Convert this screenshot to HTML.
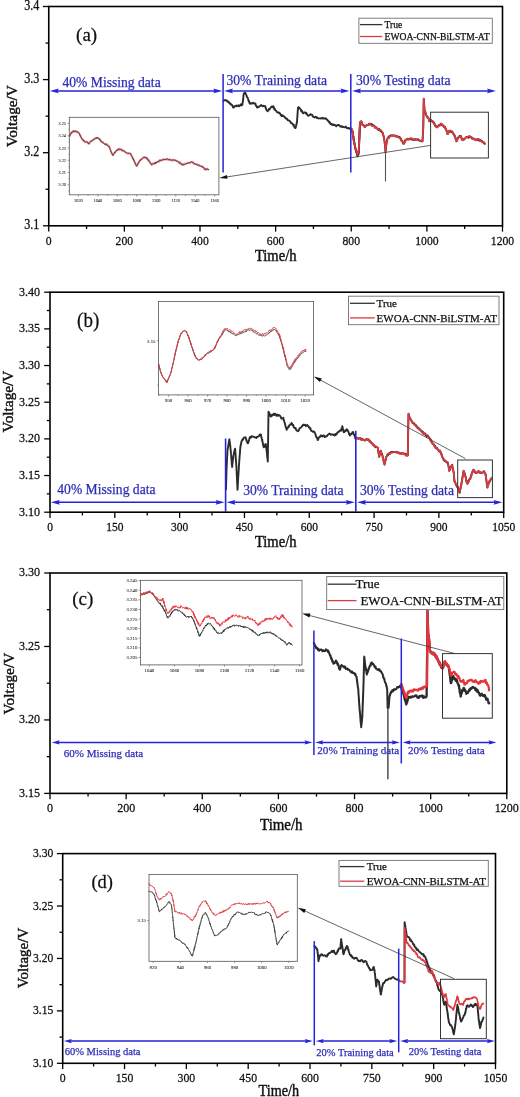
<!DOCTYPE html>
<html><head><meta charset="utf-8"><title>Figure</title>
<style>html,body{margin:0;padding:0;background:#fff;width:520px;height:1097px;overflow:hidden}svg{display:block}</style>
</head><body>
<svg width="520" height="1097" viewBox="0 0 520 1097" font-family="'Liberation Serif', 'Times New Roman', serif">
<rect width="520" height="1097" fill="#fff"/>
<polyline points="223.5,100.8 224.42,100.38 225.33,99.97 226.25,100.5 226.79,101.24 227.32,100.66 227.86,101.96 228.39,102.12 228.93,102.03 229.46,103.3 230,103.75 230.54,103.45 231.07,104.7 231.61,104.58 232.14,105.16 232.68,106.29 233.21,107.55 233.75,107.5 234.38,106.32 235,106 235.62,106.23 236.25,105.5 237,106.31 237.75,105.64 238.5,105.31 239.25,106.36 240,105.5 240.83,104.35 241.67,105.48 242.5,104.5 242.58,103.4 242.67,102.43 242.75,101.66 242.83,101.29 242.92,101.49 243,99.63 243.08,99.63 243.17,99.02 243.25,97.82 243.33,97.42 243.42,95.83 243.5,95.11 243.58,94.65 243.67,94.79 243.75,93.75 244.38,92.99 245,92.5 245.36,92.88 245.71,94.08 246.07,94.56 246.43,95 246.79,96.6 247.14,97.14 247.5,97.5 247.78,97.73 248.06,99.02 248.33,99.63 248.61,100.95 248.89,101.39 249.17,101.28 249.44,103.23 249.72,102.37 250,103.75 250.83,103.35 251.67,103.71 252.5,103 253.33,102.62 254.17,103.48 255,103.75 255.42,103.55 255.83,105.3 256.25,106.1 256.67,106.38 257.08,107.55 257.5,107.5 258.12,106.75 258.75,107.02 259.38,106.42 260,105.98 260.62,105.34 261.25,105 262,105.86 262.75,106.3 263.5,105.7 264.25,106.3 265,106.25 265.36,106.17 265.71,108.04 266.07,108.66 266.43,109.99 266.79,110.4 267.14,110.15 267.5,111.25 268,110.54 268.5,110.55 269,108.89 269.5,109.18 270,108.75 270.6,107.65 271.2,107.06 271.8,106.46 272.4,107.23 273,106.25 273.33,106.21 273.67,107.05 274,107.93 274.33,109.42 274.67,108.62 275,110 275.62,110.33 276.25,110.92 276.88,111.94 277.5,112.24 278.12,112.74 278.75,112.5 279.25,112.6 279.75,113.35 280.25,113.75 280.75,115.19 281.25,115 281.88,116.24 282.5,115.2 283.12,115.67 283.75,116.18 284.38,116.6 285,117.5 285.5,117.97 286,118.66 286.5,118.57 287,118.61 287.5,120 288.33,120.27 289.17,120.6 290,121.25 290.5,121.87 291,123.07 291.5,123.09 292,123.28 292.5,123.75 292.93,124.57 293.36,125.28 293.79,124.77 294.21,126.9 294.64,127.29 295.07,128.07 295.5,128 295.69,127.85 295.88,126.43 296.06,125.76 296.25,124.54 296.44,124.8 296.62,123.09 296.81,122.41 297,122.5 297.05,121.26 297.1,120.46 297.14,120.07 297.19,118.84 297.24,118.03 297.29,117.59 297.33,116.78 297.38,116.54 297.43,115.22 297.48,116.03 297.52,114.85 297.57,113.3 297.62,112.77 297.67,112.23 297.71,111.54 297.76,110.39 297.81,110.99 297.86,110.53 297.9,108.87 297.95,108.19 298,107.5 298.67,107.17 299.33,107.62 300,108.75 300.42,109.09 300.83,109.58 301.25,111.22 301.67,110.64 302.08,111.02 302.5,112.5 303.33,113.31 304.17,112.55 305,112.5 305.5,112.36 306,113.58 306.5,113.15 307,114.55 307.5,115 308.25,115.76 309,115.45 309.75,115.05 310.5,114.17 311.25,114.5 311.75,114.76 312.25,114.9 312.75,116.49 313.25,116.56 313.75,117 314.5,117.6 315.25,116.89 316,116.8 316.75,117.96 317.5,117.5 318.25,118.47 319,118.33 319.75,118.35 320.5,118.47 321.25,118 322,118.58 322.75,117.81 323.5,118.48 324.25,118.34 325,118.75 325.62,118.32 326.25,118.73 326.88,119.6 327.5,119.98 328.12,121.18 328.75,121.25 329.25,122.57 329.75,122.16 330.25,123.54 330.75,124.13 331.25,123.75 332.08,124.99 332.92,124.34 333.75,125 334.58,124.91 335.42,125.34 336.25,126.25 337.08,125.29 337.92,124.88 338.75,125 339.58,125.64 340.42,126.55 341.25,126.25 342,127.01 342.75,126.51 343.5,126.98 344.25,127.39 345,127 345.75,126.45 346.5,127.69 347.25,128.34 348,128.31 348.75,128 349.58,128.7 350.42,128.46 351.25,128.75 351.67,129 352.08,130.94 352.5,131.25 352.6,131.68 352.71,133.25 352.81,134.29 352.92,133.98 353.02,134.72 353.12,136.43 353.23,136.76 353.33,136.49 353.44,137.14 353.54,137.91 353.65,140 353.75,140 353.9,141.28 354.04,140.82 354.19,142.78 354.33,143.78 354.48,143.93 354.62,144.11 354.77,145.19 354.92,145.17 355.06,145.69 355.21,148.14 355.35,148.29 355.5,148.75 355.68,149.48 355.86,150.89 356.05,150.68 356.23,152.15 356.41,152.75 356.59,152.32 356.77,153.08 356.95,153.83 357.14,154.42 357.32,155.72 357.5,156.25 357.92,154.98 358.33,154.44 358.75,153.75 358.78,152.38 358.81,153.07 358.84,151.36 358.86,150.83 358.89,150.35 358.92,150.22 358.95,148.64 358.98,148.82 359.01,147.36 359.03,146.71 359.06,145.98 359.09,144.36 359.12,144.41 359.15,143.24 359.18,142.2 359.2,142.92 359.23,141.09 359.26,140.92 359.29,140.66 359.32,139.65 359.35,138.52 359.38,138.16 359.4,137.51 359.43,137.22 359.46,135.29 359.49,135.39 359.52,134.12 359.55,133.46 359.57,133.64 359.6,132.46 359.63,131.84 359.66,131.49 359.69,131.05 359.72,129.5 359.74,129.09 359.77,128.19 359.8,127.49 359.83,127.11 359.86,125.97 359.89,125.4 359.91,124.59 359.94,124.72 359.97,123.57 360,122.5" fill="none" stroke="#2b2b2b" stroke-width="1.9" stroke-linejoin="round" stroke-linecap="round" />
<polyline points="351.25,128.75 351.67,130.26 352.08,131.21 352.5,131.25 352.6,131.55 352.71,132.82 352.81,134.24 352.92,134.78 353.02,134.24 353.12,134.94 353.23,136.25 353.33,136.31 353.44,137.35 353.54,137.77 353.65,139.58 353.75,140 353.9,141.24 354.04,142.17 354.19,141.57 354.33,143.31 354.48,143.93 354.62,143.73 354.77,145.79 354.92,146.67 355.06,146.06 355.21,148.11 355.35,147.84 355.5,148.75 355.75,149.45 356,151.07 356.25,151.5 356.5,151.02 356.75,152.22 357,153.09 357.25,153.49 357.5,154.5 357.92,153.12 358.33,152.51 358.75,152 358.78,151.7 358.81,149.73 358.84,149.99 358.87,149.08 358.9,147.62 358.93,147.48 358.96,147.31 358.99,146.4 359.02,144.89 359.05,145.85 359.08,144.79 359.11,144.42 359.14,142.16 359.17,141.74 359.2,140.64 359.23,141.26 359.26,139.65 359.29,138.69 359.32,138.51 359.35,138.69 359.38,137.82 359.4,136.11 359.43,135.21 359.46,135.9 359.49,134.57 359.52,134.1 359.55,132.3 359.58,131.54 359.61,131.97 359.64,130.79 359.67,129.46 359.7,130.31 359.73,129.06 359.76,128.66 359.79,126.67 359.82,127.36 359.85,125.23 359.88,125.96 359.91,124.52 359.94,123.62 359.97,123.3 360,122.5 360.62,122.64 361.25,121.25 361.5,121.58 361.75,122.08 362,123.55 362.25,123.78 362.5,125 363.12,124.8 363.75,125.39 364.38,125.69 365,127 365.62,125.96 366.25,125.66 366.88,125.15 367.5,125 368.33,125.05 369.17,123.79 370,123.75 370.62,124.17 371.25,124 371.88,124.72 372.5,124.55 373.12,125.38 373.75,126.25 374.38,125.79 375,127.5 375.62,127.59 376.25,127.36 376.88,128.29 377.5,128.75 378.33,129.95 379.17,128.87 380,130 380.5,131.07 381,130.88 381.5,131.49 382,132.6 382.5,132.5 382.75,133.06 383,134.01 383.25,135.09 383.5,136.37 383.75,136.25 383.85,136.7 383.96,138.31 384.06,138.81 384.17,139.41 384.27,139.72 384.38,140.35 384.48,140.55 384.58,141.42 384.69,142.04 384.79,143.98 384.9,143.83 385,145 385.05,145.09 385.1,145.65 385.15,147.71 385.2,148.47 385.25,148.81 385.3,148.81 385.35,149.44 385.4,150.23 385.45,151.23 385.5,152 385.57,150.68 385.65,150.5 385.73,149.47 385.8,150.03 385.88,149.35 385.95,147.88 386.02,146.64 386.1,147.24 386.18,145.36 386.25,145 386.39,144.05 386.53,142.71 386.67,142.7 386.81,142.18 386.94,141.53 387.08,140.3 387.22,140.15 387.36,138.55 387.5,138.75 388,137.83 388.5,137.01 389,137.07 389.5,135.93 390,136.25 390.75,135.24 391.5,135.6 392.25,135.32 393,135.8 393.75,135.5 394.5,135.7 395.25,136.25 396,136.23 396.75,136.49 397.5,136.25 398.33,137.35 399.17,136.88 400,137.5 400.33,137.81 400.67,139.62 401,138.74 401.33,140.4 401.67,140.88 402,141.25 402.44,141.05 402.88,143.1 403.31,143.83 403.75,143.75 404.1,143.23 404.45,142.67 404.8,142.06 405.15,140.1 405.5,140 406.17,139.63 406.83,139.17 407.5,138.75 408.25,139.35 409,139.3 409.75,139.34 410.5,138.9 411.25,138.75 412,139.71 412.75,139.58 413.5,139.85 414.25,139.26 415,140 415.75,139.16 416.5,139.34 417.25,139.75 418,139.29 418.75,140 419.5,140.85 420.25,140.61 421,140.98 421.75,141.23 422.5,141.25 422.54,140.85 422.58,139.78 422.62,138.18 422.66,138.89 422.7,138.08 422.74,136.91 422.78,136.25 422.82,135.75 422.86,133.96 422.89,134.44 422.93,132.84 422.97,131.8 423.01,131.42 423.05,131.53 423.09,129.86 423.13,130.1 423.17,129.8 423.21,128.21 423.25,127.5 423.26,126.59 423.27,126.06 423.29,125.73 423.3,125.18 423.31,124.2 423.32,123.55 423.34,121.83 423.35,121.26 423.36,120.75 423.37,120.93 423.38,119.43 423.4,119.21 423.41,117.51 423.42,116.89 423.43,116.57 423.45,116.59 423.46,115.93 423.47,115.19 423.48,113.8 423.49,113.51 423.51,112.71 423.52,112.01 423.53,110.69 423.54,111.38 423.55,109.43 423.57,110.13 423.58,109.35 423.59,107 423.6,107.09 423.62,107.04 423.63,106.6 423.64,104.97 423.65,103.94 423.66,103.14 423.68,103.76 423.69,101.74 423.7,101.7 423.71,100.21 423.73,100.2 423.74,100.27 423.75,98.75 423.8,98.79 423.84,100.73 423.89,100.88 423.94,102.26 423.98,102.63 424.03,102.49 424.08,104.39 424.12,104.35 424.17,104.22 424.22,104.89 424.27,106.47 424.31,107.1 424.36,107.53 424.41,107.95 424.45,109.02 424.5,110 424.75,110.38 425,112.04 425.25,111.25 425.5,113.31 425.75,114.18 426,113.6 426.25,115 426.67,116.39 427.08,116.63 427.5,117.6 427.92,117.12 428.33,117.89 428.75,118.75 429,119.37 429.25,121.28 429.5,121.2 430.35,120.91 431.2,120.3 431.72,120.57 432.24,121.21 432.76,121.46 433.28,121.57 433.8,122.9 434.17,122.8 434.54,124.73 434.91,124.36 435.29,126.14 435.66,125.52 436.03,126.16 436.4,127.2 437.3,126.77 438.2,126.3 438.72,125.22 439.24,125.03 439.76,125.56 440.28,124.91 440.8,123.7 441.45,124.71 442.1,124.84 442.75,125.79 443.4,125.5 443.83,126.86 444.27,126.72 444.7,127.6 445.13,126.96 445.57,128.75 446,128.9 446.24,129.55 446.49,130.84 446.73,131.39 446.97,131.49 447.21,131.8 447.46,134.13 447.7,134.1 448.04,132.75 448.38,132.69 448.72,131.78 449.06,131.02 449.4,130.7 450.27,131.4 451.13,132.09 452,131.5 452.37,131.7 452.74,133.04 453.11,133.03 453.49,134.12 453.86,134.45 454.23,134.67 454.6,135.9 454.86,135.94 455.12,136.67 455.39,138.58 455.65,138.49 455.91,138.65 456.18,140.53 456.44,141.34 456.7,141.1 457.04,140.31 457.38,139.05 457.72,138.45 458.06,137.56 458.4,137.6 458.97,136.89 459.55,136.01 460.12,135.86 460.7,135.9 460.98,136.18 461.27,137.46 461.55,138.75 461.83,139.22 462.12,139.33 462.4,140.2 463.05,139.62 463.7,139.39 464.35,138.7 465,138.5 465.65,137.86 466.3,137.01 466.95,137.05 467.6,137.1 468.47,137.81 469.33,136.16 470.2,136.7 470.85,137.16 471.5,137.83 472.15,138.7 472.8,138.5 473.45,138.41 474.1,138.94 474.75,139.32 475.4,140.2 476.05,139.72 476.7,139.5 477.35,140.12 478,139 478.65,140.15 479.3,140.72 479.95,139.71 480.6,141.1 481.47,140.52 482.33,142.01 483.2,141.9 483.77,143.21 484.33,143.05 484.9,143.7" fill="none" stroke="#2b2b2b" stroke-width="1.9" stroke-linejoin="round" stroke-linecap="round" />
<line x1="385.5" y1="148" x2="385.5" y2="181.5" stroke="#555" stroke-width="1.1" />
<polyline points="351.25,128.75 351.67,129.74 352.08,129.52 352.5,131.25 352.6,131.78 352.71,133.48 352.81,134.02 352.92,134.81 353.02,135.75 353.12,135.17 353.23,135.65 353.33,136.46 353.44,137.85 353.54,138.87 353.65,140.07 353.75,140 353.9,141.13 354.04,141.72 354.19,142.66 354.33,142.84 354.48,143.74 354.62,143.55 354.77,145.61 354.92,145.35 355.06,147.32 355.21,147.55 355.35,147.67 355.5,148.75 355.75,148.8 356,149.74 356.25,151.15 356.5,151.98 356.75,151.65 357,152.29 357.25,153.83 357.5,154.5 357.92,153.82 358.33,152.63 358.75,152 358.78,150.8 358.81,150.78 358.84,149.01 358.87,148.83 358.9,148.42 358.93,148.61 358.96,147.34 358.99,147.07 359.02,145.63 359.05,144.5 359.08,143.82 359.11,144.4 359.14,143.24 359.17,141.82 359.2,140.6 359.23,140.76 359.26,140.37 359.29,139.21 359.32,138.22 359.35,138.25 359.38,138.02 359.4,136.06 359.43,135.01 359.46,134.85 359.49,134.3 359.52,134.07 359.55,132.49 359.58,132.87 359.61,132.06 359.64,130.94 359.67,129.7 359.7,130.37 359.73,128.48 359.76,128.7 359.79,126.93 359.82,126.21 359.85,126.48 359.88,124.94 359.91,125.42 359.94,123.9 359.97,122.64 360,122.5 360.62,121.38 361.25,121.25 361.5,121.85 361.75,123.05 362,124.31 362.25,123.61 362.5,125 363.12,125.31 363.75,125.48 364.38,127.35 365,127 365.62,125.86 366.25,125.19 366.88,124.71 367.5,125 368.33,124.39 369.17,124.88 370,123.75 370.62,124.86 371.25,125 371.88,125.9 372.5,126.19 373.12,125.53 373.75,126.25 374.38,126.1 375,127.87 375.62,127.94 376.25,127.07 376.88,128.63 377.5,128.75 378.33,128.95 379.17,129.36 380,130 380.5,130.2 381,130.4 381.5,130.61 382,131.6 382.5,132.5 382.75,132.98 383,134.82 383.25,134.07 383.5,136.34 383.75,136.25 383.85,136.45 383.96,137.45 384.06,139.02 384.17,139.75 384.27,139.77 384.38,139.81 384.48,141.31 384.58,141.85 384.69,143.57 384.79,142.99 384.9,144.03 385,145 385.05,146.41 385.1,145.55 385.15,146.94 385.2,148.36 385.25,148.98 385.3,148.37 385.35,149.06 385.4,149.81 385.45,152.06 385.5,152 385.57,150.86 385.65,151.05 385.73,150.62 385.8,148.91 385.88,148.09 385.95,148.62 386.02,147.31 386.1,145.97 386.18,146.09 386.25,145 386.39,143.98 386.53,143.21 386.67,142.02 386.81,142.68 386.94,142.28 387.08,141.07 387.22,140.94 387.36,138.59 387.5,138.75 388,137.77 388.5,137.71 389,138.07 389.5,137.57 390,136.25 390.75,135.9 391.5,135.5 392.25,135.67 393,135.64 393.75,135.5 394.5,136.42 395.25,135.23 396,136.49 396.75,136.53 397.5,136.25 398.33,137.25 399.17,137.57 400,137.5 400.33,138.32 400.67,138.44 401,139.05 401.33,139.75 401.67,141.13 402,141.25 402.44,141.12 402.88,141.96 403.31,143.58 403.75,143.75 404.1,142.55 404.45,141.47 404.8,140.66 405.15,140.84 405.5,140 406.17,139.27 406.83,140.03 407.5,138.75 408.25,139.44 409,139.63 409.75,138.33 410.5,138 411.25,138.75 412,138.27 412.75,139.25 413.5,139.88 414.25,139.65 415,140 415.75,139.52 416.5,139.85 417.25,140.22 418,140.31 418.75,140 419.5,140.7 420.25,141.12 421,141.05 421.75,140.32 422.5,141.25 422.54,141.14 422.58,139.43 422.62,139.2 422.66,138.13 422.7,138.06 422.74,136.37 422.78,135.73 422.82,135 422.86,134.11 422.89,134.7 422.93,133.43 422.97,132.25 423.01,131.66 423.05,132 423.09,130.41 423.13,129.19 423.17,129.5 423.21,128.5 423.25,127.5 423.26,127.68 423.27,125.38 423.29,125.35 423.3,125.27 423.31,124.61 423.32,124.04 423.34,121.76 423.35,121.52 423.36,120.5 423.37,119.93 423.38,120.64 423.4,119.24 423.41,119.16 423.42,117.45 423.43,117.64 423.45,116.19 423.46,115.15 423.47,115.38 423.48,114.98 423.49,112.77 423.51,112.95 423.52,112.29 423.53,110.86 423.54,110.43 423.55,109.32 423.57,108.74 423.58,108.13 423.59,108.04 423.6,107.44 423.62,105.93 423.63,104.88 423.64,104.75 423.65,104.68 423.66,103.09 423.68,102.62 423.69,101.72 423.7,102.09 423.71,100.94 423.73,99.37 423.74,98.73 423.75,98.75 423.8,99.26 423.84,100.25 423.89,101.11 423.94,100.83 423.98,101.66 424.03,103.32 424.08,103.51 424.12,103.98 424.17,104.73 424.22,106.6 424.27,106.15 424.31,107.31 424.36,107.63 424.41,108.44 424.45,109.95 424.5,110 424.75,111.61 425,111.18 425.25,111.6 425.5,113.27 425.75,113.04 426,113.4 426.25,115 426.67,116.35 427.08,116.11 427.5,117.45 427.92,117.33 428.33,118.81 428.75,118.75 429,119.5 429.25,119.78 429.5,121.2 430.35,119.88 431.2,120.3 431.72,120.91 432.24,121.59 432.76,122.6 433.28,121.64 433.8,122.9 434.17,123.73 434.54,123.9 434.91,124.75 435.29,124.72 435.66,125.58 436.03,126.62 436.4,127.2 437.3,127.52 438.2,126.3 438.72,125.08 439.24,125.24 439.76,125.29 440.28,125.06 440.8,123.7 441.45,123.61 442.1,123.93 442.75,125.85 443.4,125.5 443.83,126.92 444.27,126.6 444.7,126.4 445.13,128.53 445.57,128.13 446,128.9 446.24,130.37 446.49,130.6 446.73,131.71 446.97,131.26 447.21,133.13 447.46,132.86 447.7,134.1 448.04,133.25 448.38,133.36 448.72,132.65 449.06,130.81 449.4,130.7 450.27,130.46 451.13,131.05 452,131.5 452.37,132.16 452.74,132.55 453.11,132.71 453.49,133.56 453.86,135.05 454.23,135.99 454.6,135.9 454.86,135.72 455.12,137.31 455.39,138.31 455.65,137.67 455.91,139.76 456.18,139.11 456.44,140.63 456.7,141.1 457.04,140.49 457.38,139.93 457.72,138.65 458.06,138.16 458.4,137.6 458.97,137.32 459.55,136.62 460.12,136.61 460.7,135.9 460.98,136.52 461.27,137.22 461.55,137.19 461.83,138.98 462.12,139.46 462.4,140.2 463.05,139.3 463.7,139.82 464.35,139.43 465,138.5 465.65,138.07 466.3,137.22 466.95,137.4 467.6,137.1 468.47,136.26 469.33,136.16 470.2,136.7 470.85,137.03 471.5,136.87 472.15,137.95 472.8,138.5 473.45,138.94 474.1,138.52 474.75,140.02 475.4,140.2 476.05,139.15 476.7,140.02 477.35,139.8 478,139 478.65,139.55 479.3,139.25 479.95,140.58 480.6,141.1 481.47,141.15 482.33,142.44 483.2,141.9 483.77,141.85 484.33,143.74 484.9,143.7" fill="none" stroke="#dc3a3f" stroke-width="1.7" stroke-linejoin="round" stroke-linecap="round" />
<rect x="430.6" y="112.2" width="57.8" height="45.8" fill="none" stroke="#333" stroke-width="1.0"/>
<line x1="430.6" y1="145.4" x2="222" y2="177.7" stroke="#333" stroke-width="0.75" />
<polygon points="219.3,178.1 226.9,174.9 227.51,178.85" fill="#111"/>
<rect x="69.3" y="117.3" width="149.6" height="77.5" fill="#fff" stroke="#555" stroke-width="0.8"/>
<line x1="78.4" y1="194.8" x2="78.4" y2="196.5" stroke="#555" stroke-width="0.6" />
<text transform="translate(78.4,201.5) scale(1,1.0)" font-size="4.3" text-anchor="middle" fill="#333" stroke="#333" stroke-width="0.08" >1020</text>
<line x1="97.86" y1="194.8" x2="97.86" y2="196.5" stroke="#555" stroke-width="0.6" />
<text transform="translate(97.86,201.5) scale(1,1.0)" font-size="4.3" text-anchor="middle" fill="#333" stroke="#333" stroke-width="0.08" >1040</text>
<line x1="117.31" y1="194.8" x2="117.31" y2="196.5" stroke="#555" stroke-width="0.6" />
<text transform="translate(117.31,201.5) scale(1,1.0)" font-size="4.3" text-anchor="middle" fill="#333" stroke="#333" stroke-width="0.08" >1060</text>
<line x1="136.77" y1="194.8" x2="136.77" y2="196.5" stroke="#555" stroke-width="0.6" />
<text transform="translate(136.77,201.5) scale(1,1.0)" font-size="4.3" text-anchor="middle" fill="#333" stroke="#333" stroke-width="0.08" >1080</text>
<line x1="156.23" y1="194.8" x2="156.23" y2="196.5" stroke="#555" stroke-width="0.6" />
<text transform="translate(156.23,201.5) scale(1,1.0)" font-size="4.3" text-anchor="middle" fill="#333" stroke="#333" stroke-width="0.08" >1100</text>
<line x1="175.69" y1="194.8" x2="175.69" y2="196.5" stroke="#555" stroke-width="0.6" />
<text transform="translate(175.69,201.5) scale(1,1.0)" font-size="4.3" text-anchor="middle" fill="#333" stroke="#333" stroke-width="0.08" >1120</text>
<line x1="195.14" y1="194.8" x2="195.14" y2="196.5" stroke="#555" stroke-width="0.6" />
<text transform="translate(195.14,201.5) scale(1,1.0)" font-size="4.3" text-anchor="middle" fill="#333" stroke="#333" stroke-width="0.08" >1140</text>
<line x1="214.6" y1="194.8" x2="214.6" y2="196.5" stroke="#555" stroke-width="0.6" />
<text transform="translate(214.6,201.5) scale(1,1.0)" font-size="4.3" text-anchor="middle" fill="#333" stroke="#333" stroke-width="0.08" >1160</text>
<line x1="88.13" y1="194.8" x2="88.13" y2="196" stroke="#555" stroke-width="0.5" />
<line x1="107.59" y1="194.8" x2="107.59" y2="196" stroke="#555" stroke-width="0.5" />
<line x1="127.04" y1="194.8" x2="127.04" y2="196" stroke="#555" stroke-width="0.5" />
<line x1="146.5" y1="194.8" x2="146.5" y2="196" stroke="#555" stroke-width="0.5" />
<line x1="165.96" y1="194.8" x2="165.96" y2="196" stroke="#555" stroke-width="0.5" />
<line x1="185.41" y1="194.8" x2="185.41" y2="196" stroke="#555" stroke-width="0.5" />
<line x1="204.87" y1="194.8" x2="204.87" y2="196" stroke="#555" stroke-width="0.5" />
<line x1="68.3" y1="190.81" x2="69.3" y2="190.81" stroke="#555" stroke-width="0.5" />
<line x1="68.3" y1="178.59" x2="69.3" y2="178.59" stroke="#555" stroke-width="0.5" />
<line x1="68.3" y1="166.37" x2="69.3" y2="166.37" stroke="#555" stroke-width="0.5" />
<line x1="68.3" y1="154.15" x2="69.3" y2="154.15" stroke="#555" stroke-width="0.5" />
<line x1="68.3" y1="141.93" x2="69.3" y2="141.93" stroke="#555" stroke-width="0.5" />
<line x1="68.3" y1="129.71" x2="69.3" y2="129.71" stroke="#555" stroke-width="0.5" />
<line x1="67.6" y1="184.7" x2="69.3" y2="184.7" stroke="#555" stroke-width="0.6" />
<text transform="translate(66,186.2) scale(1,1.0)" font-size="4.3" text-anchor="end" fill="#333" stroke="#333" stroke-width="0.08" >3.20</text>
<line x1="67.6" y1="172.48" x2="69.3" y2="172.48" stroke="#555" stroke-width="0.6" />
<text transform="translate(66,173.98) scale(1,1.0)" font-size="4.3" text-anchor="end" fill="#333" stroke="#333" stroke-width="0.08" >3.21</text>
<line x1="67.6" y1="160.26" x2="69.3" y2="160.26" stroke="#555" stroke-width="0.6" />
<text transform="translate(66,161.76) scale(1,1.0)" font-size="4.3" text-anchor="end" fill="#333" stroke="#333" stroke-width="0.08" >3.22</text>
<line x1="67.6" y1="148.04" x2="69.3" y2="148.04" stroke="#555" stroke-width="0.6" />
<text transform="translate(66,149.54) scale(1,1.0)" font-size="4.3" text-anchor="end" fill="#333" stroke="#333" stroke-width="0.08" >3.23</text>
<line x1="67.6" y1="135.82" x2="69.3" y2="135.82" stroke="#555" stroke-width="0.6" />
<text transform="translate(66,137.32) scale(1,1.0)" font-size="4.3" text-anchor="end" fill="#333" stroke="#333" stroke-width="0.08" >3.24</text>
<line x1="67.6" y1="123.6" x2="69.3" y2="123.6" stroke="#555" stroke-width="0.6" />
<text transform="translate(66,125.1) scale(1,1.0)" font-size="4.3" text-anchor="end" fill="#333" stroke="#333" stroke-width="0.08" >3.25</text>
<polyline points="69.4,136 69.6,136.64 69.8,135.76 70,135.58 70.2,133.99 70.4,135.21 70.6,133.88 70.8,134.46 71,134.03 71.2,132.18 71.4,132.5 71.77,132.88 72.14,132.96 72.51,131.03 72.89,131.4 73.26,132.01 73.63,130.62 74,131.1 74.43,131.98 74.87,130.82 75.3,131.98 75.73,130.72 76.17,131.52 76.6,131.6 76.97,132.7 77.34,131.53 77.71,131.9 78.09,132.64 78.46,132.52 78.83,132.22 79.2,133.4 79.39,133.14 79.57,133.47 79.76,135.39 79.94,135.25 80.13,136.05 80.31,134.97 80.5,136.57 80.69,135.6 80.87,136.8 81.06,137.39 81.24,137.21 81.43,138.6 81.61,138.34 81.8,138.6 82.09,139.05 82.38,139.94 82.67,138.68 82.96,140.74 83.24,140.3 83.53,140.12 83.82,141.22 84.11,140.44 84.4,141.2 84.83,142.31 85.27,141.62 85.7,141.32 86.13,142.26 86.57,141.75 87,142 87.28,141.64 87.57,143.05 87.85,141.95 88.13,143.77 88.42,142.92 88.7,143.7 88.99,143.7 89.28,144.11 89.57,143.04 89.86,142.92 90.14,141.94 90.43,141.04 90.72,140.82 91.01,140.78 91.3,141.2 91.67,141.17 92.04,140.55 92.41,140.45 92.79,140.96 93.16,139.18 93.53,139.11 93.9,139.4 94.29,139.52 94.68,138.07 95.07,137.84 95.46,138.35 95.84,137.67 96.23,137.98 96.62,137.53 97.01,138.06 97.4,137.7 97.83,138.1 98.25,137.56 98.67,138.62 99.1,138.6 99.36,138.89 99.62,138.55 99.88,140.49 100.14,139.45 100.4,139.6 100.66,139.83 100.92,141.26 101.18,142.06 101.44,142.22 101.7,142 102.07,142.05 102.44,142.01 102.81,141.75 103.19,143.26 103.56,143.34 103.93,143.16 104.3,143.7 104.73,144.14 105.17,143.89 105.6,145.02 106.03,144.77 106.47,143.95 106.9,144.6 107.19,145.7 107.48,144.27 107.77,145.53 108.06,145.57 108.34,145.52 108.63,145.45 108.92,147.18 109.21,145.94 109.5,147.2 109.63,147.7 109.76,148.88 109.89,147.68 110.02,148.2 110.15,149.42 110.28,149.61 110.42,150.28 110.55,151.03 110.68,150.15 110.81,150.82 110.94,151.2 111.07,151.1 111.2,152.4 111.42,153.54 111.65,153.69 111.88,153.92 112.1,152.86 112.33,154.9 112.55,155.07 112.78,154.87 113,155.3 113.24,155.44 113.47,154.51 113.71,153.72 113.95,153.13 114.18,153.04 114.42,152.3 114.65,152.55 114.89,153.04 115.13,152.58 115.36,152.54 115.6,151.5 115.89,151.65 116.18,150.48 116.47,150.77 116.76,150.26 117.04,150.69 117.33,149.88 117.62,149.09 117.91,149.56 118.2,149 118.63,150.01 119.07,148.6 119.5,150.01 119.93,148.36 120.37,148.94 120.8,149.5 121.17,149.14 121.54,150.33 121.91,150.9 122.29,150.68 122.66,150.01 123.03,151.29 123.4,150.7 123.77,150.6 124.14,150.66 124.51,152.24 124.89,151.93 125.26,152.3 125.63,152.49 126,152.4 126.43,153.51 126.87,152.64 127.3,153.53 127.73,153.4 128.17,153.87 128.6,153.3 129.03,153.17 129.45,153.75 129.88,153.44 130.3,153.3 130.49,153.29 130.68,153.48 130.87,154.68 131.06,153.97 131.24,156.01 131.43,154.86 131.62,155 131.81,155.54 132,156.7 132.19,157.93 132.37,157.13 132.56,157.1 132.74,157.24 132.93,157.64 133.11,159.31 133.3,159.57 133.49,160.07 133.67,160.52 133.86,159.55 134.04,160.97 134.23,160.88 134.41,162.16 134.6,161.9 134.79,162.93 134.98,163.46 135.17,162.2 135.36,164.2 135.55,164.68 135.75,165.13 135.94,163.85 136.13,164.44 136.32,164.64 136.51,164.88 136.7,166.2 136.9,166.52 137.1,166.07 137.3,165.34 137.5,165.34 137.7,164.57 137.9,163.51 138.1,162.76 138.3,162.37 138.5,162.8 138.75,162.96 139,161.51 139.25,161.39 139.5,161.25 139.75,160.09 140,160.21 140.25,159.92 140.5,160.43 140.75,159.39 141,159.3 141.35,158.72 141.7,159.79 142.05,158.65 142.4,159.12 142.75,158.44 143.1,157.04 143.45,157.59 143.8,157.41 144.15,157.87 144.5,157.1 144.87,156.99 145.24,157.91 145.61,157.78 145.99,157.33 146.36,158.82 146.73,157.48 147.1,158.5 147.36,159.48 147.62,158.52 147.88,158.52 148.14,159.26 148.4,160.72 148.66,161.5 148.92,159.89 149.18,161.2 149.44,161.54 149.7,161.9 149.94,162.86 150.19,162.01 150.43,163 150.67,163.08 150.91,164.42 151.16,163.65 151.4,164.5 151.83,165.25 152.27,163.8 152.7,163.53 153.13,164.37 153.57,163.83 154,163.7 154.39,162.72 154.78,163.57 155.17,162.26 155.56,163.48 155.94,163.09 156.33,163.07 156.72,162.56 157.11,161.81 157.5,161.9 157.89,161.51 158.28,161.31 158.67,162.11 159.06,160.32 159.44,161.73 159.83,159.82 160.22,159.99 160.61,159.92 161,160.2 161.43,160.89 161.85,159.98 162.28,159.62 162.7,160.52 163.12,159.1 163.55,159.45 163.97,159.48 164.4,159.3 164.84,159.81 165.28,159.81 165.71,159.59 166.15,159 166.59,158.95 167.03,158.61 167.46,159.99 167.9,159.3 168.33,159.74 168.75,160.01 169.18,158.98 169.6,159.63 170.03,160.41 170.45,160.13 170.88,159.34 171.3,160.2 171.74,160.12 172.18,160.97 172.61,159.68 173.05,159.58 173.49,159.8 173.93,160.61 174.36,160.89 174.8,160.2 175.19,159.7 175.58,159.89 175.97,160.26 176.36,160.61 176.74,161.19 177.13,160.66 177.52,161.18 177.91,161.09 178.3,161.9 178.67,163.05 179.04,162.76 179.41,161.7 179.79,163.62 180.16,162.1 180.53,162.87 180.9,163.3 181.18,164.55 181.47,164.46 181.75,164.62 182.03,164.3 182.32,164.11 182.6,165 183.03,165.11 183.47,163.88 183.9,163.91 184.33,164.11 184.77,163.23 185.2,164 185.59,163.66 185.98,164.32 186.37,163.99 186.76,163.47 187.14,163.6 187.53,163.13 187.92,162.35 188.31,163.14 188.7,162.8 189.12,162.5 189.55,163.06 189.97,163.28 190.4,162.21 190.82,162.39 191.25,162.62 191.67,161.85 192.1,161.9 192.47,161.61 192.84,162.86 193.21,163.43 193.59,163.48 193.96,163.59 194.33,164.15 194.7,163.7 195.09,164.2 195.48,164.27 195.87,164.04 196.26,163.9 196.64,164.68 197.03,163.76 197.42,164.55 197.81,165.42 198.2,165 198.57,165.6 198.94,165.6 199.31,165.01 199.69,165.53 200.06,165.77 200.43,166.27 200.8,166.2 201.23,166.17 201.67,166.85 202.1,167.51 202.53,166.17 202.97,167.26 203.4,167.1 203.64,168.03 203.89,167.62 204.13,168.19 204.37,169.53 204.61,168.03 204.86,169.42 205.1,169.7 205.53,168.8 205.95,169.81 206.38,169.91 206.8,168.8 207.16,169.02 207.52,168.36 207.88,169.49 208.24,169.6 208.6,169.7" fill="none" stroke="#e04050" stroke-width="1.6" stroke-linejoin="round" stroke-linecap="round" opacity="0.6"/>
<polyline points="69.4,136 69.65,135.82 69.9,135.14 70.15,134.85 70.4,134.64 70.65,133.84 70.9,133.27 71.15,133.48 71.4,132.5 71.83,131.92 72.27,132.25 72.7,131.67 73.13,131.88 73.57,130.88 74,131.1 74.52,131.78 75.04,131.13 75.56,130.87 76.08,131.23 76.6,131.6 76.97,131.74 77.34,131.53 77.71,132.27 78.09,132.53 78.46,133.12 78.83,132.97 79.2,133.4 79.42,133.55 79.63,133.94 79.85,134.99 80.07,135.66 80.28,135.6 80.5,135.66 80.72,136.8 80.93,136.74 81.15,136.95 81.37,137.29 81.58,138.5 81.8,138.6 82.12,139.3 82.45,139.41 82.78,139.54 83.1,139.97 83.42,139.9 83.75,141.11 84.08,140.7 84.4,141.2 84.83,141.5 85.27,141.85 85.7,141.98 86.13,141.7 86.57,141.62 87,142 87.34,142.4 87.68,142.23 88.02,143.42 88.36,143.19 88.7,143.7 89.03,143.81 89.35,142.8 89.67,142.61 90,142.15 90.33,142.05 90.65,141.45 90.97,140.92 91.3,141.2 91.67,141.21 92.04,140.42 92.41,140.12 92.79,139.93 93.16,139.89 93.53,139.57 93.9,139.4 94.34,139.35 94.78,139.17 95.21,138.6 95.65,139.06 96.09,138.76 96.53,137.59 96.96,138.31 97.4,137.7 97.83,138.41 98.25,138.49 98.67,137.94 99.1,138.6 99.39,139.38 99.68,139.52 99.97,139.15 100.26,139.52 100.54,141.03 100.83,141.05 101.12,140.94 101.41,141.14 101.7,142 102.13,141.85 102.57,142.25 103,143.18 103.43,142.95 103.87,143 104.3,143.7 104.73,144.33 105.17,144.35 105.6,143.75 106.03,144.77 106.47,144.58 106.9,144.6 107.23,145.26 107.55,145.45 107.88,146.05 108.2,146.25 108.53,146.63 108.85,146.19 109.17,147.11 109.5,147.2 109.64,147.67 109.78,148.36 109.92,148.43 110.07,149.39 110.21,149.43 110.35,149.52 110.49,149.91 110.63,150.23 110.78,151.09 110.92,151 111.06,151.93 111.2,152.4 111.46,152.39 111.71,153.22 111.97,153.64 112.23,154.1 112.49,154.91 112.74,154.29 113,155.3 113.26,155.33 113.52,154.5 113.78,154.24 114.04,153.98 114.3,153.81 114.56,152.87 114.82,152.54 115.08,152.81 115.34,151.37 115.6,151.5 115.92,151.35 116.25,151.04 116.58,150 116.9,150.38 117.22,150.16 117.55,150.14 117.88,149.11 118.2,149 118.72,149.68 119.24,149.21 119.76,149.28 120.28,149.88 120.8,149.5 121.23,149.14 121.67,150.16 122.1,150.25 122.53,150.11 122.97,150.93 123.4,150.7 123.83,150.82 124.27,151.24 124.7,151.58 125.13,152.16 125.57,151.77 126,152.4 126.43,152.47 126.87,152.61 127.3,152.91 127.73,153.39 128.17,152.9 128.6,153.3 129.17,153.69 129.73,153.18 130.3,153.3 130.51,153.73 130.73,153.88 130.94,154.58 131.15,155.57 131.36,155.61 131.57,156.2 131.79,156.07 132,156.7 132.22,156.91 132.43,157.33 132.65,158.1 132.87,158.6 133.08,159.21 133.3,158.75 133.52,160 133.73,160.63 133.95,160.65 134.17,160.49 134.38,161.23 134.6,161.9 134.81,161.74 135.02,162.39 135.23,163.7 135.44,163.75 135.65,164.24 135.86,164.83 136.07,165.4 136.28,165.47 136.49,165.91 136.7,166.2 136.92,165.93 137.15,165.59 137.38,165.04 137.6,164.72 137.82,163.73 138.05,163.85 138.28,163.17 138.5,162.8 138.78,162.73 139.06,161.54 139.33,161.25 139.61,160.69 139.89,161.18 140.17,160.96 140.44,160.26 140.72,159.53 141,159.3 141.39,159.44 141.78,159.15 142.17,158.64 142.56,158.03 142.94,157.84 143.33,157.74 143.72,157.37 144.11,157.26 144.5,157.1 144.93,157.5 145.37,158.09 145.8,157.27 146.23,158.11 146.67,157.71 147.1,158.5 147.39,158.42 147.68,159.63 147.97,159.72 148.26,160.51 148.54,160.32 148.83,160.18 149.12,161.01 149.41,161.63 149.7,161.9 149.98,162.86 150.27,163.34 150.55,163.17 150.83,163.53 151.12,163.59 151.4,164.5 151.83,164.54 152.27,163.89 152.7,163.68 153.13,163.39 153.57,163.24 154,163.7 154.44,163.7 154.88,162.8 155.31,163.58 155.75,162.31 156.19,163.02 156.62,161.9 157.06,161.55 157.5,161.9 157.94,161.95 158.38,161.17 158.81,161.54 159.25,160.67 159.69,160.3 160.12,160.95 160.56,160.67 161,160.2 161.49,160.5 161.97,160.22 162.46,159.32 162.94,159.84 163.43,159.81 163.91,159.38 164.4,159.3 164.9,159.82 165.4,159 165.9,159.86 166.4,159.56 166.9,158.71 167.4,158.72 167.9,159.3 168.39,159.61 168.87,159.94 169.36,159.18 169.84,159.59 170.33,160.22 170.81,159.67 171.3,160.2 171.8,160.63 172.3,160.18 172.8,159.67 173.3,160.04 173.8,160.29 174.3,160.13 174.8,160.2 175.24,160.62 175.68,160.2 176.11,161.19 176.55,160.89 176.99,161.44 177.43,161.63 177.86,161.59 178.3,161.9 178.73,162 179.17,162.71 179.6,163.13 180.03,163.17 180.47,163.15 180.9,163.3 181.24,163.39 181.58,163.45 181.92,164.89 182.26,164.9 182.6,165 183.03,165.23 183.47,164.47 183.9,164.63 184.33,164.91 184.77,164.56 185.2,164 185.64,163.97 186.07,163.47 186.51,163.46 186.95,163.87 187.39,163.1 187.82,163.32 188.26,163.07 188.7,162.8 189.19,163.15 189.67,162.91 190.16,162.15 190.64,161.69 191.13,161.87 191.61,161.94 192.1,161.9 192.47,162.26 192.84,162.79 193.21,163.14 193.59,162.38 193.96,163.59 194.33,163.82 194.7,163.7 195.14,164.3 195.57,164.11 196.01,163.92 196.45,164.77 196.89,164.88 197.32,164.9 197.76,165.33 198.2,165 198.63,165.02 199.07,164.9 199.5,165.66 199.93,166.16 200.37,165.64 200.8,166.2 201.23,166.65 201.67,167.02 202.1,166.33 202.53,166.93 202.97,167.16 203.4,167.1 203.68,167.49 203.97,167.61 204.25,168.11 204.53,169.13 204.82,169.62 205.1,169.7 205.53,169.43 205.95,168.76 206.38,169.39 206.8,168.8 207.25,169.35 207.7,168.93 208.15,169.57 208.6,169.7" fill="none" stroke="#3a2a2a" stroke-width="0.8" stroke-linejoin="round" stroke-linecap="round" />
<line x1="55.2" y1="90.9" x2="216.9" y2="90.9" stroke="#2424d8" stroke-width="1.5" />
<polygon points="49.8,90.9 58.8,88.5 57.45,90.9 58.8,93.3" fill="#2424d8"/>
<polygon points="222.3,90.9 213.3,88.5 214.65,90.9 213.3,93.3" fill="#2424d8"/>
<line x1="229.4" y1="90.9" x2="344.1" y2="90.9" stroke="#2424d8" stroke-width="1.5" />
<polygon points="224,90.9 233,88.5 231.65,90.9 233,93.3" fill="#2424d8"/>
<polygon points="349.5,90.9 340.5,88.5 341.85,90.9 340.5,93.3" fill="#2424d8"/>
<line x1="357.4" y1="90.9" x2="490.6" y2="90.9" stroke="#2424d8" stroke-width="1.5" />
<polygon points="352,90.9 361,88.5 359.65,90.9 361,93.3" fill="#2424d8"/>
<polygon points="496,90.9 487,88.5 488.35,90.9 487,93.3" fill="#2424d8"/>
<line x1="223.1" y1="74" x2="223.1" y2="172.4" stroke="#2424d8" stroke-width="1.5" />
<line x1="350.8" y1="74" x2="350.8" y2="172.5" stroke="#2424d8" stroke-width="1.5" />
<text transform="translate(62.5,86.5) scale(1,1.0)" font-size="13.6" text-anchor="start" fill="#2e2eb8" stroke="#2e2eb8" stroke-width="0.25" >40% Missing data</text>
<text transform="translate(226.5,84.6) scale(1,1.0)" font-size="13.6" text-anchor="start" fill="#2e2eb8" stroke="#2e2eb8" stroke-width="0.25" >30% Training data</text>
<text transform="translate(356,85.1) scale(1,1.0)" font-size="13.7" text-anchor="start" fill="#2e2eb8" stroke="#2e2eb8" stroke-width="0.25" >30% Testing data</text>
<line x1="48.75" y1="225.8" x2="48.75" y2="231.6" stroke="#000" stroke-width="1.3" />
<text transform="translate(48.75,245.1) scale(1,1.13)" font-size="11.7" text-anchor="middle" fill="#111" stroke="#111" stroke-width="0.25" >0</text>
<line x1="124.38" y1="225.8" x2="124.38" y2="231.6" stroke="#000" stroke-width="1.3" />
<text transform="translate(124.38,245.1) scale(1,1.13)" font-size="11.7" text-anchor="middle" fill="#111" stroke="#111" stroke-width="0.25" >200</text>
<line x1="200" y1="225.8" x2="200" y2="231.6" stroke="#000" stroke-width="1.3" />
<text transform="translate(200,245.1) scale(1,1.13)" font-size="11.7" text-anchor="middle" fill="#111" stroke="#111" stroke-width="0.25" >400</text>
<line x1="275.62" y1="225.8" x2="275.62" y2="231.6" stroke="#000" stroke-width="1.3" />
<text transform="translate(275.62,245.1) scale(1,1.13)" font-size="11.7" text-anchor="middle" fill="#111" stroke="#111" stroke-width="0.25" >600</text>
<line x1="351.25" y1="225.8" x2="351.25" y2="231.6" stroke="#000" stroke-width="1.3" />
<text transform="translate(351.25,245.1) scale(1,1.13)" font-size="11.7" text-anchor="middle" fill="#111" stroke="#111" stroke-width="0.25" >800</text>
<line x1="426.88" y1="225.8" x2="426.88" y2="231.6" stroke="#000" stroke-width="1.3" />
<text transform="translate(426.88,245.1) scale(1,1.13)" font-size="11.7" text-anchor="middle" fill="#111" stroke="#111" stroke-width="0.25" >1000</text>
<line x1="502.5" y1="225.8" x2="502.5" y2="231.6" stroke="#000" stroke-width="1.3" />
<text transform="translate(502.5,245.1) scale(1,1.13)" font-size="11.7" text-anchor="middle" fill="#111" stroke="#111" stroke-width="0.25" >1200</text>
<line x1="86.56" y1="225.8" x2="86.56" y2="229" stroke="#000" stroke-width="1.3" />
<line x1="162.19" y1="225.8" x2="162.19" y2="229" stroke="#000" stroke-width="1.3" />
<line x1="237.81" y1="225.8" x2="237.81" y2="229" stroke="#000" stroke-width="1.3" />
<line x1="313.44" y1="225.8" x2="313.44" y2="229" stroke="#000" stroke-width="1.3" />
<line x1="389.06" y1="225.8" x2="389.06" y2="229" stroke="#000" stroke-width="1.3" />
<line x1="464.69" y1="225.8" x2="464.69" y2="229" stroke="#000" stroke-width="1.3" />
<line x1="42.95" y1="225.8" x2="48.75" y2="225.8" stroke="#000" stroke-width="1.3" />
<text transform="translate(39.3,229) scale(1,1.13)" font-size="12.1" text-anchor="end" fill="#111" stroke="#111" stroke-width="0.25" >3.1</text>
<line x1="42.95" y1="152.7" x2="48.75" y2="152.7" stroke="#000" stroke-width="1.3" />
<text transform="translate(39.3,155.9) scale(1,1.13)" font-size="12.1" text-anchor="end" fill="#111" stroke="#111" stroke-width="0.25" >3.2</text>
<line x1="42.95" y1="79.6" x2="48.75" y2="79.6" stroke="#000" stroke-width="1.3" />
<text transform="translate(39.3,82.8) scale(1,1.13)" font-size="12.1" text-anchor="end" fill="#111" stroke="#111" stroke-width="0.25" >3.3</text>
<line x1="42.95" y1="6.5" x2="48.75" y2="6.5" stroke="#000" stroke-width="1.3" />
<text transform="translate(39.3,9.7) scale(1,1.13)" font-size="12.1" text-anchor="end" fill="#111" stroke="#111" stroke-width="0.25" >3.4</text>
<line x1="45.55" y1="189.25" x2="48.75" y2="189.25" stroke="#000" stroke-width="1.3" />
<line x1="45.55" y1="116.15" x2="48.75" y2="116.15" stroke="#000" stroke-width="1.3" />
<line x1="45.55" y1="43.05" x2="48.75" y2="43.05" stroke="#000" stroke-width="1.3" />
<rect x="48.75" y="6.5" width="453.75" height="219.3" fill="none" stroke="#000" stroke-width="1.6"/>
<text transform="translate(275.7,260.8) scale(1,1.15)" font-size="14.6" text-anchor="middle" fill="#111" stroke="#111" stroke-width="0.4" >Time/h</text>
<text transform="translate(17,116) rotate(-90) scale(1.0,1)" font-size="15.3" text-anchor="middle" fill="#111" stroke="#111" stroke-width="0.4">Voltage/V</text>
<text transform="translate(76.1,40.6) scale(1,1.03)" font-size="19" text-anchor="start" fill="#111" stroke="#111" stroke-width="0.25" >(a)</text>
<rect x="358.9" y="18.2" width="133.4" height="25.1" fill="#fff" stroke="#707070" stroke-width="0.9"/>
<line x1="360" y1="24.6" x2="382.3" y2="24.6" stroke="#333" stroke-width="1.3" />
<line x1="360" y1="36.5" x2="382.3" y2="36.5" stroke="#dc3a3f" stroke-width="1.3" />
<text transform="translate(384.6,27.77) scale(1,1.0)" font-size="9.6" text-anchor="start" fill="#111" stroke="#111" stroke-width="0.25" >True</text>
<text transform="translate(384.6,39.67) scale(1,1.0)" font-size="9.6" text-anchor="start" fill="#111" stroke="#111" stroke-width="0.25" >EWOA-CNN-BiLSTM-AT</text>
<polyline points="226,489.2 226.02,489.2 226.04,488.47 226.06,487.11 226.07,486.31 226.09,485.81 226.11,484.37 226.13,483.67 226.15,482.94 226.17,483.16 226.19,481.84 226.2,481.49 226.22,480.49 226.24,479.99 226.26,478.61 226.28,477.71 226.3,478.72 226.31,476.88 226.33,475.69 226.35,475.93 226.37,475.5 226.39,473.65 226.41,473.73 226.43,472.57 226.44,472.17 226.46,470.56 226.48,469.87 226.5,470 226.54,470.17 226.57,469.23 226.61,467.83 226.64,467.26 226.68,466 226.71,466.22 226.75,464.87 226.79,465.09 226.82,464.05 226.86,463.43 226.89,462.98 226.93,460.99 226.96,459.88 227,459.46 227.04,458.71 227.07,457.82 227.11,457.05 227.14,457.25 227.18,457.1 227.21,455.64 227.25,455.8 227.29,455.02 227.32,452.79 227.36,453.03 227.39,451.96 227.43,450.74 227.46,451.54 227.5,450 227.63,448.85 227.75,448.69 227.88,448.11 228.01,447.97 228.13,446.74 228.26,445.53 228.39,444.91 228.51,443.68 228.64,444.42 228.77,443.75 228.89,441.65 229.02,440.61 229.15,440.29 229.27,439.75 229.4,439.3 229.49,440.75 229.58,441.48 229.68,442.08 229.77,441.38 229.86,443.44 229.95,444.03 230.04,444.64 230.13,445.97 230.22,445.03 230.32,445.91 230.41,447.73 230.5,448 230.56,449.49 230.62,449.72 230.68,449.74 230.74,450.96 230.8,451.96 230.86,451.49 230.91,452.58 230.97,453.16 231.03,453.62 231.09,454.97 231.15,455.1 231.21,455.93 231.27,456.46 231.33,458.12 231.39,457.62 231.45,459.59 231.51,459.35 231.57,459.76 231.63,462.07 231.69,461.5 231.74,463.48 231.8,464.06 231.86,464.8 231.92,464.15 231.98,465.41 232.04,465.47 232.1,466.9 232.18,466.97 232.26,466.12 232.35,465.03 232.43,464.01 232.51,463.11 232.59,463.28 232.68,461.96 232.76,461.53 232.84,459.96 232.92,459.4 233.01,458.4 233.09,458.88 233.17,457.9 233.25,456.46 233.34,457.07 233.42,455.28 233.5,455 233.68,454.14 233.86,452.98 234.03,452.49 234.21,452.81 234.39,451.2 234.57,450.2 234.74,450.08 234.92,449.07 235.1,448.7 235.15,450.13 235.2,449.42 235.26,451.69 235.31,450.74 235.36,452.95 235.41,453.26 235.47,453.14 235.52,454.33 235.57,454.69 235.62,455.35 235.67,455.96 235.73,456.96 235.78,458.8 235.83,459.52 235.88,460.1 235.93,459.31 235.99,460.37 236.04,462.17 236.09,461.37 236.14,463.28 236.2,463.21 236.25,465.15 236.3,465 236.33,464.84 236.37,466.97 236.4,466.84 236.44,467.19 236.47,467.65 236.51,469.85 236.54,470.01 236.57,470.1 236.61,471.26 236.64,472.83 236.68,472.29 236.71,473.63 236.75,473.56 236.78,474.34 236.81,476.12 236.85,476.72 236.88,476.5 236.92,477 236.95,477.72 236.99,479.37 237.02,479.87 237.05,480.18 237.09,480.77 237.12,482.21 237.16,483.09 237.19,483.98 237.23,484.28 237.26,484.3 237.29,484.77 237.33,486.68 237.36,486.8 237.4,488.07 237.43,487.58 237.47,489.65 237.5,489.8 237.54,488.79 237.59,489 237.63,488.33 237.67,486.95 237.71,485.38 237.76,486.29 237.8,484.8 237.84,484.8 237.89,483 237.93,482.15 237.97,482.6 238.01,481.06 238.06,479.98 238.1,479.65 238.14,479.34 238.19,477.57 238.23,477.79 238.27,476.95 238.31,476.37 238.36,474.95 238.4,475.31 238.44,474.78 238.49,474.16 238.53,472.47 238.57,472.47 238.61,471.16 238.66,471.12 238.7,469.17 238.74,469.92 238.79,469.36 238.83,467.82 238.87,467.15 238.91,466.47 238.96,465.78 239,465 239.05,463.43 239.11,464.42 239.16,462.38 239.22,461.59 239.27,460.74 239.32,460.3 239.38,460.61 239.43,458.49 239.49,457.9 239.54,458.27 239.6,456.66 239.65,455.63 239.7,455.97 239.76,455.22 239.81,454.42 239.87,454.03 239.92,452.24 239.98,452.92 240.03,451.93 240.08,450.01 240.14,449.45 240.19,449.41 240.25,448.71 240.3,448 240.43,446.86 240.57,445.83 240.7,445.6 240.83,444.37 240.97,444.44 241.1,444.18 241.23,442.15 241.37,442.18 241.5,441.3 241.92,441.08 242.34,439.38 242.76,439.91 243.18,439.45 243.6,438 244.27,437.57 244.93,437.39 245.6,437.3 245.82,438.59 246.04,438.7 246.27,439.15 246.49,440.81 246.71,441.19 246.93,441.08 247.16,441.58 247.38,442.43 247.6,443.4 247.87,442.6 248.14,442.91 248.41,441.91 248.68,441.42 248.95,440.57 249.22,439.95 249.49,437.84 249.76,437.99 250.03,438.1 250.3,436.6 251.12,437.38 251.95,436.15 252.78,436.46 253.6,436.6 254.28,437.19 254.95,437.06 255.62,437.71 256.3,438 256.98,436.72 257.65,436.88 258.32,436.51 259,436 259.67,434.67 260.33,434.42 261,434.6 261.15,436.16 261.3,436.52 261.45,437.52 261.6,437.68 261.75,438.71 261.9,439.56 262.05,440.27 262.2,439.45 262.35,441.25 262.5,441.29 262.65,442.74 262.8,442.73 262.95,443.92 263.1,445.32 263.25,445.48 263.4,445.53 263.55,446.73 263.7,447.4 264.12,446.6 264.54,446.85 264.96,444.98 265.38,444.33 265.8,444 265.88,444.97 265.96,444.72 266.04,446.27 266.12,447.62 266.2,447.52 266.28,447.78 266.36,448.84 266.44,449.66 266.52,449.67 266.6,450.32 266.68,451.04 266.76,452.03 266.84,452.93 266.92,453.42 267,454.04 267.08,454.46 267.16,455.98 267.24,457.21 267.32,457.5 267.4,458.13 267.48,458.97 267.56,458.86 267.64,460.48 267.72,460.73 267.8,461.5 267.81,460.89 267.82,460.3 267.83,459.34 267.84,458.35 267.85,457.53 267.86,456.79 267.87,456.61 267.88,455.68 267.89,455.34 267.9,453.61 267.91,453.52 267.92,453.73 267.93,451.91 267.94,451.78 267.95,450.96 267.96,449.89 267.97,450.45 267.98,448.51 267.99,448.66 268,446.86 268.01,445.99 268.02,446.74 268.03,445.26 268.04,443.88 268.05,443.76 268.06,443.16 268.07,442.99 268.08,441.16 268.09,440.66 268.1,441.28 268.11,440.19 268.12,438.43 268.13,438.06 268.14,437.39 268.15,437.27 268.15,436.46 268.16,436.18 268.17,435.42 268.18,434.18 268.19,433.87 268.2,433.18 268.21,432.51 268.22,431.29 268.23,431.15 268.24,430.31 268.25,429.98 268.26,427.86 268.27,428.5 268.28,426.24 268.29,426.91 268.3,425.88 268.31,425.02 268.32,425.16 268.33,423.75 268.34,422.77 268.35,422.73 268.36,422.19 268.37,421.01 268.38,419.9 268.39,419.33 268.4,418.64 268.41,418.41 268.42,416.94 268.43,416.41 268.44,416.01 268.45,415 268.46,414.19 268.47,414.32 268.48,413.73 268.49,412.4 268.5,411.7 268.79,412.27 269.07,412.47 269.36,413.36 269.64,413.75 269.93,415.19 270.21,415.88 270.5,416.4 271.05,415.21 271.6,416.26 272.15,414.73 272.7,415.22 273.25,414.76 273.8,413.7 274.48,414.88 275.17,413.87 275.85,414.62 276.53,415.84 277.22,414.57 277.9,415.8 278.9,414.99 279.9,415.8 280.4,416.59 280.9,417.15 281.4,418.58 281.9,418.5 282.6,418.64 283.3,417.8 283.52,418.65 283.73,420.26 283.95,420.18 284.17,420.96 284.38,422.05 284.6,422.5 284.8,423.04 285,423.72 285.2,424.89 285.4,425.19 285.6,427.01 285.8,427.26 286,427.73 286.2,427.7 286.4,428.93 286.6,429.9 286.98,428.98 287.36,428.53 287.74,427.81 288.12,427.62 288.5,426.2 289,426.5 289.5,425.11 290,424.49 290.5,424.29 291,424.43 291.5,423 291.89,423.31 292.27,424.23 292.66,425.33 293.05,424.76 293.44,425.61 293.83,427.39 294.21,427.7 294.6,427.7 295.12,428.24 295.63,428.03 296.15,429.96 296.67,430.11 297.18,430.86 297.7,430.8 298.22,431.17 298.73,430.47 299.25,429.11 299.77,428.11 300.28,427.84 300.8,427.7 301.3,427.2 301.8,426.68 302.3,425.59 302.8,425.06 303.3,425.35 303.8,424.6 304.47,425.01 305.14,424.79 305.81,426.17 306.49,425.76 307.16,424.92 307.83,425.81 308.5,426.2 308.93,427.37 309.36,427.17 309.79,428.51 310.21,427.94 310.64,429.13 311.07,430.76 311.5,430.8 312.27,431.33 313.05,431.85 313.83,431.38 314.6,432.3 314.88,433 315.16,433.8 315.45,433.98 315.73,435.36 316.01,435.86 316.29,437.39 316.57,437.33 316.85,437.74 317.14,437.92 317.42,438.68 317.7,440 318.14,439.81 318.59,437.98 319.03,437.31 319.47,436.78 319.91,436.75 320.36,436.64 320.8,435.4 321.57,435.85 322.33,436.45 323.1,435.36 323.87,435.52 324.63,437.14 325.4,436.9 326.06,436.14 326.71,436.4 327.37,435.31 328.03,434.53 328.69,434.27 329.34,433.52 330,433.8 330.77,434.79 331.53,434.48 332.3,434.33 333.07,434.78 333.83,434.93 334.6,435.4 335.12,434.08 335.63,435.07 336.15,434 336.67,434.16 337.18,432.71 337.7,432.3 338.48,432.14 339.25,431.1 340.02,430.35 340.8,430.8 341.05,430.81 341.3,429.91 341.55,428.17 341.8,428.45 342.05,427.54 342.3,426.2 342.49,426.61 342.68,427.91 342.86,429.32 343.05,429.24 343.24,430.82 343.43,430.31 343.61,431.34 343.8,432.3 344.32,432.18 344.83,430.77 345.35,430.41 345.87,430.91 346.38,429.69 346.9,429.2 347.24,430.42 347.59,430.12 347.93,430.68 348.28,431.7 348.62,432.08 348.97,434.18 349.31,433.65 349.66,434.82 350,435.4 350.5,434.19 351,434.43 351.5,433.64 352,433.16 352.5,432.03 353,432.3 353.28,432.31 353.56,434.26 353.83,434.1 354.11,434.6 354.39,435.19 354.67,436.04 354.94,436.65 355.22,436.97 355.5,438.5" fill="none" stroke="#2b2b2b" stroke-width="1.9" stroke-linejoin="round" stroke-linecap="round" />
<polyline points="355.5,438.5 356.24,438.8 356.98,438.21 357.72,437.88 358.46,438.87 359.2,438.5 359.97,438.02 360.73,438.59 361.5,439.85 362.27,438.83 363.03,439.65 363.8,440 364.58,440.51 365.37,440.35 366.15,439.09 366.93,439.34 367.72,439.9 368.5,439.4 369,439.78 369.5,441.43 370,440.67 370.5,442.61 371,442.41 371.5,443 372.02,443.04 372.53,443.98 373.05,443.94 373.57,445.5 374.08,445.24 374.6,446.2 375.38,447.29 376.15,447.11 376.93,447.09 377.7,447.7 377.82,447.95 377.93,449.31 378.05,449.31 378.16,451.2 378.28,450.56 378.39,451.97 378.51,452.73 378.62,452.95 378.74,454.56 378.85,454.57 378.97,455.77 379.08,456.31 379.2,456.9 379.38,455.88 379.56,455.35 379.73,454.12 379.91,453.61 380.09,454.14 380.27,452.51 380.44,452.45 380.62,450.77 380.8,450.8 381.02,451.61 381.24,451.95 381.45,452.9 381.67,453.23 381.89,453.52 382.11,454.66 382.33,455.21 382.55,455.73 382.76,457.49 382.98,457.41 383.2,458.5 383.36,459.09 383.52,460.76 383.69,461.28 383.85,462.24 384.01,462.96 384.18,462.41 384.34,463.44 384.5,464.6 384.66,463.05 384.83,463.52 384.99,462.79 385.15,461.53 385.32,460.94 385.48,460.69 385.65,460.06 385.81,458.55 385.97,458.92 386.14,457.33 386.3,456.9 386.74,456.51 387.18,455.09 387.62,454.35 388.06,455.16 388.5,453.8 389.25,453.97 390,453.68 390.75,452.22 391.5,451.97 392.25,451.94 393,452.3 393.77,451.83 394.55,452.1 395.32,452.31 396.1,451.77 396.88,452.33 397.65,453 398.43,452.25 399.2,452.9 399.97,453.66 400.73,453.33 401.5,453.74 402.27,453.06 403.03,453.53 403.8,453.8 404.47,454.4 405.13,454.06 405.8,453.7 406.47,455.47 407.13,455.63 407.8,455.4 407.81,454.31 407.82,453.17 407.84,453.92 407.85,452.77 407.86,451.06 407.87,450.71 407.88,449.76 407.89,450.28 407.91,448.53 407.92,449.1 407.93,448.09 407.94,446.19 407.95,446.58 407.97,445.34 407.98,445.27 407.99,444.71 408,443.02 408.01,441.97 408.03,442.81 408.04,441.16 408.05,441.37 408.06,440.23 408.07,439.61 408.08,439.07 408.1,438 408.11,436.98 408.12,435.56 408.13,436.01 408.14,434.82 408.16,434.27 408.17,434.31 408.18,432.17 408.19,432.6 408.2,430.61 408.22,431.09 408.23,430.57 408.24,428.88 408.25,428.69 408.26,428.75 408.27,427.44 408.29,426.57 408.3,425.34 408.31,424.29 408.32,424.12 408.33,423.51 408.35,422.43 408.36,421.92 408.37,420.9 408.38,421.22 408.39,420.45 408.41,418.97 408.42,418.27 408.43,418.06 408.44,417.23 408.45,417.4 408.46,415.65 408.48,414.85 408.49,415.2 408.5,413.8 408.71,413.83 408.93,415.26 409.14,415.51 409.36,417.05 409.57,417.24 409.79,418.3 410,418.5 410.43,418.55 410.86,420.09 411.29,420.61 411.71,421 412.14,422.19 412.57,422.95 413,423 413.53,422.84 414.07,423.69 414.6,424.35 415.13,424.6 415.67,424.88 416.2,426.2 416.7,426.31 417.2,426.65 417.7,428.06 418.2,428.11 418.7,428 419.2,429.2 419.72,429.4 420.23,430.18 420.75,430.5 421.27,430.67 421.78,431.01 422.3,432.3 422.92,431.86 423.54,434.07 424.16,434.07 424.78,433.31 425.4,434.5 426.02,435.37 426.64,436.32 427.26,436.05 427.88,435.72 428.5,436.9 428.93,437.54 429.36,438.1 429.79,438.31 430.21,439.61 430.64,439.3 431.07,441.6 431.5,441.5 431.89,442.35 432.27,442.9 432.66,444.05 433.05,444.12 433.44,443.99 433.83,444.57 434.21,444.96 434.6,446.2 435.12,445.85 435.63,447.69 436.15,448.31 436.67,447.83 437.18,448.13 437.7,449.2 438.22,449.97 438.73,450.86 439.25,451.52 439.77,450.67 440.28,452.3 440.8,452.3 441.01,453.57 441.23,454.08 441.44,454 441.66,454.42 441.87,456.24 442.09,456 442.3,457 442.68,457.43 443.07,458.43 443.45,458.76 443.83,460.26 444.22,459.86 444.6,461 445.28,460.51 445.96,461.8 446.64,462.25 447.32,462.94 448,462.7 448.11,463.81 448.22,464.9 448.33,465.71 448.44,465.64 448.55,466.38 448.65,466.5 448.76,467.49 448.87,468.74 448.98,468.57 449.09,470.4 449.2,470.8 449.52,469.55 449.84,469.41 450.17,469.71 450.49,467.48 450.81,466.75 451.13,466.82 451.46,465.73 451.78,466.05 452.1,465 452.25,464.83 452.41,467.07 452.56,467.82 452.72,468.43 452.87,468.5 453.03,468.97 453.18,470.38 453.34,470.84 453.49,471.4 453.65,471.98 453.8,473 453.85,473.64 453.91,474.79 453.96,475.82 454.02,476.71 454.07,476.12 454.13,477.11 454.18,478.12 454.24,479.08 454.29,479.44 454.35,479.91 454.4,481.2 454.76,481.13 455.12,482.24 455.48,483.17 455.84,484.77 456.2,484.6 456.62,485.94 457.05,486.46 457.47,487.25 457.9,487 458.11,488.54 458.32,488.64 458.54,489.7 458.75,489.06 458.96,490.88 459.18,491.47 459.39,491.62 459.6,492.7 459.75,492.09 459.91,492.04 460.06,490.46 460.22,490.02 460.37,488.66 460.53,488 460.68,488.24 460.84,485.96 460.99,485.51 461.15,485.66 461.3,484.6 461.42,483.82 461.54,482.47 461.66,482.82 461.78,481.61 461.9,481.3 462.02,480.31 462.14,479.82 462.26,479.2 462.38,478.2 462.5,477.01 462.62,476.43 462.74,477.02 462.86,475.72 462.98,474.24 463.1,474.9 463.22,473.12 463.34,472.14 463.46,472.24 463.58,471.04 463.7,470.8 463.91,471.49 464.12,472.32 464.34,472.45 464.55,473.78 464.76,473.67 464.97,475.1 465.19,475.95 465.4,476.5 465.57,476.44 465.74,477.73 465.91,477.83 466.08,479.19 466.25,480.65 466.42,480.79 466.59,481.79 466.76,482.56 466.93,482.11 467.1,483.5 467.51,483.71 467.93,482.56 468.34,480.77 468.76,481.41 469.17,479.95 469.59,478.88 470,478.8 470.25,478.97 470.5,477.6 470.75,477.32 471,475.52 471.25,476.01 471.5,474.06 471.75,473.73 472,473.31 472.25,472.01 472.5,472.4 472.75,471.06 473,470.55 473.25,470.63 473.5,469.6 473.96,470.15 474.42,471.66 474.88,471.86 475.34,472.99 475.8,473 476.38,472.69 476.95,472.9 477.53,472.39 478.1,471.3 478.83,471.13 479.55,472.59 480.27,472.29 481,473 481.7,473.05 482.4,472.47 483.1,472.31 483.8,471.3 484.25,471.35 484.7,472.52 485.15,473.9 485.6,474.2 485.69,475.71 485.78,476 485.87,475.48 485.96,477.19 486.05,476.98 486.14,478.49 486.23,479.65 486.32,479.1 486.41,481.27 486.49,481.52 486.58,481.46 486.67,482.05 486.76,483.2 486.85,484.61 486.94,484.85 487.03,484.7 487.12,485.24 487.21,486.1 487.3,487.5 487.54,487.3 487.79,485.45 488.03,485.37 488.27,484.15 488.51,484.12 488.76,482.83 489,482.3 489.38,480.99 489.77,481.64 490.15,480.37 490.53,479.97 490.92,479.52 491.3,478.3" fill="none" stroke="#2b2b2b" stroke-width="1.9" stroke-linejoin="round" stroke-linecap="round" />
<polyline points="355.5,438.5 356.24,439.31 356.98,437.62 357.72,438.22 358.46,437.87 359.2,438.5 359.97,438.75 360.73,439.67 361.5,439.79 362.27,438.66 363.03,439.18 363.8,440 364.58,440.47 365.37,440.12 366.15,439.51 366.93,439.56 367.72,438.88 368.5,439.4 369,440.62 369.5,440.41 370,441.87 370.5,442 371,441.64 371.5,443 372.02,443.23 372.53,443.56 373.05,445.31 373.57,445.29 374.08,444.85 374.6,446.2 375.38,445.98 376.15,446.7 376.93,447.27 377.7,447.7 377.82,448.55 377.93,448.91 378.05,449.56 378.16,449.64 378.28,451.38 378.39,451.65 378.51,451.79 378.62,453.29 378.74,454.94 378.85,453.96 378.97,454.85 379.08,456.5 379.2,456.9 379.38,455.81 379.56,455.14 379.73,454.87 379.91,453.76 380.09,453.64 380.27,452.88 380.44,452.98 380.62,452.36 380.8,450.8 381.02,450.66 381.24,452.31 381.45,453.39 381.67,454.27 381.89,454.79 382.11,455.24 382.33,455.94 382.55,456.15 382.76,456.71 382.98,458.33 383.2,458.5 383.36,459.93 383.52,460.81 383.69,461.11 383.85,461.2 384.01,462.79 384.18,463.51 384.34,463.85 384.5,464.6 384.66,464.14 384.83,462.93 384.99,462.59 385.15,461.63 385.32,460.31 385.48,460.11 385.65,459.38 385.81,459.88 385.97,458.27 386.14,457.36 386.3,456.9 386.74,455.82 387.18,455.18 387.62,454.77 388.06,453.76 388.5,453.8 389.25,452.66 390,453.97 390.75,452.97 391.5,452.7 392.25,452.67 393,452.3 393.77,452.02 394.55,451.85 395.32,451.74 396.1,452.24 396.88,452.33 397.65,453.16 398.43,452.92 399.2,452.9 399.97,453.84 400.73,452.91 401.5,454.11 402.27,453.65 403.03,452.89 403.8,453.8 404.47,453.49 405.13,454.48 405.8,455.48 406.47,454.61 407.13,455.63 407.8,455.4 407.81,454.57 407.82,454.65 407.84,452.51 407.85,452.55 407.86,452.59 407.87,450.77 407.88,450.03 407.89,448.9 407.91,448.45 407.92,447.93 407.93,448.01 407.94,446.43 407.95,446.05 407.97,444.99 407.98,445.01 407.99,444.77 408,443.68 408.01,442.16 408.03,442.42 408.04,442.13 408.05,440.78 408.06,439.13 408.07,439.74 408.08,439.15 408.1,437.49 408.11,436.41 408.12,435.8 408.13,435.72 408.14,435.63 408.16,434.5 408.17,434.3 408.18,432.32 408.19,431.82 408.2,431.88 408.22,430.99 408.23,429.85 408.24,429.63 408.25,428.31 408.26,427.11 408.27,427.04 408.29,425.67 408.3,426.01 408.31,424.78 408.32,424.37 408.33,423.85 408.35,422.53 408.36,422.2 408.37,420.68 408.38,421.62 408.39,420.26 408.41,420.32 408.42,417.94 408.43,418.24 408.44,417.73 408.45,416.31 408.46,415.18 408.48,414.59 408.49,413.86 408.5,413.8 408.71,414.95 408.93,414.4 409.14,416.38 409.36,416.35 409.57,417.23 409.79,417.99 410,418.5 410.43,419.24 410.86,420.07 411.29,420.61 411.71,420.77 412.14,422.15 412.57,421.92 413,423 413.53,423.91 414.07,424.54 414.6,425.1 415.13,424.79 415.67,426.16 416.2,426.2 416.7,427.56 417.2,427.12 417.7,427.3 418.2,428.24 418.7,429.49 419.2,429.2 419.72,429.05 420.23,429.35 420.75,430.71 421.27,431.55 421.78,432.28 422.3,432.3 422.92,432.49 423.54,434.06 424.16,433.13 424.78,434.52 425.4,434.5 426.02,434.24 426.64,434.61 427.26,435.28 427.88,435.63 428.5,436.9 428.93,437.56 429.36,438.31 429.79,438.3 430.21,440.32 430.64,439.94 431.07,440.21 431.5,441.5 431.89,441.51 432.27,443.1 432.66,444.02 433.05,443.24 433.44,443.59 433.83,445.53 434.21,445.15 434.6,446.2 435.12,447.57 435.63,447.2 436.15,447.95 436.67,447.92 437.18,449.24 437.7,449.2 438.22,449.64 438.73,449.92 439.25,451.48 439.77,450.56 440.28,452.2 440.8,452.3 441.01,452.19 441.23,453.9 441.44,454.14 441.66,455.64 441.87,454.87 442.09,456.44 442.3,457 442.68,457.5 443.07,459.09 443.45,459.8 443.83,459.9 444.22,459.84 444.6,461 445.28,460.89 445.96,461.25 446.64,461.9 447.32,461.88 448,462.7 448.11,462.9 448.22,464.64 448.33,465.17 448.44,465.28 448.55,467.27 448.65,466.61 448.76,467.98 448.87,467.97 448.98,469.98 449.09,470.73 449.2,470.8 449.52,469.74 449.84,469.96 450.17,469.45 450.49,467.83 450.81,467.27 451.13,466.91 451.46,466.99 451.78,465.04 452.1,465 452.25,466.06 452.41,466.63 452.56,467.1 452.72,468.05 452.87,469.33 453.03,468.84 453.18,470.78 453.34,470.57 453.49,472.05 453.65,472.93 453.8,473 453.85,473.17 453.91,475.15 453.96,476.13 454.02,475.62 454.07,475.87 454.13,476.77 454.18,479.07 454.24,478.08 454.29,480.45 454.35,479.83 454.4,481.2 454.76,482.3 455.12,481.84 455.48,482.64 455.84,484.25 456.2,484.6 456.62,484.46 457.05,485.51 457.47,487.15 457.9,487 458.11,488.1 458.32,489.11 458.54,490 458.75,489.01 458.96,490.08 459.18,491.8 459.39,492.33 459.6,492.7 459.75,491.13 459.91,491.24 460.06,490.01 460.22,489.63 460.37,488.31 460.53,487.42 460.68,488.43 460.84,486.48 460.99,486.75 461.15,484.65 461.3,484.6 461.42,483.89 461.54,482.56 461.66,482.4 461.78,481.26 461.9,481.48 462.02,479.83 462.14,480.2 462.26,479.08 462.38,477.69 462.5,477.44 462.62,477 462.74,477.07 462.86,475.36 462.98,474.43 463.1,475.09 463.22,474.25 463.34,473.29 463.46,471.77 463.58,470.91 463.7,470.8 463.91,471.09 464.12,471.45 464.34,472.12 464.55,473.67 464.76,474.2 464.97,475.18 465.19,475.54 465.4,476.5 465.57,476.32 465.74,478.24 465.91,478.88 466.08,479.38 466.25,480.09 466.42,481.04 466.59,482.27 466.76,482.77 466.93,483.19 467.1,483.5 467.51,482.65 467.93,481.83 468.34,481.34 468.76,481.67 469.17,479.94 469.59,479.27 470,478.8 470.25,477.98 470.5,476.84 470.75,477.73 471,475.28 471.25,475.71 471.5,475.62 471.75,473.76 472,473.74 472.25,472.66 472.5,471.76 472.75,471.03 473,470.22 473.25,470.87 473.5,469.6 473.96,470.79 474.42,471.7 474.88,470.83 475.34,472.67 475.8,473 476.38,472.26 476.95,472.41 477.53,471.81 478.1,471.3 478.83,471.39 479.55,473 480.27,471.68 481,473 481.7,473.02 482.4,472.79 483.1,471.74 483.8,471.3 484.25,472.19 484.7,473.64 485.15,473 485.6,474.2 485.69,475.13 485.78,476.04 485.87,476.08 485.96,477.38 486.05,477.51 486.14,478.45 486.23,479.3 486.32,480.12 486.41,480.18 486.49,481.43 486.58,481.98 486.67,482.1 486.76,483.5 486.85,483.58 486.94,485.44 487.03,485.35 487.12,486.5 487.21,486.84 487.3,487.5 487.54,486.72 487.79,485.51 488.03,484.63 488.27,485.3 488.51,483.84 488.76,483.09 489,482.3 489.38,481.68 489.77,481.53 490.15,479.83 490.53,479.04 490.92,479.55 491.3,478.3" fill="none" stroke="#dc3a3f" stroke-width="1.7" stroke-linejoin="round" stroke-linecap="round" />
<rect x="457.7" y="460" width="34.7" height="37.6" fill="none" stroke="#333" stroke-width="1.0"/>
<line x1="465.4" y1="458.6" x2="316" y2="377.6" stroke="#333" stroke-width="0.75" />
<polygon points="313.8,376.4 321.79,378.46 319.88,381.97" fill="#111"/>
<rect x="158.5" y="301.4" width="155.1" height="93.5" fill="#fff" stroke="#555" stroke-width="0.8"/>
<line x1="168.6" y1="394.9" x2="168.6" y2="396.6" stroke="#555" stroke-width="0.6" />
<text transform="translate(168.6,402.3) scale(1,1.0)" font-size="4.8" text-anchor="middle" fill="#333" stroke="#333" stroke-width="0.08" >950</text>
<line x1="188.1" y1="394.9" x2="188.1" y2="396.6" stroke="#555" stroke-width="0.6" />
<text transform="translate(188.1,402.3) scale(1,1.0)" font-size="4.8" text-anchor="middle" fill="#333" stroke="#333" stroke-width="0.08" >960</text>
<line x1="207.6" y1="394.9" x2="207.6" y2="396.6" stroke="#555" stroke-width="0.6" />
<text transform="translate(207.6,402.3) scale(1,1.0)" font-size="4.8" text-anchor="middle" fill="#333" stroke="#333" stroke-width="0.08" >970</text>
<line x1="227.1" y1="394.9" x2="227.1" y2="396.6" stroke="#555" stroke-width="0.6" />
<text transform="translate(227.1,402.3) scale(1,1.0)" font-size="4.8" text-anchor="middle" fill="#333" stroke="#333" stroke-width="0.08" >980</text>
<line x1="246.6" y1="394.9" x2="246.6" y2="396.6" stroke="#555" stroke-width="0.6" />
<text transform="translate(246.6,402.3) scale(1,1.0)" font-size="4.8" text-anchor="middle" fill="#333" stroke="#333" stroke-width="0.08" >990</text>
<line x1="266.1" y1="394.9" x2="266.1" y2="396.6" stroke="#555" stroke-width="0.6" />
<text transform="translate(266.1,402.3) scale(1,1.0)" font-size="4.8" text-anchor="middle" fill="#333" stroke="#333" stroke-width="0.08" >1000</text>
<line x1="285.6" y1="394.9" x2="285.6" y2="396.6" stroke="#555" stroke-width="0.6" />
<text transform="translate(285.6,402.3) scale(1,1.0)" font-size="4.8" text-anchor="middle" fill="#333" stroke="#333" stroke-width="0.08" >1010</text>
<line x1="305.1" y1="394.9" x2="305.1" y2="396.6" stroke="#555" stroke-width="0.6" />
<text transform="translate(305.1,402.3) scale(1,1.0)" font-size="4.8" text-anchor="middle" fill="#333" stroke="#333" stroke-width="0.08" >1020</text>
<line x1="158.85" y1="394.9" x2="158.85" y2="396" stroke="#555" stroke-width="0.5" />
<line x1="178.35" y1="394.9" x2="178.35" y2="396" stroke="#555" stroke-width="0.5" />
<line x1="197.85" y1="394.9" x2="197.85" y2="396" stroke="#555" stroke-width="0.5" />
<line x1="217.35" y1="394.9" x2="217.35" y2="396" stroke="#555" stroke-width="0.5" />
<line x1="236.85" y1="394.9" x2="236.85" y2="396" stroke="#555" stroke-width="0.5" />
<line x1="256.35" y1="394.9" x2="256.35" y2="396" stroke="#555" stroke-width="0.5" />
<line x1="275.85" y1="394.9" x2="275.85" y2="396" stroke="#555" stroke-width="0.5" />
<line x1="295.35" y1="394.9" x2="295.35" y2="396" stroke="#555" stroke-width="0.5" />
<line x1="156.8" y1="340.9" x2="158.5" y2="340.9" stroke="#555" stroke-width="0.6" />
<line x1="157.3" y1="385" x2="158.5" y2="385" stroke="#555" stroke-width="0.6" />
<text transform="translate(155.5,342.6) scale(1,1.0)" font-size="4.8" text-anchor="end" fill="#333" stroke="#333" stroke-width="0.08" >3.15</text>
<polyline points="158.7,364.5 158.81,364.88 158.91,365.57 159.02,366.27 159.12,366.8 159.23,367.2 159.34,366.49 159.44,367.4 159.55,368.46 159.66,368.88 159.76,368.35 159.87,368.83 159.97,369.4 160.08,369.63 160.19,370.42 160.29,371.49 160.4,371.5 160.58,371.95 160.75,372.28 160.93,372.2 161.1,373.05 161.28,374.32 161.45,374.32 161.62,374.4 161.8,374.87 161.97,375.74 162.15,376.11 162.32,375.68 162.5,376.6 162.79,377.24 163.08,377.19 163.37,377.8 163.66,377.79 163.94,378.36 164.23,378.71 164.52,379.16 164.81,379.04 165.1,380.1 165.38,380.11 165.67,381.07 165.95,380.78 166.23,381.38 166.52,382.57 166.8,382.7 166.98,381.95 167.16,381.59 167.34,381.05 167.52,381.45 167.7,379.98 167.88,380.31 168.06,380.19 168.24,378.84 168.42,378.72 168.6,378.4 168.78,378.38 168.97,377.7 169.15,376.92 169.33,376.03 169.52,376.15 169.7,375.61 169.88,375.66 170.07,374.65 170.25,374.37 170.43,374.27 170.62,374.07 170.8,373.2 170.91,372.54 171.02,372.12 171.13,371.94 171.24,371.96 171.35,370.48 171.46,371.11 171.57,370.29 171.68,369.36 171.79,369.31 171.91,368.38 172.02,367.56 172.13,368.06 172.24,367.08 172.35,366.83 172.46,366.33 172.57,366.44 172.68,365.78 172.79,364.29 172.9,364.5 173,364.18 173.09,363.55 173.19,363.1 173.29,363.18 173.38,362.14 173.48,361.77 173.57,361.91 173.67,360.83 173.77,360.45 173.86,360.04 173.96,360.02 174.06,359.36 174.15,359.01 174.25,358.09 174.34,357.13 174.44,357.58 174.54,356.96 174.63,356.81 174.73,356.36 174.83,355 174.92,354.7 175.02,354.05 175.11,354.64 175.21,353.19 175.31,352.72 175.4,353.2 175.5,352.4 175.61,352.04 175.73,350.87 175.84,351.3 175.95,350.89 176.07,350.12 176.18,349.06 176.29,349.5 176.4,348.67 176.52,348.45 176.63,348.58 176.74,347.87 176.86,347.49 176.97,346.03 177.08,345.84 177.2,345.64 177.31,344.47 177.42,345.4 177.53,343.95 177.65,343.48 177.76,343.09 177.87,342.56 177.99,342.95 178.1,342 178.24,341.64 178.39,341.15 178.53,340.59 178.68,339.64 178.82,339.56 178.97,339.91 179.11,339.39 179.26,339.03 179.4,337.76 179.54,337.25 179.69,336.61 179.83,336.85 179.98,336.19 180.12,335.88 180.27,335.48 180.41,335.18 180.56,334.45 180.7,334.2 181.01,334.25 181.33,333.04 181.64,333.67 181.96,332.79 182.27,331.71 182.59,331.71 182.9,331.6 183.35,331.45 183.8,331.07 184.25,331.09 184.7,330.8 185.12,330.75 185.55,330.88 185.97,331.81 186.4,331.6 186.58,331.74 186.75,332.76 186.93,333.32 187.1,333.46 187.28,333.7 187.45,334.81 187.62,334.56 187.8,335.6 187.97,334.88 188.15,335.84 188.32,336.56 188.5,336.8 188.64,336.6 188.79,338.17 188.93,337.5 189.08,338.67 189.22,338.52 189.37,339.99 189.51,339.92 189.66,340.69 189.8,340.7 189.94,341.38 190.09,341.81 190.23,341.71 190.38,342.03 190.52,343.34 190.67,342.8 190.81,344.32 190.96,343.76 191.1,344.6 191.24,344.47 191.39,344.9 191.53,346.3 191.68,346.96 191.82,346.65 191.97,347.42 192.11,347.29 192.26,348.63 192.4,348.76 192.54,348.45 192.69,348.75 192.83,350.07 192.98,349.59 193.12,351.14 193.27,350.81 193.41,351.16 193.56,352.08 193.7,352.4 193.88,352.58 194.06,353.36 194.24,353.22 194.41,354.72 194.59,354.33 194.77,355.49 194.95,354.96 195.13,356.3 195.31,356.99 195.49,356.61 195.66,356.54 195.84,357.46 196.02,358.26 196.2,358.5 196.63,358.4 197.07,359.13 197.5,358.78 197.93,359.58 198.37,360.24 198.8,360.2 199.23,359.95 199.67,360.15 200.1,359.21 200.53,360.06 200.97,358.92 201.4,359.3 201.72,359.57 202.05,359.34 202.38,358.94 202.7,358.04 203.03,357.38 203.35,357.14 203.68,357.38 204,356.7 204.32,356.37 204.65,356.65 204.97,355.16 205.3,355.38 205.62,355.58 205.95,354.89 206.28,354.48 206.6,354.1 207.03,353.24 207.47,353.03 207.9,352.93 208.33,353.52 208.77,353.17 209.2,352.4 209.63,351.73 210.07,352.43 210.5,350.9 210.93,351.4 211.37,351.64 211.8,350.7 212.23,350.2 212.67,350.76 213.1,350.07 213.53,348.94 213.97,349.05 214.4,349 214.59,348.49 214.77,347.77 214.96,348.03 215.14,346.81 215.33,347.22 215.51,346.1 215.7,345.35 215.89,345.6 216.07,344.51 216.26,344.72 216.44,344.61 216.63,343.91 216.81,343.28 217,342.9 217.22,341.81 217.43,342.05 217.65,341.04 217.87,341.37 218.08,340.22 218.3,340.41 218.52,339.66 218.73,339.26 218.95,339.23 219.17,338.1 219.38,337.67 219.6,337.7 219.92,337.94 220.25,336.71 220.57,337.05 220.9,336.72 221.22,335.8 221.55,334.96 221.88,334.51 222.2,334.7 222.44,334.83 222.67,333.36 222.91,333.49 223.15,333.15 223.38,332.16 223.62,332.25 223.85,331.43 224.09,331.55 224.33,331.11 224.56,330.51 224.8,330.3 225.26,329.9 225.72,330.21 226.18,329.94 226.64,329.86 227.1,330.4 227.52,330.26 227.94,331.36 228.36,331.06 228.78,331.83 229.2,331.5 229.6,331.08 230,332.65 230.4,332.27 230.8,332.96 231.2,332.91 231.6,333.34 232,332.96 232.4,333.6 232.8,334.21 233.2,333.64 233.6,334.06 234,333.99 234.4,334.76 234.8,335.2 235.2,335.15 235.6,335.7 236.06,336.05 236.51,334.72 236.97,335.21 237.43,334.53 237.89,334.83 238.34,334.9 238.8,334.3 239.24,334.41 239.69,333.32 240.13,333.39 240.57,333.7 241.01,334.05 241.46,332.54 241.9,333 242.36,332.95 242.81,332.84 243.27,332.8 243.73,331.92 244.19,332.36 244.64,331.66 245.1,331.5 245.56,331.87 246.01,330.39 246.47,331.47 246.93,330.52 247.39,330.3 247.84,329.64 248.3,330 248.82,329.71 249.33,330.46 249.85,330.45 250.37,329.78 250.88,330.12 251.4,330.4 251.8,330.11 252.2,330.4 252.6,330.65 253,331.01 253.4,332.13 253.8,332.37 254.2,332.3 254.6,332.1 255,332.35 255.4,332.65 255.8,333.32 256.2,333.77 256.6,333.83 257,333.94 257.4,333.6 257.8,334.3 258.26,334.68 258.71,335.18 259.17,335.3 259.63,334.53 260.09,335.6 260.54,335.29 261,335.7 261.52,335.23 262.03,336.35 262.55,335.94 263.07,336.04 263.58,335.19 264.1,335.7 264.56,335.96 265.01,335.91 265.47,335.67 265.93,335.24 266.39,335.17 266.84,334.92 267.3,334.3 267.66,334.12 268.01,333.59 268.37,333.82 268.72,333.45 269.08,333.26 269.43,332.15 269.79,332.77 270.14,331.86 270.5,331.5 270.9,331.86 271.3,330.44 271.7,331.37 272.1,330.85 272.5,329.84 272.9,330.4 273.3,329.29 273.7,329.4 274.12,329.18 274.54,329.74 274.96,329.63 275.38,330.19 275.8,330.4 276.06,331.37 276.32,331.46 276.59,331.89 276.85,331.85 277.11,332.8 277.38,333.21 277.64,333.46 277.9,333.6 278.11,334.62 278.32,334.86 278.54,334.67 278.75,334.62 278.96,335.81 279.18,336.47 279.39,336.18 279.6,336.8 279.73,337.37 279.85,338.15 279.98,338.54 280.1,337.87 280.23,338.99 280.35,338.77 280.48,339.35 280.6,340.77 280.73,340.66 280.85,341.36 280.98,341.6 281.1,342.1 281.22,342.3 281.35,342.57 281.47,343.2 281.59,344.32 281.72,344.44 281.84,344.42 281.96,344.57 282.09,345.26 282.21,346.3 282.34,346.37 282.46,347.11 282.58,347.75 282.71,347.23 282.83,348.45 282.95,347.99 283.08,349.52 283.2,349.5 283.31,349.5 283.42,350.06 283.53,351.47 283.64,351.08 283.75,351.32 283.86,352.7 283.97,352.75 284.08,353.59 284.19,353.33 284.31,353.92 284.42,355 284.53,354.81 284.64,355.93 284.75,355.25 284.86,356.59 284.97,356.1 285.08,357.05 285.19,356.76 285.3,357.9 285.41,357.89 285.52,359.42 285.63,359.18 285.74,360.12 285.85,359.79 285.96,360.38 286.07,360.47 286.18,361.55 286.29,362.43 286.41,362.39 286.52,362.65 286.63,363.87 286.74,364.27 286.85,364.4 286.96,364.02 287.07,365.23 287.18,365.43 287.29,366.59 287.4,366.4 287.66,366.61 287.92,367.43 288.19,367.78 288.45,367.83 288.71,368.43 288.98,369.05 289.24,369.77 289.5,369.6 289.85,369.25 290.2,368.71 290.55,369.22 290.9,367.58 291.25,368.32 291.6,367.5 291.82,367.33 292.04,366.72 292.26,366.14 292.48,366.13 292.7,365.9 292.92,365.24 293.14,364.84 293.36,363.41 293.58,363.39 293.8,363.2 294.08,362.31 294.36,363.07 294.65,362.6 294.93,361.18 295.21,361.41 295.49,361.02 295.77,359.89 296.05,359.99 296.34,360.11 296.62,359.58 296.9,359 297.19,358.31 297.48,358.6 297.77,357.56 298.06,357.53 298.35,356.98 298.65,357.38 298.94,356.54 299.23,356.37 299.52,355.81 299.81,355.01 300.1,354.8 300.46,355.14 300.81,354.47 301.17,354.13 301.52,353.24 301.88,352.77 302.23,353.04 302.59,353.08 302.94,352.72 303.3,352 303.75,351.65 304.2,351.23 304.65,351.62 305.1,352 305.55,350.86 306,351.2" fill="none" stroke="#333" stroke-width="0.8" stroke-linejoin="round" stroke-linecap="round" />
<polyline points="158.7,364.2 158.79,365.02 158.89,364.38 158.98,365.03 159.08,364.95 159.17,365.78 159.27,366.32 159.36,367.76 159.46,368.14 159.55,367.14 159.64,367.75 159.74,369.28 159.83,368.32 159.93,368.93 160.02,369.53 160.12,369.33 160.21,369.99 160.31,370.62 160.4,371.2 160.56,371.39 160.72,372.82 160.88,371.96 161.05,372.24 161.21,373.9 161.37,373.46 161.53,374.55 161.69,374.59 161.85,375.23 162.02,374.79 162.18,374.89 162.34,376.37 162.5,376.3 162.76,376.6 163.02,377.11 163.28,377.66 163.54,378.15 163.8,377.65 164.06,378.15 164.32,379.5 164.58,379.15 164.84,379.07 165.1,379.8 165.34,380.41 165.59,380.11 165.83,381.4 166.07,380.46 166.31,382.25 166.56,382.15 166.8,382.4 166.96,381.75 167.13,382.41 167.29,380.81 167.45,380.37 167.62,379.67 167.78,380.14 167.95,380.12 168.11,379.59 168.27,378.72 168.44,379.04 168.6,378.1 168.76,377.03 168.91,377.01 169.07,377.25 169.23,377.46 169.39,376.48 169.54,376.22 169.7,375.99 169.86,374.94 170.01,375.55 170.17,374.82 170.33,373.73 170.49,373.45 170.64,373.82 170.8,372.9 170.9,372.23 170.99,371.54 171.09,372.38 171.18,371.38 171.28,370.96 171.37,370.83 171.47,370.85 171.56,369.08 171.66,369.05 171.75,368.16 171.85,368.39 171.95,368.16 172.04,368.39 172.14,367.67 172.23,367.11 172.33,366.4 172.42,366.31 172.52,365.37 172.61,366.01 172.71,365.51 172.8,365.2 172.9,364.2 172.99,363.17 173.07,363.7 173.16,363.45 173.25,362.59 173.33,362.9 173.42,362.5 173.51,361.81 173.59,361.55 173.68,360.84 173.77,360.85 173.85,359.1 173.94,359.73 174.03,359.32 174.11,358.76 174.2,357.75 174.29,356.97 174.37,357.53 174.46,357.52 174.55,356.13 174.63,355.62 174.72,355.23 174.81,354.6 174.89,355.24 174.98,355.37 175.07,354.66 175.15,353.46 175.24,353.67 175.33,352.14 175.41,353.11 175.5,352.1 175.6,351.39 175.7,350.41 175.8,351.13 175.9,349.85 176,349.7 176.1,348.91 176.2,349.2 176.3,349 176.4,349.05 176.5,347.27 176.6,348.29 176.7,346.6 176.8,346.4 176.9,346.73 177,345.81 177.1,345.4 177.2,345.42 177.3,344.39 177.4,345.03 177.5,343.58 177.6,344.31 177.7,343.86 177.8,342.97 177.9,341.65 178,342.6 178.1,341.7 178.23,340.46 178.36,340.93 178.49,340.39 178.62,339.35 178.75,339.98 178.88,339.76 179.01,339.12 179.14,338.4 179.27,338.21 179.4,337.96 179.53,336.92 179.66,337.68 179.79,337.52 179.92,336.79 180.05,336.68 180.18,335.15 180.31,335.95 180.44,333.91 180.57,334.25 180.7,333.9 180.97,332.92 181.25,333.17 181.53,333.25 181.8,332.98 182.07,332.19 182.35,331.67 182.62,331.07 182.9,331.3 183.35,330.93 183.8,330.51 184.25,330.15 184.7,330.5 185.12,331.12 185.55,330.93 185.97,330.99 186.4,331.3 186.55,331.13 186.7,332.41 186.85,331.87 187,332.36 187.15,333.27 187.3,333.89 187.45,334.75 187.6,334.72 187.75,335.45 187.9,335.77 188.05,335.79 188.2,336.15 188.35,335.34 188.5,336.5 188.63,336.36 188.76,336.4 188.89,338.32 189.02,338.46 189.15,338.68 189.28,338.41 189.41,338.97 189.54,339.01 189.67,340.25 189.8,341.28 189.93,340.44 190.06,340.36 190.19,340.99 190.32,341.7 190.45,343.07 190.58,343.29 190.71,343.05 190.84,342.8 190.97,343.2 191.1,344.3 191.23,344.07 191.36,345.58 191.49,345.42 191.62,346.74 191.75,346.99 191.88,347.17 192.01,346.99 192.14,348 192.27,347.14 192.4,347.5 192.53,348.7 192.66,348.99 192.79,348.85 192.92,349.31 193.05,349.29 193.18,351.28 193.31,351.31 193.44,352.12 193.57,352.57 193.7,352.1 193.86,352.37 194.01,353.28 194.17,353.04 194.32,354.19 194.48,354.62 194.64,353.73 194.79,353.89 194.95,354.64 195.11,355.68 195.26,355.69 195.42,355.41 195.57,357.27 195.73,357.57 195.89,357.37 196.04,357 196.2,358.2 196.57,359.14 196.94,358.75 197.31,358.16 197.69,358.85 198.06,359.64 198.43,360.35 198.8,359.9 199.23,359.72 199.67,359.85 200.1,358.92 200.53,358.84 200.97,359.88 201.4,359 201.69,358.5 201.98,357.71 202.27,358.3 202.56,357.17 202.84,357.02 203.13,357.19 203.42,357.13 203.71,356.93 204,356.4 204.29,356.48 204.58,355.71 204.87,354.75 205.16,355.65 205.44,354.15 205.73,354.61 206.02,354.2 206.31,354.4 206.6,353.8 206.97,353.94 207.34,352.85 207.71,353.34 208.09,353.17 208.46,352.53 208.83,351.7 209.2,352.1 209.57,352.59 209.94,351.79 210.31,350.58 210.69,350.66 211.06,351.76 211.43,350.15 211.8,350.4 212.17,349.96 212.54,350.43 212.91,350.25 213.29,349.67 213.66,349.62 214.03,348.11 214.4,348.7 214.56,347.59 214.72,348.79 214.89,348.1 215.05,346.34 215.21,345.98 215.38,345.95 215.54,346.81 215.7,345.15 215.86,345.58 216.03,345.66 216.19,344.76 216.35,344.88 216.51,343.32 216.68,342.74 216.84,342.11 217,342.6 217.19,342.69 217.37,341.14 217.56,342.34 217.74,341.49 217.93,340.18 218.11,340.92 218.3,339.39 218.49,339.65 218.67,338.55 218.86,339.4 219.04,339.22 219.23,338.89 219.41,336.88 219.6,337.4 219.82,337.67 220.03,336.78 220.25,336.9 220.47,335.97 220.68,335.82 220.9,335.42 221.12,335.43 221.33,333.77 221.55,333.37 221.77,333.9 221.98,333.08 222.2,333.1 222.42,332.55 222.63,331.48 222.85,332.44 223.07,330.78 223.28,331.86 223.5,331.46 223.72,330.46 223.93,329.49 224.15,330.07 224.37,328.91 224.58,328.94 224.8,328.7 225.26,328.02 225.72,329.6 226.18,328.84 226.64,328.51 227.1,328.8 227.52,328.29 227.94,329.65 228.36,330.09 228.78,330.31 229.2,329.9 229.56,329.42 229.91,330.13 230.27,330.24 230.62,331.31 230.98,330.43 231.33,331.49 231.69,332.39 232.04,332.25 232.4,332 232.76,331.35 233.11,331.7 233.47,332 233.82,333.28 234.18,333.34 234.53,333.44 234.89,333.55 235.24,333.7 235.6,334.1 236,334.12 236.4,334.02 236.8,334.32 237.2,333.82 237.6,333.76 238,333.79 238.4,333.48 238.8,332.7 239.19,332.93 239.58,331.53 239.96,332.54 240.35,332.68 240.74,331.76 241.12,332.41 241.51,330.99 241.9,331.4 242.3,332.01 242.7,330.92 243.1,331.21 243.5,330.2 243.9,330.1 244.3,330 244.7,329.77 245.1,329.9 245.5,328.98 245.9,329.42 246.3,330.2 246.7,329.43 247.1,329.74 247.5,329.25 247.9,329.19 248.3,328.4 248.74,329.35 249.19,328.97 249.63,328.16 250.07,328.18 250.51,328.53 250.96,327.88 251.4,328.8 251.76,328.5 252.11,329.87 252.47,330.12 252.82,329.25 253.18,330.23 253.53,330.43 253.89,330.82 254.24,330.84 254.6,330.5 254.96,330.8 255.31,330.28 255.67,331.82 256.02,331.14 256.38,331.95 256.73,331.73 257.09,332.28 257.44,333.29 257.8,332.7 258.2,332.27 258.6,333.11 259,333.49 259.4,333.47 259.8,334.36 260.2,333.58 260.6,334.67 261,334.1 261.44,334.44 261.89,334.94 262.33,333.36 262.77,333.58 263.21,333.72 263.66,334.83 264.1,334.1 264.5,333.05 264.9,333.32 265.3,333.96 265.7,334.28 266.1,332.64 266.5,332.94 266.9,333.21 267.3,332.7 267.62,332.76 267.94,332.58 268.26,332.32 268.58,331.13 268.9,330.86 269.22,330.17 269.54,331.08 269.86,329.94 270.18,329.75 270.5,329.9 270.86,330.5 271.21,329.69 271.57,329.36 271.92,329.25 272.28,328.91 272.63,328.85 272.99,327.91 273.34,327.25 273.7,327.8 274.12,327.22 274.54,327.33 274.96,328.15 275.38,327.96 275.8,328.8 276.03,328.46 276.27,329.5 276.5,330.71 276.73,330.56 276.97,330.17 277.2,331.42 277.43,330.71 277.67,330.92 277.9,332 278.09,332 278.28,332.55 278.47,333.41 278.66,333.32 278.84,334.19 279.03,333.4 279.22,335.27 279.41,334.56 279.6,335.2 279.72,336.21 279.83,335.17 279.95,337.01 280.06,336.34 280.18,337.88 280.29,338.19 280.41,338.36 280.52,338.06 280.64,337.99 280.75,338.72 280.87,340.41 280.98,339.48 281.1,340.5 281.21,341.18 281.32,341.44 281.43,341.96 281.54,341.48 281.65,341.81 281.76,342.11 281.87,344.1 281.98,343.41 282.09,344.28 282.21,344.52 282.32,344.29 282.43,344.39 282.54,344.69 282.65,346.59 282.76,345.68 282.87,347.57 282.98,346.88 283.09,347.91 283.2,347.9 283.3,347.65 283.4,349.22 283.5,348.65 283.6,349.26 283.7,349.94 283.8,349.6 283.9,350.25 284,351.63 284.1,351.11 284.2,351.69 284.3,352.78 284.4,352.2 284.5,352.55 284.6,352.99 284.7,353.69 284.8,354.06 284.9,354.95 285,355.05 285.1,356.17 285.2,355.09 285.3,356.3 285.4,357 285.5,357.72 285.6,357.04 285.7,357.07 285.8,358.21 285.9,358.04 286,359.06 286.1,359.92 286.2,359.21 286.3,359.66 286.4,360.72 286.5,360.57 286.6,361.08 286.7,361.86 286.8,361.68 286.9,362 287,362.93 287.1,363.53 287.2,364.78 287.3,364.49 287.4,364.8 287.63,364.38 287.87,365.01 288.1,366.31 288.33,366.34 288.57,367.24 288.8,367.77 289.03,367.93 289.27,366.94 289.5,368 289.8,368.5 290.1,367.44 290.4,366.63 290.7,366.21 291,367.16 291.3,365.68 291.6,365.9 291.78,364.79 291.97,364.76 292.15,365.59 292.33,364.4 292.52,364.52 292.7,362.98 292.88,363.31 293.07,362.71 293.25,362.14 293.43,362.61 293.62,361.71 293.8,361.6 294.04,360.59 294.28,361.83 294.52,360.6 294.75,359.73 294.99,359.1 295.23,359.94 295.47,359.36 295.71,358.16 295.95,358.64 296.18,358.8 296.42,358.11 296.66,357.24 296.9,357.4 297.15,357.08 297.39,356.94 297.64,356.7 297.88,355.47 298.13,356.33 298.38,356.26 298.62,355.57 298.87,355.46 299.12,354.25 299.36,354.89 299.61,353.27 299.85,353.03 300.1,353.2 300.42,353.1 300.74,353.36 301.06,351.61 301.38,351.57 301.7,350.96 302.02,351.41 302.34,350.59 302.66,350.4 302.98,351.13 303.3,350.4 303.69,350.44 304.07,350.96 304.46,349.88 304.84,350.27 305.23,348.95 305.61,350.52 306,349.6" fill="none" stroke="#dc3a3f" stroke-width="0.9" stroke-linejoin="round" stroke-linecap="round" opacity="0.9"/>
<line x1="56.2" y1="502.3" x2="219.2" y2="502.3" stroke="#2424d8" stroke-width="1.5" />
<polygon points="50.8,502.3 59.8,499.9 58.45,502.3 59.8,504.7" fill="#2424d8"/>
<polygon points="224.6,502.3 215.6,499.9 216.95,502.3 215.6,504.7" fill="#2424d8"/>
<line x1="231.9" y1="502.3" x2="349.4" y2="502.3" stroke="#2424d8" stroke-width="1.5" />
<polygon points="226.5,502.3 235.5,499.9 234.15,502.3 235.5,504.7" fill="#2424d8"/>
<polygon points="354.8,502.3 345.8,499.9 347.15,502.3 345.8,504.7" fill="#2424d8"/>
<line x1="362.4" y1="502.3" x2="497.1" y2="502.3" stroke="#2424d8" stroke-width="1.5" />
<polygon points="357,502.3 366,499.9 364.65,502.3 366,504.7" fill="#2424d8"/>
<polygon points="502.5,502.3 493.5,499.9 494.85,502.3 493.5,504.7" fill="#2424d8"/>
<line x1="225.6" y1="438.5" x2="225.6" y2="511.5" stroke="#2424d8" stroke-width="1.6" />
<line x1="355.8" y1="430.8" x2="355.8" y2="511.5" stroke="#2424d8" stroke-width="1.6" />
<text transform="translate(57.3,493.8) scale(1,1.0)" font-size="13.6" text-anchor="start" fill="#2e2eb8" stroke="#2e2eb8" stroke-width="0.25" >40% Missing data</text>
<text transform="translate(243.2,494.8) scale(1,1.0)" font-size="13.6" text-anchor="start" fill="#2e2eb8" stroke="#2e2eb8" stroke-width="0.25" >30% Training data</text>
<text transform="translate(360,495.2) scale(1,1.0)" font-size="13.6" text-anchor="start" fill="#2e2eb8" stroke="#2e2eb8" stroke-width="0.25" >30% Testing data</text>
<line x1="50" y1="512.2" x2="50" y2="518" stroke="#000" stroke-width="1.3" />
<text transform="translate(50,531.4) scale(1,1.1)" font-size="11.5" text-anchor="middle" fill="#111" stroke="#111" stroke-width="0.25" >0</text>
<line x1="114.81" y1="512.2" x2="114.81" y2="518" stroke="#000" stroke-width="1.3" />
<text transform="translate(114.81,531.4) scale(1,1.1)" font-size="11.5" text-anchor="middle" fill="#111" stroke="#111" stroke-width="0.25" >150</text>
<line x1="179.63" y1="512.2" x2="179.63" y2="518" stroke="#000" stroke-width="1.3" />
<text transform="translate(179.63,531.4) scale(1,1.1)" font-size="11.5" text-anchor="middle" fill="#111" stroke="#111" stroke-width="0.25" >300</text>
<line x1="244.44" y1="512.2" x2="244.44" y2="518" stroke="#000" stroke-width="1.3" />
<text transform="translate(244.44,531.4) scale(1,1.1)" font-size="11.5" text-anchor="middle" fill="#111" stroke="#111" stroke-width="0.25" >450</text>
<line x1="309.26" y1="512.2" x2="309.26" y2="518" stroke="#000" stroke-width="1.3" />
<text transform="translate(309.26,531.4) scale(1,1.1)" font-size="11.5" text-anchor="middle" fill="#111" stroke="#111" stroke-width="0.25" >600</text>
<line x1="374.07" y1="512.2" x2="374.07" y2="518" stroke="#000" stroke-width="1.3" />
<text transform="translate(374.07,531.4) scale(1,1.1)" font-size="11.5" text-anchor="middle" fill="#111" stroke="#111" stroke-width="0.25" >750</text>
<line x1="438.89" y1="512.2" x2="438.89" y2="518" stroke="#000" stroke-width="1.3" />
<text transform="translate(438.89,531.4) scale(1,1.1)" font-size="11.5" text-anchor="middle" fill="#111" stroke="#111" stroke-width="0.25" >900</text>
<line x1="503.7" y1="512.2" x2="503.7" y2="518" stroke="#000" stroke-width="1.3" />
<text transform="translate(503.7,531.4) scale(1,1.1)" font-size="11.5" text-anchor="middle" fill="#111" stroke="#111" stroke-width="0.25" >1050</text>
<line x1="82.41" y1="512.2" x2="82.41" y2="515.4" stroke="#000" stroke-width="1.3" />
<line x1="147.22" y1="512.2" x2="147.22" y2="515.4" stroke="#000" stroke-width="1.3" />
<line x1="212.04" y1="512.2" x2="212.04" y2="515.4" stroke="#000" stroke-width="1.3" />
<line x1="276.85" y1="512.2" x2="276.85" y2="515.4" stroke="#000" stroke-width="1.3" />
<line x1="341.66" y1="512.2" x2="341.66" y2="515.4" stroke="#000" stroke-width="1.3" />
<line x1="406.48" y1="512.2" x2="406.48" y2="515.4" stroke="#000" stroke-width="1.3" />
<line x1="471.29" y1="512.2" x2="471.29" y2="515.4" stroke="#000" stroke-width="1.3" />
<line x1="44.2" y1="512.2" x2="50" y2="512.2" stroke="#000" stroke-width="1.3" />
<text transform="translate(40.1,515.6) scale(1,1.1)" font-size="12.1" text-anchor="end" fill="#111" stroke="#111" stroke-width="0.25" >3.10</text>
<line x1="44.2" y1="475.53" x2="50" y2="475.53" stroke="#000" stroke-width="1.3" />
<text transform="translate(40.1,478.93) scale(1,1.1)" font-size="12.1" text-anchor="end" fill="#111" stroke="#111" stroke-width="0.25" >3.15</text>
<line x1="44.2" y1="438.87" x2="50" y2="438.87" stroke="#000" stroke-width="1.3" />
<text transform="translate(40.1,442.27) scale(1,1.1)" font-size="12.1" text-anchor="end" fill="#111" stroke="#111" stroke-width="0.25" >3.20</text>
<line x1="44.2" y1="402.2" x2="50" y2="402.2" stroke="#000" stroke-width="1.3" />
<text transform="translate(40.1,405.6) scale(1,1.1)" font-size="12.1" text-anchor="end" fill="#111" stroke="#111" stroke-width="0.25" >3.25</text>
<line x1="44.2" y1="365.53" x2="50" y2="365.53" stroke="#000" stroke-width="1.3" />
<text transform="translate(40.1,368.93) scale(1,1.1)" font-size="12.1" text-anchor="end" fill="#111" stroke="#111" stroke-width="0.25" >3.30</text>
<line x1="44.2" y1="328.87" x2="50" y2="328.87" stroke="#000" stroke-width="1.3" />
<text transform="translate(40.1,332.27) scale(1,1.1)" font-size="12.1" text-anchor="end" fill="#111" stroke="#111" stroke-width="0.25" >3.35</text>
<line x1="44.2" y1="292.2" x2="50" y2="292.2" stroke="#000" stroke-width="1.3" />
<text transform="translate(40.1,295.6) scale(1,1.1)" font-size="12.1" text-anchor="end" fill="#111" stroke="#111" stroke-width="0.25" >3.40</text>
<line x1="46.8" y1="493.87" x2="50" y2="493.87" stroke="#000" stroke-width="1.3" />
<line x1="46.8" y1="457.2" x2="50" y2="457.2" stroke="#000" stroke-width="1.3" />
<line x1="46.8" y1="420.53" x2="50" y2="420.53" stroke="#000" stroke-width="1.3" />
<line x1="46.8" y1="383.87" x2="50" y2="383.87" stroke="#000" stroke-width="1.3" />
<line x1="46.8" y1="347.2" x2="50" y2="347.2" stroke="#000" stroke-width="1.3" />
<line x1="46.8" y1="310.53" x2="50" y2="310.53" stroke="#000" stroke-width="1.3" />
<rect x="50" y="292.2" width="453.7" height="220" fill="none" stroke="#000" stroke-width="1.6"/>
<text transform="translate(275.7,547.3) scale(1,1.12)" font-size="14.6" text-anchor="middle" fill="#111" stroke="#111" stroke-width="0.4" >Time/h</text>
<text transform="translate(12.6,401.5) rotate(-90) scale(1.0,1)" font-size="15.3" text-anchor="middle" fill="#111" stroke="#111" stroke-width="0.4">Voltage/V</text>
<text transform="translate(77.1,327.2) scale(1,1.08)" font-size="19" text-anchor="start" fill="#111" stroke="#111" stroke-width="0.25" >(b)</text>
<rect x="348.5" y="296.2" width="150.5" height="28.5" fill="#fff" stroke="#707070" stroke-width="0.9"/>
<line x1="350" y1="303.3" x2="374.8" y2="303.3" stroke="#333" stroke-width="1.3" />
<line x1="350" y1="317.9" x2="374.8" y2="317.9" stroke="#dc3a3f" stroke-width="1.3" />
<text transform="translate(376.6,306.93) scale(1,1.0)" font-size="11.0" text-anchor="start" fill="#111" stroke="#111" stroke-width="0.25" >True</text>
<text transform="translate(376.6,321.53) scale(1,1.0)" font-size="11.0" text-anchor="start" fill="#111" stroke="#111" stroke-width="0.25" >EWOA-CNN-BiLSTM-AT</text>
<polyline points="313.8,643.1 314.12,643.08 314.43,644.18 314.75,644.83 315.07,646.35 315.38,645.92 315.7,646.5 316.1,648.16 316.5,647.92 316.9,647.6 317.3,648.8 317.88,649.83 318.45,648.74 319.03,650.8 319.6,650 320.37,649.9 321.13,649.4 321.9,650 322.47,651.31 323.05,650.21 323.62,650.7 324.2,651.2 324.77,650.55 325.35,650.97 325.93,649.25 326.5,650 326.96,650.18 327.42,650.18 327.88,652.1 328.34,650.74 328.8,652.3 329.04,653.12 329.28,652.93 329.52,653.94 329.76,654.76 330,655.67 330.24,654.98 330.48,655.79 330.72,656.11 330.96,658.53 331.2,658.1 331.43,657.9 331.66,658.44 331.89,659.86 332.12,660.56 332.35,661.8 332.58,660.55 332.81,661.51 333.04,661.93 333.27,663.42 333.5,663.8 333.88,663.13 334.27,662.47 334.65,662.95 335.03,661.89 335.42,661.76 335.8,660.4 336.09,661.98 336.38,661.04 336.66,663.1 336.95,662.5 337.24,662.29 337.53,664.76 337.81,663.55 338.1,665 338.3,664.51 338.5,665.69 338.7,666.26 338.9,668.33 339.1,668.69 339.3,668.27 339.5,669.09 339.7,669.6 339.93,669.79 340.15,669.13 340.38,668.21 340.6,667.33 340.82,665.88 341.05,665.59 341.27,665.92 341.5,665 342.07,665.49 342.65,666.26 343.23,666.78 343.8,666.2 344.28,667.68 344.76,666.44 345.24,666.65 345.72,668.91 346.2,668.5 346.77,668.93 347.35,668.35 347.93,669.75 348.5,669.6 348.96,669.52 349.42,669.94 349.88,670.69 350.34,671.49 350.8,671.9 351.37,672.49 351.93,671.36 352.5,673.03 353.07,672.97 353.63,672.84 354.2,673.1 354.58,674.05 354.97,674.89 355.35,673.72 355.73,675.31 356.12,676.32 356.5,676.5 356.58,677.56 356.66,678.03 356.74,677.61 356.82,679.93 356.9,680.15 356.99,679.54 357.07,680.58 357.15,682.35 357.23,681.3 357.31,682.35 357.39,684.17 357.47,684.64 357.55,683.77 357.63,685.48 357.71,685.26 357.8,686.54 357.88,687.37 357.96,686.57 358.04,687.38 358.12,687.97 358.2,689.2 358.24,689.3 358.29,689.41 358.33,690.25 358.37,691.46 358.42,692.11 358.46,691.97 358.5,693.7 358.55,695.11 358.59,694.92 358.63,695.05 358.68,696.43 358.72,696.46 358.76,696.5 358.81,697.79 358.85,697.39 358.89,699.45 358.94,698.94 358.98,700.01 359.02,701.93 359.07,702.12 359.11,702.89 359.15,703.08 359.2,703.68 359.24,704.45 359.28,705.64 359.33,704.57 359.37,706.44 359.41,706.03 359.46,706.55 359.5,707.7 359.55,709.02 359.61,709.15 359.66,710.31 359.71,710.98 359.77,710.96 359.82,710.71 359.87,710.92 359.93,712.68 359.98,713.71 360.03,713.32 360.08,713.49 360.14,713.96 360.19,714.94 360.24,716.71 360.3,715.8 360.35,716.91 360.4,717.6 360.46,719.19 360.51,720.41 360.56,718.89 360.62,719.71 360.67,722.13 360.72,722.82 360.77,721.63 360.83,722.65 360.88,723.67 360.93,723.84 360.99,724.67 361.04,725.42 361.09,725.54 361.15,725.71 361.2,727.3 361.26,725.77 361.33,725.33 361.39,724.57 361.46,725.13 361.52,724.67 361.59,723.11 361.65,723.66 361.72,722.91 361.78,721.45 361.85,721.16 361.91,719.89 361.98,720.9 362.04,719.48 362.11,717.75 362.17,717.36 362.24,717.94 362.3,716.9 362.32,716.04 362.35,716.16 362.37,714.48 362.39,715.12 362.41,714.52 362.44,712.35 362.46,712.82 362.48,711.35 362.5,711.87 362.53,711.47 362.55,710.84 362.57,709 362.59,708.08 362.62,708.73 362.64,707.9 362.66,706.35 362.68,705.86 362.71,706.11 362.73,704.46 362.75,705.01 362.78,703.53 362.8,702.96 362.82,702.71 362.84,702.35 362.87,702.16 362.89,700.02 362.91,700.94 362.93,699.22 362.96,698.77 362.98,698.92 363,698.43 363.02,697.65 363.05,697.67 363.07,695.53 363.09,695.15 363.12,695.32 363.14,693.82 363.16,692.99 363.18,692.53 363.21,693.12 363.23,692.63 363.25,691.78 363.27,691.7 363.3,690.73 363.32,689.06 363.34,688.46 363.36,688.74 363.39,686.67 363.41,687.28 363.43,685.52 363.45,684.83 363.48,685.24 363.5,684.6 363.52,683.23 363.53,684.35 363.55,683.62 363.56,682.11 363.58,680.92 363.59,680.15 363.61,680.4 363.62,679.83 363.64,678.88 363.65,679.05 363.67,678.04 363.68,677.98 363.7,675.91 363.71,675.22 363.73,675.32 363.74,674.93 363.76,673.82 363.77,674.13 363.79,672.55 363.8,672.16 363.82,671.9 363.83,671.82 363.85,671.34 363.87,669.87 363.88,669.43 363.9,669.88 363.91,669.3 363.93,668 363.94,666.27 363.96,666.44 363.97,666.23 363.99,664.84 364,663.71 364.02,665.18 364.03,664.43 364.05,662.11 364.06,662.24 364.08,661.98 364.09,660.68 364.11,659.56 364.12,660.46 364.14,659.9 364.15,658.57 364.17,657.19 364.18,657.27 364.2,656.9 364.27,656.63 364.35,659.16 364.42,657.77 364.49,658.91 364.57,660.59 364.64,659.82 364.71,660.37 364.79,660.92 364.86,661.74 364.93,663.17 365.01,664.45 365.08,663.61 365.15,664.24 365.23,666.16 365.3,666.2 365.42,666.65 365.55,667.07 365.67,667.22 365.79,668.1 365.92,670.31 366.04,669.05 366.16,669.98 366.28,671.65 366.41,672.6 366.53,673.24 366.65,672.91 366.78,674.59 366.9,674.2 367.09,673.86 367.28,672.6 367.47,672.41 367.66,672.4 367.85,671.86 368.04,669.97 368.23,669.54 368.42,670.65 368.61,668.21 368.8,668.5 369.07,668.61 369.34,666.99 369.61,666.21 369.88,665.64 370.15,665.53 370.42,666.1 370.69,663.67 370.96,664.64 371.23,662.89 371.5,662.7 371.96,662.44 372.42,664.16 372.88,663.73 373.34,663.85 373.8,665 374.14,665.32 374.49,666.71 374.83,667.3 375.17,667.16 375.51,666.42 375.86,668.58 376.2,668.5 376.88,668.95 377.56,669.82 378.24,670.15 378.92,669 379.6,669.6 379.98,670.95 380.37,671.47 380.75,670.84 381.13,671.64 381.52,672.24 381.9,673.1 382.13,673.35 382.36,673.97 382.59,673.95 382.82,674.78 383.05,676.85 383.28,676.32 383.51,677.39 383.74,678.51 383.97,678.79 384.2,678.8 384.4,678.83 384.6,680.9 384.8,681.23 385,682.23 385.2,682.24 385.4,682.89 385.6,683.6 385.8,683.5 385.96,683.59 386.11,685.11 386.27,685.14 386.42,686.78 386.58,685.86 386.73,687.39 386.89,687.57 387.04,689.27 387.2,689.2 387.21,689.48 387.23,691.19 387.24,691.82 387.25,692.5 387.27,691.49 387.28,693.86 387.29,694.05 387.31,694.52 387.32,695.09 387.33,694.37 387.35,696.8 387.36,696.71 387.37,697.12 387.39,697.48 387.4,699.07 387.41,699.69 387.43,700.5 387.44,699.67 387.45,700.57 387.47,700.98 387.48,701.27 387.49,702.39 387.51,702.34 387.52,704.65 387.53,704.02 387.55,704.29 387.56,704.9 387.57,707 387.59,706.42 387.6,707.7 388.2,707.7 388.6,707.7 388.65,707.01 388.69,706.27 388.74,706.55 388.79,706.28 388.84,704.26 388.88,704.36 388.93,704.33 388.98,702.79 389.03,703.13 389.07,702.16 389.12,700.63 389.17,701.26 389.22,699.99 389.26,698.36 389.31,698.81 389.36,698.74 389.41,697.45 389.45,696.77 389.5,696.2 389.71,695.43 389.93,695.86 390.14,694.8 390.35,693.21 390.56,692.96 390.77,692.37 390.99,693.1 391.2,691.5 391.77,691.66 392.35,690.12 392.93,691.59 393.5,690.4 394.07,689.08 394.65,690 395.23,689.35 395.8,689.2 396.26,689.22 396.72,688.12 397.18,686.92 397.64,687.41 398.1,686.9 398.68,687.38 399.26,687.1 399.84,685.92 400.42,685.41 401,685.8" fill="none" stroke="#2b2b2b" stroke-width="2.0" stroke-linejoin="round" stroke-linecap="round" />
<line x1="387.9" y1="700" x2="387.9" y2="779.3" stroke="#333" stroke-width="1.3" />
<polyline points="401,685.8 401.18,687.01 401.35,687.73 401.52,686.79 401.7,689.1 401.88,689.96 402.05,689.08 402.23,689.51 402.4,690.95 402.57,692.09 402.75,690.77 402.93,691.61 403.1,692.26 403.28,693.88 403.45,693.04 403.62,694.55 403.8,695 403.97,695.6 404.15,696.64 404.32,695.87 404.49,698.59 404.67,699.3 404.84,698.76 405.01,699.97 405.19,698.98 405.36,701.47 405.53,701.13 405.71,702.27 405.88,703.16 406.05,702.44 406.23,704.5 406.4,704 406.56,702.66 406.72,701.59 406.88,702.26 407.03,702.7 407.19,702.12 407.35,701.68 407.51,699.94 407.67,700.46 407.82,698.91 407.98,697.24 408.14,697.92 408.3,697 408.96,697.85 409.62,696.92 410.28,697.45 410.94,696.61 411.6,697.3 412.26,696.48 412.92,696.61 413.58,696.61 414.24,696.26 414.9,696.1 415.56,695.28 416.22,695.29 416.88,696.4 417.54,697.62 418.2,697.3 418.86,697.71 419.52,696.14 420.18,695.94 420.84,696.38 421.5,696.1 422.07,695.46 422.63,696.77 423.2,697.75 423.77,696.13 424.33,697.32 424.9,697.3 425.47,697.47 426.03,697.15 426.6,696.1 426.61,696.05 426.62,695.44 426.62,693.7 426.63,694.57 426.64,694.19 426.65,691.32 426.65,693.03 426.66,691.13 426.67,689.6 426.68,688.95 426.68,690.24 426.69,689.32 426.7,687.33 426.71,687.55 426.71,687.41 426.72,687.74 426.73,685.42 426.74,685.94 426.74,683.98 426.75,683.25 426.76,682.55 426.77,682.6 426.77,682.53 426.78,681.11 426.79,680.14 426.8,679.68 426.8,678.73 426.81,678.41 426.82,678.13 426.83,678.02 426.83,676.58 426.84,676.74 426.85,676.04 426.86,676.82 426.86,674.95 426.87,675.54 426.88,673.71 426.89,672.39 426.89,672.81 426.9,671.05 426.91,670.51 426.92,669.66 426.92,670.68 426.93,670.77 426.94,668.7 426.95,667.97 426.95,667.55 426.96,666.76 426.97,667.04 426.98,665.66 426.98,664.43 426.99,665.68 427,664.32 427.01,662.24 427.01,663.83 427.02,662.91 427.03,661.34 427.04,661.45 427.04,661.6 427.05,659.65 427.06,659.13 427.07,658.18 427.07,658.24 427.08,657.92 427.09,657.5 427.1,657.46 427.1,654.76 427.11,654.73 427.12,655.39 427.13,654.63 427.13,653.51 427.14,653.13 427.15,651.65 427.16,652.62 427.16,650.99 427.17,650 427.18,648.83 427.19,648.05 427.19,649.48 427.2,648.62 427.21,646.01 427.22,646.18 427.22,645.98 427.23,645.42 427.24,644.47 427.25,645.25 427.25,643.23 427.26,643.1 427.27,643.53 427.28,642.17 427.28,641.15 427.29,640.17 427.3,640 427.3,639.1 427.31,639.08 427.31,638.93 427.32,636.96 427.32,636.64 427.32,636.08 427.33,635.41 427.33,636.24 427.34,634.66 427.34,633.38 427.35,632.92 427.35,633.59 427.35,631.26 427.36,632.04 427.36,629.69 427.37,629.54 427.37,628.58 427.38,629.92 427.38,627.6 427.38,627.21 427.39,626.16 427.39,626.09 427.4,626.71 427.4,626.07 427.4,625.96 427.41,625.45 427.41,623.82 427.42,624.18 427.42,621.41 427.43,622.98 427.43,621.1 427.43,619.87 427.44,620.71 427.44,620.39 427.45,618.56 427.45,617.19 427.45,618.62 427.46,617.7 427.46,616.69 427.47,617.07 427.47,614.03 427.48,613.47 427.48,613.04 427.48,612.17 427.49,613.35 427.49,612.55 427.5,610.6 427.5,611 427.52,610.73 427.54,611.39 427.56,613.12 427.57,613.89 427.59,615.27 427.61,614.3 427.63,616.52 427.65,615.71 427.67,616.21 427.68,616.46 427.7,617.02 427.72,619.56 427.74,620.22 427.76,620.08 427.78,619.31 427.79,619.94 427.81,620.47 427.83,621.6 427.85,623.22 427.87,622.06 427.89,623.9 427.91,624.9 427.92,623.83 427.94,625.5 427.96,627.02 427.98,627.07 428,627.36 428.02,629.09 428.03,628.97 428.05,628.89 428.07,629.66 428.09,631.69 428.11,632.08 428.13,632.84 428.14,632.53 428.16,632.05 428.18,632.74 428.2,634.2 428.3,634.51 428.4,635.91 428.5,634.74 428.6,637.42 428.7,637.99 428.8,637.89 428.9,637.18 429,639.85 429.1,639.46 429.2,640.73 429.3,640.9 429.34,641.7 429.39,642.73 429.43,642.52 429.48,644.57 429.52,645.18 429.56,645.73 429.61,645.53 429.65,645.37 429.69,646.15 429.74,646.49 429.78,648.76 429.82,649.08 429.87,649.69 429.91,650.4 429.96,651.46 430,650.8 430.4,651.83 430.8,651.41 431.2,653.09 431.6,652.34 432,653.5 432.67,653.79 433.33,652.61 434,653.5 434.4,654.97 434.8,654.55 435.2,654.54 435.6,656.76 436,656.2 436.3,655.69 436.6,658.46 436.9,658.58 437.2,657.57 437.5,659.74 437.8,659.82 438.1,660.2 438.37,661.86 438.64,661.62 438.91,661.81 439.18,663.73 439.45,662.13 439.72,664.52 439.99,663.37 440.26,664.42 440.53,664.6 440.8,666.2 441.3,667.69 441.8,667.1 442.3,668.36 442.8,668.3 442.98,667.05 443.16,667.66 443.35,666.83 443.53,664.78 443.71,665.19 443.89,665.17 444.07,663.23 444.25,663.76 444.44,662.16 444.62,661.78 444.8,661.5 445.2,663.13 445.6,663.73 446,664.41 446.4,663.47 446.8,664.2 447.2,664.93 447.6,666.08 448,666.49 448.4,666.25 448.8,666.9 448.88,668.45 448.96,667.84 449.03,669.87 449.11,669.23 449.19,668.91 449.27,671.15 449.34,670.18 449.42,672.17 449.5,671.14 449.58,674.17 449.66,673.61 449.73,674.73 449.81,673.74 449.89,675.66 449.97,675.58 450.04,675.85 450.12,677.92 450.2,676.49 450.28,678.24 450.36,677.83 450.43,680.41 450.51,681.12 450.59,679.49 450.67,681.21 450.74,681.82 450.82,683.07 450.9,683.1 451.08,683.08 451.26,681.46 451.45,682.37 451.63,679.81 451.81,679.06 451.99,680.21 452.17,677.78 452.35,677.34 452.54,677.54 452.72,676.49 452.9,676.3 453.3,675.97 453.7,678.5 454.1,677.85 454.5,679.2 454.9,679 455.4,678.7 455.9,680.77 456.4,679.33 456.9,680.4 457.12,682.06 457.34,681.89 457.57,683.42 457.79,683.51 458.01,683.74 458.23,684.09 458.46,685.52 458.68,685.05 458.9,685.8 459,685.35 459.1,688.06 459.2,688.38 459.3,688.65 459.4,689.41 459.5,688.67 459.6,689.87 459.7,691.4 459.8,692.35 459.9,692.84 460,691.46 460.1,693.41 460.2,693.67 460.3,693.88 460.4,693.85 460.5,694.37 460.6,695.83 460.7,696.5 460.85,695.87 460.99,694.68 461.14,694.33 461.28,694.2 461.43,694.14 461.57,693.08 461.72,691.36 461.86,692.63 462.01,690.67 462.15,691.6 462.3,689.8 462.97,690.62 463.63,688 464.3,688.5 464.52,689.3 464.74,690.89 464.97,689.97 465.19,690.98 465.41,690.96 465.63,690.81 465.86,691.85 466.08,692.23 466.3,693.8 466.72,692.7 467.14,693.06 467.56,692.34 467.98,692.81 468.4,691.1 468.8,691.06 469.2,689.7 469.6,690.71 470,689.37 470.4,688.5 470.9,688.26 471.4,688.74 471.9,687.89 472.4,687.1 473.07,686.97 473.73,687.84 474.4,687.8 474.9,687.78 475.4,690.02 475.9,688.63 476.4,689.8 476.82,691.57 477.24,689.75 477.66,690.15 478.08,692.1 478.5,692.5 478.82,692.41 479.15,693.87 479.48,693.53 479.8,695.2 480.3,695.73 480.8,694.94 481.3,694.63 481.8,693.8 482.3,695.26 482.8,695.78 483.3,695.31 483.8,695.2 484.22,696.29 484.64,694.98 485.06,695.65 485.48,697.17 485.9,697.9 486.3,699.66 486.7,698.49 487.1,699.7 487.5,698.78 487.9,700.6 488.22,701.06 488.55,703 488.88,702.86 489.2,703.3" fill="none" stroke="#2b2b2b" stroke-width="2.3" stroke-linejoin="round" stroke-linecap="round" />
<polyline points="401,684 401.23,685.43 401.47,683.9 401.7,684.98 401.93,685.5 402.17,687.78 402.4,686.46 402.63,689.21 402.87,688.06 403.1,690.24 403.33,689.87 403.57,689.96 403.8,691 403.99,692.8 404.18,691.92 404.38,693.26 404.57,692.21 404.76,694.78 404.95,695.75 405.14,694.07 405.33,696.31 405.53,695.65 405.72,695.92 405.91,697.06 406.1,698 406.3,697.83 406.5,698 406.7,697.51 406.9,696.92 407.1,695.37 407.3,694.85 407.5,692.98 407.7,693.86 407.9,692.82 408.1,691.72 408.3,691.5 408.96,692.58 409.62,690.94 410.28,690.69 410.94,690.77 411.6,691.7 412.15,690.42 412.7,691.2 413.25,691.38 413.8,689.35 414.35,689.87 414.9,689.5 415.56,689.91 416.22,690.1 416.88,689.93 417.54,690.49 418.2,690.6 418.75,688.97 419.3,688.72 419.85,689.3 420.4,688.45 420.95,689.43 421.5,688.4 422.18,687.51 422.86,688.8 423.54,687.07 424.22,686.46 424.9,687.3 425.45,686.97 426,686.46 426.55,686.05 427.1,686.2 427.1,686.29 427.11,684.27 427.11,684.84 427.11,684.66 427.12,683.07 427.12,682.6 427.12,683.09 427.13,681.66 427.13,679.96 427.13,679.06 427.14,678.5 427.14,678.54 427.14,677.31 427.14,678.16 427.15,676.98 427.15,676.08 427.15,676 427.16,676.51 427.16,674.1 427.16,673.27 427.17,673.06 427.17,672.51 427.17,673.43 427.18,672.3 427.18,670.97 427.18,669.69 427.19,668.77 427.19,668.37 427.19,669.66 427.2,668.54 427.2,666.66 427.2,667.27 427.21,665.2 427.21,665.76 427.21,664.72 427.22,663.51 427.22,664.57 427.22,663.9 427.22,662.77 427.23,661.27 427.23,661.98 427.23,660.76 427.24,660.75 427.24,658.67 427.24,660.17 427.25,657.24 427.25,657.2 427.25,657.06 427.26,655.94 427.26,655.05 427.26,656.01 427.27,656.2 427.27,653.89 427.27,653.11 427.28,653.56 427.28,651.79 427.28,651.65 427.29,651.8 427.29,650.53 427.29,649.21 427.3,648.39 427.3,649.01 427.3,649.57 427.3,648.79 427.31,646.06 427.31,646.5 427.31,645.86 427.32,644.5 427.32,645.13 427.32,644.08 427.33,644.29 427.33,642.34 427.33,643.41 427.34,642.5 427.34,641.01 427.34,639.55 427.35,639.83 427.35,638.31 427.35,639.16 427.36,638.59 427.36,637.67 427.36,638.11 427.37,635.08 427.37,636.23 427.37,635.85 427.38,633.46 427.38,633.4 427.38,632.1 427.38,632.87 427.39,632.64 427.39,631.06 427.39,631.36 427.4,629.9 427.4,630.2 427.4,628.47 427.41,629.69 427.41,627.68 427.41,625.95 427.42,625.58 427.42,626.63 427.42,626.39 427.43,625.19 427.43,623.34 427.43,624.6 427.44,623.6 427.44,621.43 427.44,621.52 427.45,621.67 427.45,619.34 427.45,618.83 427.46,619.04 427.46,619.79 427.46,619.51 427.46,617.15 427.47,618.08 427.47,617.16 427.47,616.76 427.48,615.44 427.48,615.83 427.48,614.38 427.49,614.57 427.49,612.98 427.49,611.41 427.5,611.65 427.5,611 427.52,611.57 427.54,611.8 427.56,612.5 427.57,613.47 427.59,614.28 427.61,613.94 427.63,614.69 427.65,615.89 427.67,616.5 427.68,616.89 427.7,618.14 427.72,617.51 427.74,619.02 427.76,618.96 427.78,620.86 427.79,621.3 427.81,622.11 427.83,622.03 427.85,621.95 427.87,624.32 427.89,623.85 427.91,624.11 427.92,624.5 427.94,625.4 427.96,626.81 427.98,627.7 428,627.44 428.02,628.7 428.03,627.96 428.05,629.19 428.07,629.56 428.09,630.03 428.11,630.78 428.13,632.42 428.14,632.98 428.16,632.22 428.18,632.9 428.2,634.2 428.3,635.55 428.4,635.82 428.5,636.49 428.6,636.99 428.7,637.75 428.8,637.26 428.9,637.32 429,638.71 429.1,638.47 429.2,641.49 429.3,640.9 429.34,641.58 429.39,642.58 429.43,643.97 429.48,644.17 429.52,643.29 429.56,644.19 429.61,644.21 429.65,646.62 429.69,647.09 429.74,647.06 429.78,647.37 429.82,647.73 429.87,648.91 429.91,650.11 429.96,651.21 430,650.8 430.4,652.25 430.8,652.84 431.2,652.26 431.6,652.76 432,653.5 432.67,653.02 433.33,654.73 434,653.5 434.4,653.22 434.8,653.69 435.2,654.55 435.6,656.76 436,656.2 436.3,657.69 436.6,656.9 436.9,658.83 437.2,659.5 437.5,658.87 437.8,658.83 438.1,660.2 438.37,661.51 438.64,661.07 438.91,661.01 439.18,663.65 439.45,663.04 439.72,663.53 439.99,664.65 440.26,664.36 440.53,664.35 440.8,666.2 441.3,666.44 441.8,666.94 442.3,666.5 442.8,668.3 442.98,667.35 443.16,667.74 443.35,666.01 443.53,666.29 443.71,665.53 443.89,663.78 444.07,662.73 444.25,663.81 444.44,663.02 444.62,661.58 444.8,661.5 445.2,661.26 445.6,663.5 446,664.18 446.4,662.97 446.8,664.2 447.2,664.96 447.6,665.47 448,665.36 448.4,665.15 448.8,666.9 448.96,667.07 449.12,668.52 449.28,669.03 449.45,669.42 449.61,669.03 449.77,669.89 449.93,670.77 450.09,671.67 450.25,672.15 450.42,674.18 450.58,672.76 450.74,675.64 450.9,675 451.3,673.78 451.7,674.85 452.1,672.71 452.5,673.07 452.9,672.3 453.57,672.21 454.23,671.57 454.9,673 455.4,674.27 455.9,674.81 456.4,673.9 456.9,675 457.3,676.26 457.7,676.03 458.1,677.89 458.5,676 458.9,677.7 459.2,677.96 459.5,678.14 459.8,679.74 460.1,680.71 460.4,681.45 460.7,681.25 461,681.7 461.67,680.97 462.33,681.61 463,680.4 463.29,679.94 463.57,680.92 463.86,682.77 464.14,682.53 464.43,684.54 464.71,682.77 465,684.4 465.67,683.87 466.33,682.79 467,683.1 467.5,681.28 468,680.99 468.5,680.46 469,681 469.67,680.23 470.33,679.96 471,679.7 471.52,680.22 472.05,680.15 472.58,681.73 473.1,681.7 473.77,681.31 474.43,682.09 475.1,680.4 475.6,680.04 476.1,681.43 476.6,681.88 477.1,682.4 477.77,682.3 478.43,683.81 479.1,683.1 479.6,681.82 480.1,683.03 480.6,681.16 481.1,681 481.8,680.81 482.5,681.77 483.2,681.7 483.87,681.43 484.53,680.27 485.2,680.4 485.52,679.99 485.85,682.93 486.18,682.09 486.5,683.1 486.83,682.65 487.17,684.61 487.5,684.83 487.83,684.85 488.17,685.4 488.5,686.4 488.64,687.98 488.78,687.34 488.92,688.23 489.06,690.31 489.2,689.8" fill="none" stroke="#e8323a" stroke-width="2.2" stroke-linejoin="round" stroke-linecap="round" />
<rect x="442.5" y="653.6" width="49.8" height="64.6" fill="none" stroke="#333" stroke-width="1.0"/>
<line x1="455" y1="653.6" x2="305" y2="614.3" stroke="#333" stroke-width="0.75" />
<polygon points="302.2,613.5 310.45,613.6 309.43,617.47" fill="#111"/>
<rect x="140.4" y="580.3" width="161.6" height="84.6" fill="#fff" stroke="#555" stroke-width="0.8"/>
<line x1="149.4" y1="664.9" x2="149.4" y2="666.6" stroke="#555" stroke-width="0.6" />
<text transform="translate(149.4,671.5) scale(1,1.0)" font-size="4.8" text-anchor="middle" fill="#333" stroke="#333" stroke-width="0.08" >1040</text>
<line x1="174.43" y1="664.9" x2="174.43" y2="666.6" stroke="#555" stroke-width="0.6" />
<text transform="translate(174.43,671.5) scale(1,1.0)" font-size="4.8" text-anchor="middle" fill="#333" stroke="#333" stroke-width="0.08" >1060</text>
<line x1="199.47" y1="664.9" x2="199.47" y2="666.6" stroke="#555" stroke-width="0.6" />
<text transform="translate(199.47,671.5) scale(1,1.0)" font-size="4.8" text-anchor="middle" fill="#333" stroke="#333" stroke-width="0.08" >1080</text>
<line x1="224.5" y1="664.9" x2="224.5" y2="666.6" stroke="#555" stroke-width="0.6" />
<text transform="translate(224.5,671.5) scale(1,1.0)" font-size="4.8" text-anchor="middle" fill="#333" stroke="#333" stroke-width="0.08" >1100</text>
<line x1="249.53" y1="664.9" x2="249.53" y2="666.6" stroke="#555" stroke-width="0.6" />
<text transform="translate(249.53,671.5) scale(1,1.0)" font-size="4.8" text-anchor="middle" fill="#333" stroke="#333" stroke-width="0.08" >1120</text>
<line x1="274.57" y1="664.9" x2="274.57" y2="666.6" stroke="#555" stroke-width="0.6" />
<text transform="translate(274.57,671.5) scale(1,1.0)" font-size="4.8" text-anchor="middle" fill="#333" stroke="#333" stroke-width="0.08" >1140</text>
<line x1="299.6" y1="664.9" x2="299.6" y2="666.6" stroke="#555" stroke-width="0.6" />
<text transform="translate(299.6,671.5) scale(1,1.0)" font-size="4.8" text-anchor="middle" fill="#333" stroke="#333" stroke-width="0.08" >1160</text>
<line x1="138.5" y1="657.5" x2="140.4" y2="657.5" stroke="#555" stroke-width="0.6" />
<text transform="translate(137.3,659.1) scale(1,1.0)" font-size="4.8" text-anchor="end" fill="#333" stroke="#333" stroke-width="0.08" >3.205</text>
<line x1="138.5" y1="647.89" x2="140.4" y2="647.89" stroke="#555" stroke-width="0.6" />
<text transform="translate(137.3,649.49) scale(1,1.0)" font-size="4.8" text-anchor="end" fill="#333" stroke="#333" stroke-width="0.08" >3.210</text>
<line x1="138.5" y1="638.28" x2="140.4" y2="638.28" stroke="#555" stroke-width="0.6" />
<text transform="translate(137.3,639.88) scale(1,1.0)" font-size="4.8" text-anchor="end" fill="#333" stroke="#333" stroke-width="0.08" >3.215</text>
<line x1="138.5" y1="628.66" x2="140.4" y2="628.66" stroke="#555" stroke-width="0.6" />
<text transform="translate(137.3,630.26) scale(1,1.0)" font-size="4.8" text-anchor="end" fill="#333" stroke="#333" stroke-width="0.08" >3.220</text>
<line x1="138.5" y1="619.05" x2="140.4" y2="619.05" stroke="#555" stroke-width="0.6" />
<text transform="translate(137.3,620.65) scale(1,1.0)" font-size="4.8" text-anchor="end" fill="#333" stroke="#333" stroke-width="0.08" >3.225</text>
<line x1="138.5" y1="609.44" x2="140.4" y2="609.44" stroke="#555" stroke-width="0.6" />
<text transform="translate(137.3,611.04) scale(1,1.0)" font-size="4.8" text-anchor="end" fill="#333" stroke="#333" stroke-width="0.08" >3.230</text>
<line x1="138.5" y1="599.83" x2="140.4" y2="599.83" stroke="#555" stroke-width="0.6" />
<text transform="translate(137.3,601.43) scale(1,1.0)" font-size="4.8" text-anchor="end" fill="#333" stroke="#333" stroke-width="0.08" >3.235</text>
<line x1="138.5" y1="590.21" x2="140.4" y2="590.21" stroke="#555" stroke-width="0.6" />
<text transform="translate(137.3,591.81) scale(1,1.0)" font-size="4.8" text-anchor="end" fill="#333" stroke="#333" stroke-width="0.08" >3.240</text>
<line x1="138.5" y1="580.6" x2="140.4" y2="580.6" stroke="#555" stroke-width="0.6" />
<text transform="translate(137.3,582.2) scale(1,1.0)" font-size="4.8" text-anchor="end" fill="#333" stroke="#333" stroke-width="0.08" >3.245</text>
<polyline points="140.4,595.5 140.78,595.08 141.17,594.99 141.55,594.39 141.93,595.13 142.32,594.96 142.7,594.5 143.11,594.27 143.53,594.07 143.94,593.63 144.36,594.51 144.77,593.78 145.19,594.33 145.6,593.6 145.96,593.17 146.32,593.62 146.69,592.15 147.05,592.3 147.41,593.43 147.78,592.73 148.14,592.52 148.5,592 148.97,592.14 149.45,592.25 149.93,591.91 150.4,592.6 150.78,592.21 151.16,593.26 151.54,593.55 151.92,592.97 152.3,593.6 152.54,594.19 152.78,593.6 153.03,594.78 153.27,594.31 153.51,595.24 153.75,595.22 153.99,595.97 154.23,595.54 154.47,596.5 154.72,597.06 154.96,596.52 155.2,597.5 155.44,597.51 155.68,598.52 155.92,598.63 156.17,599.11 156.41,599.75 156.65,599.73 156.89,599.45 157.13,600.2 157.38,601.24 157.62,601.12 157.86,601.81 158.1,601.7 158.39,601.76 158.68,602.21 158.98,603.45 159.27,603.48 159.56,603.48 159.85,602.79 160.15,604 160.44,603.26 160.73,605.18 161.02,605.55 161.32,605.41 161.61,604.88 161.9,605.6 162.09,606.6 162.29,605.78 162.48,607.33 162.67,607.16 162.87,606.63 163.06,608.58 163.25,608.15 163.45,609.23 163.64,609.36 163.83,609.46 164.03,610.43 164.22,609.63 164.41,611.26 164.61,610.63 164.8,611.3 164.97,610.82 165.14,611.76 165.31,611.65 165.48,612.04 165.65,613.41 165.82,612.88 165.99,613.32 166.16,613.94 166.34,614.29 166.51,615.82 166.68,616.17 166.85,616.48 167.02,617.08 167.19,616.46 167.36,617.48 167.53,616.93 167.7,617.7 168.02,618.22 168.33,617.76 168.65,617.37 168.97,616.21 169.28,615.71 169.6,616.2 169.81,616.62 170.01,615.59 170.22,615.35 170.43,615.45 170.64,613.81 170.84,614.46 171.05,613.69 171.26,613.91 171.46,612.97 171.67,612.15 171.88,613.17 172.09,611.61 172.29,612.09 172.5,611.3 172.86,611.66 173.22,610.37 173.59,610.94 173.95,610.16 174.31,609.62 174.68,609.37 175.04,610.45 175.4,609.4 175.81,609.31 176.23,609.7 176.64,609.83 177.06,609.12 177.47,610.57 177.89,610.7 178.3,610.4 178.68,611.26 179.06,610.5 179.44,610.42 179.82,610.85 180.2,611.3 180.56,611.97 180.92,612.08 181.29,611.88 181.65,612.34 182.01,611.93 182.38,613.55 182.74,613 183.1,613.3 183.36,613.66 183.63,614.51 183.89,613.79 184.15,615.08 184.42,614.76 184.68,615.94 184.95,614.99 185.21,615.66 185.47,616.65 185.74,616.72 186,617.1 186.4,616.88 186.8,617.24 187.2,616.59 187.6,616.99 188,616.2 188.4,617.64 188.8,617.1 189.2,616.48 189.6,617.34 190,616.65 190.4,616.56 190.8,616.2 191.12,616.74 191.43,616.16 191.75,617.65 192.07,617.09 192.38,618.44 192.7,618.1 192.86,619.02 193.02,619.22 193.17,619.87 193.33,619.59 193.49,620.41 193.65,621.32 193.81,620.34 193.97,620.58 194.12,621.54 194.28,622.12 194.44,621.87 194.6,622.9 194.75,622.78 194.89,624.33 195.03,623.85 195.18,623.81 195.32,624.25 195.47,625.35 195.62,625.04 195.76,625.94 195.91,626.43 196.05,626.64 196.19,627.14 196.34,628.13 196.48,627.04 196.63,629.06 196.78,628.13 196.92,628.23 197.06,629.93 197.21,629.96 197.35,630.28 197.5,630.6 197.63,630.47 197.75,631.87 197.88,631.39 198.01,632.53 198.13,632.01 198.26,633.01 198.39,633.53 198.51,633.41 198.64,633.98 198.77,633.62 198.89,635.04 199.02,635.5 199.15,634.92 199.27,636.01 199.4,636.3 199.64,636.37 199.88,634.88 200.11,635.86 200.35,635.57 200.59,633.74 200.83,633.75 201.06,633.1 201.3,633.5 201.48,632.69 201.66,632.03 201.84,632.39 202.03,631.6 202.21,631.33 202.39,631.26 202.57,630.73 202.75,631.12 202.93,630.64 203.11,629.18 203.29,629.01 203.47,628.26 203.66,628.48 203.84,627.72 204.02,628.42 204.2,627.7 204.47,627.8 204.73,627.79 205,626.5 205.29,625.69 205.58,625.1 205.88,626.11 206.17,625.21 206.46,625.86 206.75,624.61 207.04,624.18 207.33,623.46 207.62,624.76 207.92,623.69 208.21,623.28 208.5,623.1 208.88,623.17 209.27,623.95 209.65,624.25 210.03,623.79 210.42,623.44 210.8,624.2 211.04,624.36 211.29,625.56 211.53,625.02 211.77,625.8 212.01,625.95 212.26,626.1 212.5,626.63 212.74,626.37 212.99,627.26 213.23,628.14 213.47,627.06 213.71,627.91 213.96,629.16 214.2,628.8 214.45,630 214.7,628.6 214.95,630.04 215.2,630.38 215.45,631.1 215.7,630.76 215.95,630.49 216.2,631.13 216.45,632.2 216.7,632.57 216.95,631.96 217.2,633.09 217.45,633.45 217.7,633.5 218.14,633.78 218.57,632.64 219.01,633.39 219.45,633.18 219.89,633.67 220.32,633.21 220.76,632.83 221.2,633.5 221.48,633.51 221.77,632.53 222.05,633.15 222.33,631.98 222.62,632.12 222.9,632.3 223.18,630.77 223.47,631.58 223.75,630.1 224.03,631.37 224.32,629.44 224.6,630 224.95,630.17 225.3,629.3 225.65,628.73 226,628.89 226.35,628.85 226.7,628.47 227.05,627.71 227.4,628.2 227.75,627.57 228.1,627.7 228.48,628.38 228.87,627.17 229.25,627.11 229.63,626.58 230.02,627.75 230.4,626.43 230.78,626.85 231.17,627.03 231.55,626.08 231.93,626.58 232.32,625.56 232.7,625.8 233.12,625.06 233.54,624.9 233.95,625.6 234.37,626.33 234.79,625.08 235.21,625.47 235.63,626.02 236.05,625.11 236.46,624.85 236.88,625.47 237.3,625.4 237.72,625.37 238.14,626.39 238.55,626.42 238.97,625.33 239.39,626.01 239.81,625.85 240.23,625.26 240.65,626.1 241.06,627.05 241.48,626.05 241.9,626.5 242.32,626.76 242.74,627.1 243.15,626.04 243.57,627.7 243.99,626.34 244.41,626.8 244.83,627.65 245.25,626.51 245.66,627.26 246.08,626.92 246.5,627.7 246.86,627.83 247.22,627.18 247.58,627.6 247.95,627.91 248.31,627.83 248.67,628.02 249.03,628.39 249.39,629.15 249.75,628.64 250.12,630.05 250.48,629.5 250.84,629.38 251.2,630 251.54,629.76 251.88,631.07 252.22,629.87 252.56,631.36 252.9,630.43 253.24,632.18 253.58,631.44 253.92,632.02 254.26,632.72 254.6,632.3 254.89,631.87 255.18,632.1 255.47,633.52 255.77,633.62 256.06,634.16 256.35,633.65 256.64,634.34 256.93,634.07 257.23,634.81 257.52,634.82 257.81,635.66 258.1,635.8 258.44,635.21 258.78,634.93 259.12,635.37 259.46,634.13 259.8,635.19 260.14,634.41 260.48,633.7 260.82,633.27 261.16,633.75 261.5,633.5 261.89,633.37 262.28,633.63 262.67,632.87 263.06,632.81 263.44,633.54 263.83,632.29 264.22,633.43 264.61,633.14 265,632.3 265.42,633.18 265.84,633.1 266.25,631.86 266.67,632.87 267.09,632.5 267.51,631.77 267.93,633.2 268.35,632.57 268.76,632.86 269.18,632.4 269.6,632.3 269.98,631.73 270.37,633.34 270.75,632.29 271.13,632.63 271.52,633.47 271.9,632.9 272.28,633.57 272.67,634.22 273.05,633.3 273.43,634.51 273.82,633.7 274.2,634.6 274.55,634.79 274.9,635.33 275.25,635.63 275.6,634.7 275.95,635.19 276.3,636.81 276.65,636.01 277,636.3 277.35,636.44 277.7,636.9 278.05,637.48 278.4,637.79 278.75,637.86 279.1,637.64 279.45,638.18 279.8,638.31 280.15,637.95 280.5,639.55 280.85,639.81 281.2,639.2 281.54,639.93 281.88,640.55 282.22,639.83 282.56,640.73 282.9,639.88 283.24,641.02 283.58,641.2 283.92,641.83 284.26,641.87 284.6,641.5 284.83,642.53 285.06,641.78 285.29,643.07 285.52,642.86 285.75,642.91 285.98,643.36 286.21,644.49 286.44,644.92 286.67,645.27 286.9,645 287.19,645.02 287.47,643.83 287.76,643.52 288.05,643.97 288.34,643.04 288.62,642.98 288.91,642.27 289.2,642.7 289.53,642.33 289.87,643.6 290.2,642.97 290.53,644.35 290.87,643.67 291.2,644.86 291.53,644.13 291.87,644.33 292.2,645" fill="none" stroke="#333" stroke-width="1.0" stroke-linejoin="round" stroke-linecap="round" />
<polyline points="140.4,595 140.73,594.58 141.06,593.45 141.39,594.4 141.71,594.12 142.04,593.02 142.37,595.08 142.7,594 143.06,593.56 143.42,592.48 143.79,594.86 144.15,592.84 144.51,592.8 144.88,592.09 145.24,592.17 145.6,593.1 145.92,593.47 146.24,592.96 146.57,592.58 146.89,591.73 147.21,591.66 147.53,593.26 147.86,591.52 148.18,592.95 148.5,591.5 148.88,592.63 149.26,590.76 149.64,592.77 150.02,590.73 150.4,592.1 150.72,592.82 151.03,593.24 151.35,593.11 151.67,592.9 151.98,593.75 152.3,593.1 152.52,592.49 152.75,593.79 152.97,593.37 153.19,594.01 153.42,593.76 153.64,595.4 153.86,595.34 154.08,596.16 154.31,596.06 154.53,596.28 154.75,597.41 154.98,597.42 155.2,596.9 155.52,597.28 155.84,596.87 156.17,598.65 156.49,597.41 156.81,596.92 157.13,597.73 157.46,598.91 157.78,599.71 158.1,598.8 158.39,599.38 158.68,599.62 158.97,600.54 159.26,600.32 159.55,599.66 159.84,599.9 160.13,600.88 160.42,599.93 160.71,599.59 161,600.8 161.27,600.83 161.54,601.03 161.81,599.29 162.09,600.13 162.36,600.39 162.63,598.12 162.9,598.8 163,598.19 163.09,599.46 163.19,599.39 163.28,601.33 163.38,601.79 163.47,600.7 163.56,601.94 163.66,601.86 163.75,601.01 163.85,603.43 163.95,601.69 164.04,601.78 164.14,603.1 164.23,602.31 164.33,603.85 164.42,604.01 164.52,605.76 164.61,604.7 164.71,606.17 164.8,605.6 164.91,606.66 165.02,606.49 165.14,605.92 165.25,606.43 165.36,607.25 165.47,607.34 165.58,608.33 165.69,608.3 165.81,608.16 165.92,609.23 166.03,610.58 166.14,608.85 166.25,609.53 166.36,609.03 166.48,609.57 166.59,609.81 166.7,611.3 166.95,611.35 167.2,612.67 167.45,612.56 167.7,613.51 167.95,613.43 168.2,613.02 168.45,613.26 168.7,613.3 168.91,611.71 169.12,612.35 169.33,611.71 169.54,612.32 169.76,610.56 169.97,611.48 170.18,610.72 170.39,610.7 170.6,610.4 170.82,609.85 171.05,608.77 171.27,610.1 171.49,609.98 171.72,609.16 171.94,607.6 172.16,608.56 172.38,608.96 172.61,608.97 172.83,608.07 173.05,605.92 173.28,607.78 173.5,606.5 173.85,606.89 174.2,605.84 174.55,607.48 174.9,607.2 175.25,607.34 175.6,605.62 175.95,606.44 176.3,606.2 176.63,606.1 176.97,606.1 177.3,607.53 177.63,607.37 177.97,606.85 178.3,607.5 178.66,607.49 179.03,608.36 179.39,607.3 179.75,608.08 180.11,607.05 180.47,608.03 180.84,605.4 181.2,606.5 181.55,606.52 181.9,606.89 182.25,607.46 182.6,608.22 182.95,607.45 183.3,607.19 183.65,607.72 184,607.5 184.36,607.71 184.72,608.28 185.09,609.04 185.45,606.74 185.81,607.66 186.18,609.23 186.54,607.23 186.9,608.5 187.28,609.25 187.66,607.28 188.04,608.89 188.42,609.28 188.8,608.5 189.13,607.97 189.47,608.49 189.8,608.24 190.13,609.63 190.47,609.32 190.8,609.4 191.07,609.95 191.34,609.49 191.61,610.44 191.89,611.67 192.16,611.48 192.43,612.2 192.7,611.3 192.83,610.97 192.95,612 193.08,611.98 193.21,612.21 193.33,613.72 193.46,612.41 193.59,613.74 193.71,614.63 193.84,615.37 193.97,613.32 194.09,614.3 194.22,615.2 194.35,616.68 194.47,615 194.6,616.2 194.76,617.4 194.92,616.57 195.08,617.27 195.24,618.58 195.41,616.65 195.57,617.66 195.73,617.52 195.89,617.78 196.05,618.54 196.21,619.89 196.37,619.89 196.53,619.02 196.69,621.1 196.86,620.65 197.02,620.02 197.18,622.1 197.34,622.42 197.5,621.9 197.66,621.49 197.82,623.69 197.97,623.68 198.13,622.5 198.29,622.23 198.45,624.81 198.61,625.02 198.77,623.45 198.93,625.52 199.08,625.86 199.24,625.82 199.4,625.8 199.67,626.38 199.94,626.49 200.21,624.5 200.49,625.53 200.76,625.47 201.03,623.6 201.3,623.8 201.48,623.98 201.66,623.68 201.84,623.81 202.03,622.77 202.21,621.72 202.39,621.35 202.57,621.81 202.75,620.45 202.93,622.03 203.11,621.81 203.29,619.83 203.47,620.71 203.66,620.35 203.84,618.62 204.02,620.02 204.2,619 204.36,619.35 204.52,617.82 204.68,616.94 204.84,617.07 205,617.3 205.35,617.9 205.7,616.99 206.05,617.79 206.4,615.97 206.75,615.73 207.1,616.25 207.45,617.52 207.8,615.54 208.15,615.2 208.5,616.2 208.76,617.11 209.01,615.65 209.27,617.4 209.52,616.14 209.78,616.82 210.03,618.16 210.29,618.96 210.54,618.01 210.8,618.5 211.13,618.2 211.46,616.94 211.79,617.57 212.11,617.14 212.44,618.39 212.77,618.03 213.1,617.3 213.31,618.33 213.53,617.96 213.74,618.68 213.95,617.48 214.16,618.44 214.38,618.49 214.59,618.75 214.8,620.22 215.01,619.14 215.22,619.72 215.44,619.9 215.65,621.7 215.86,621.4 216.07,621.27 216.29,621.3 216.5,621.9 216.75,623.25 217,623.54 217.25,622.52 217.5,623.07 217.75,624.09 218,622.77 218.25,623.02 218.5,622.87 218.75,624.16 219,625.1 219.25,623.76 219.5,624.72 219.75,626.43 220,625.4 220.25,625.1 220.5,624.59 220.75,625.53 221,625.42 221.25,623.83 221.5,622.92 221.75,624.01 222,624.03 222.25,624.25 222.5,623.32 222.75,622.15 223,622.44 223.25,621.6 223.5,621.9 223.81,621.55 224.12,621.4 224.43,622.34 224.74,622.12 225.05,621.96 225.35,620.59 225.66,621.64 225.97,619.29 226.28,621.11 226.59,620.17 226.9,619.6 227.22,620.36 227.54,618.96 227.85,620.25 228.17,617.53 228.49,619.46 228.81,619.18 229.13,617.81 229.45,618.78 229.76,616.97 230.08,618.17 230.4,617.3 230.71,617.01 231.02,616.65 231.33,615.88 231.64,617.24 231.95,616.85 232.25,614.98 232.56,617.08 232.87,614.9 233.18,615.09 233.49,614.99 233.8,615 234.15,615.32 234.5,616.25 234.85,616.52 235.2,615.83 235.55,615.25 235.9,614.7 236.25,614.72 236.6,616.01 236.95,616.3 237.3,616.2 237.65,616.06 238,617.45 238.35,615.98 238.7,615.81 239.05,615.99 239.4,615.35 239.75,617.34 240.1,616.44 240.45,616.31 240.8,616.2 241.11,616.22 241.42,615.97 241.73,616.35 242.04,617.02 242.35,617.11 242.65,618.7 242.96,617.83 243.27,617.11 243.58,616.92 243.89,617.4 244.2,618.5 244.55,617.98 244.9,618.99 245.25,619.15 245.6,617.33 245.95,618.63 246.3,617.63 246.65,617.76 247,617.63 247.35,616.23 247.7,617.3 248.02,616.38 248.34,618.15 248.65,618.42 248.97,617.83 249.29,619.43 249.61,619.39 249.93,618.25 250.25,617.85 250.56,619.32 250.88,619.79 251.2,619.6 251.54,619 251.88,618.65 252.22,619.93 252.56,618.87 252.9,620.82 253.24,620.65 253.58,619.87 253.92,620.42 254.26,619.99 254.6,620.8 254.82,620.27 255.04,620.55 255.26,622.48 255.47,621.83 255.69,622.8 255.91,622.13 256.13,623.61 256.35,623.35 256.57,623.79 256.79,623.4 257.01,624.12 257.23,623.45 257.44,625.77 257.66,625.27 257.88,625.2 258.1,625.4 258.36,625.49 258.62,623.82 258.88,624.16 259.15,623.62 259.41,624.95 259.67,622.52 259.93,623.37 260.19,624.2 260.45,623.71 260.72,623.28 260.98,621.92 261.24,621.47 261.5,621.9 261.82,622.22 262.14,620.96 262.45,621.85 262.77,620.67 263.09,621.53 263.41,620.84 263.73,621.26 264.05,621.49 264.36,619.7 264.68,621.07 265,619.6 265.35,618.22 265.7,620.36 266.05,618.05 266.4,619.28 266.75,618.76 267.1,619.64 267.45,618.35 267.8,617.96 268.15,619.35 268.5,618.5 268.84,618.74 269.18,619.38 269.52,618.8 269.86,617.74 270.2,619.76 270.54,618.43 270.88,619.2 271.22,618.08 271.56,618.86 271.9,619.6 272.17,619.77 272.44,619.76 272.71,619.17 272.98,618.41 273.25,618.9 273.52,618.47 273.78,617 274.05,617.6 274.32,617.5 274.59,617.58 274.86,615.94 275.13,615.97 275.4,616.2 275.66,616.05 275.92,615.67 276.18,616.59 276.45,617.84 276.71,617.71 276.97,616.92 277.23,618.63 277.49,617.3 277.75,619.21 278.02,617.9 278.28,618.03 278.54,618.69 278.8,619.6 279.02,619.35 279.24,618.43 279.46,619.74 279.68,619.59 279.89,617.6 280.11,618.52 280.33,618.1 280.55,617.46 280.77,616.38 280.99,617.89 281.21,617.62 281.43,614.88 281.64,615.42 281.86,615.11 282.08,614.5 282.3,615 282.51,615.14 282.72,616.67 282.93,614.72 283.14,617.15 283.35,616.09 283.55,615.64 283.76,618.27 283.97,616.95 284.18,617.12 284.39,617.19 284.6,618.5 284.87,618.42 285.14,618.03 285.41,618.45 285.68,618.9 285.95,620.01 286.22,619.93 286.48,619.82 286.75,620.66 287.02,621.57 287.29,621.7 287.56,620.97 287.83,622.73 288.1,621.9 288.31,622.98 288.52,622.7 288.73,622.79 288.94,622.73 289.15,622.54 289.35,624.81 289.56,624.41 289.77,623.4 289.98,625.87 290.19,626.09 290.4,625.4 290.7,624.37 291,626.29 291.3,625.27 291.6,626.23 291.9,627.19 292.2,626.5" fill="none" stroke="#e8323a" stroke-width="1.0" stroke-linejoin="round" stroke-linecap="round" opacity="0.9"/>
<line x1="56.5" y1="742.4" x2="307.7" y2="742.4" stroke="#2424d8" stroke-width="1.5" />
<polygon points="51.7,742.4 59.7,740.3 58.5,742.4 59.7,744.5" fill="#2424d8"/>
<polygon points="312.5,742.4 304.5,740.3 305.7,742.4 304.5,744.5" fill="#2424d8"/>
<line x1="320" y1="742.4" x2="395" y2="742.4" stroke="#2424d8" stroke-width="1.5" />
<polygon points="315.2,742.4 323.2,740.3 322,742.4 323.2,744.5" fill="#2424d8"/>
<polygon points="399.8,742.4 391.8,740.3 393,742.4 391.8,744.5" fill="#2424d8"/>
<line x1="407.4" y1="742.4" x2="491.7" y2="742.4" stroke="#2424d8" stroke-width="1.5" />
<polygon points="402.6,742.4 410.6,740.3 409.4,742.4 410.6,744.5" fill="#2424d8"/>
<polygon points="496.5,742.4 488.5,740.3 489.7,742.4 488.5,744.5" fill="#2424d8"/>
<line x1="313.9" y1="630.4" x2="313.9" y2="755" stroke="#2424d8" stroke-width="1.5" />
<line x1="401.3" y1="638.6" x2="401.3" y2="763.5" stroke="#2424d8" stroke-width="1.5" />
<text transform="translate(63.75,756.8) scale(1,1.0)" font-size="11" text-anchor="start" fill="#2e2eb8" stroke="#2e2eb8" stroke-width="0.25" >60% Missing data</text>
<text transform="translate(317.3,753.8) scale(1,1.0)" font-size="11.1" text-anchor="start" fill="#2e2eb8" stroke="#2e2eb8" stroke-width="0.25" >20% Training data</text>
<text transform="translate(408,753.8) scale(1,1.0)" font-size="11.1" text-anchor="start" fill="#2e2eb8" stroke="#2e2eb8" stroke-width="0.25" >20% Testing data</text>
<line x1="50" y1="793.4" x2="50" y2="799.2" stroke="#000" stroke-width="1.3" />
<text transform="translate(50,812.1) scale(1,1.1)" font-size="12" text-anchor="middle" fill="#111" stroke="#111" stroke-width="0.25" >0</text>
<line x1="126.13" y1="793.4" x2="126.13" y2="799.2" stroke="#000" stroke-width="1.3" />
<text transform="translate(126.13,812.1) scale(1,1.1)" font-size="12" text-anchor="middle" fill="#111" stroke="#111" stroke-width="0.25" >200</text>
<line x1="202.27" y1="793.4" x2="202.27" y2="799.2" stroke="#000" stroke-width="1.3" />
<text transform="translate(202.27,812.1) scale(1,1.1)" font-size="12" text-anchor="middle" fill="#111" stroke="#111" stroke-width="0.25" >400</text>
<line x1="278.4" y1="793.4" x2="278.4" y2="799.2" stroke="#000" stroke-width="1.3" />
<text transform="translate(278.4,812.1) scale(1,1.1)" font-size="12" text-anchor="middle" fill="#111" stroke="#111" stroke-width="0.25" >600</text>
<line x1="354.53" y1="793.4" x2="354.53" y2="799.2" stroke="#000" stroke-width="1.3" />
<text transform="translate(354.53,812.1) scale(1,1.1)" font-size="12" text-anchor="middle" fill="#111" stroke="#111" stroke-width="0.25" >800</text>
<line x1="430.67" y1="793.4" x2="430.67" y2="799.2" stroke="#000" stroke-width="1.3" />
<text transform="translate(430.67,812.1) scale(1,1.1)" font-size="12" text-anchor="middle" fill="#111" stroke="#111" stroke-width="0.25" >1000</text>
<line x1="506.8" y1="793.4" x2="506.8" y2="799.2" stroke="#000" stroke-width="1.3" />
<text transform="translate(506.8,812.1) scale(1,1.1)" font-size="12" text-anchor="middle" fill="#111" stroke="#111" stroke-width="0.25" >1200</text>
<line x1="88.07" y1="793.4" x2="88.07" y2="796.6" stroke="#000" stroke-width="1.3" />
<line x1="164.2" y1="793.4" x2="164.2" y2="796.6" stroke="#000" stroke-width="1.3" />
<line x1="240.33" y1="793.4" x2="240.33" y2="796.6" stroke="#000" stroke-width="1.3" />
<line x1="316.47" y1="793.4" x2="316.47" y2="796.6" stroke="#000" stroke-width="1.3" />
<line x1="392.6" y1="793.4" x2="392.6" y2="796.6" stroke="#000" stroke-width="1.3" />
<line x1="468.73" y1="793.4" x2="468.73" y2="796.6" stroke="#000" stroke-width="1.3" />
<line x1="44.2" y1="793.4" x2="50" y2="793.4" stroke="#000" stroke-width="1.3" />
<text transform="translate(40.1,796.7) scale(1,1.1)" font-size="12.1" text-anchor="end" fill="#111" stroke="#111" stroke-width="0.25" >3.15</text>
<line x1="44.2" y1="719.93" x2="50" y2="719.93" stroke="#000" stroke-width="1.3" />
<text transform="translate(40.1,723.23) scale(1,1.1)" font-size="12.1" text-anchor="end" fill="#111" stroke="#111" stroke-width="0.25" >3.20</text>
<line x1="44.2" y1="646.47" x2="50" y2="646.47" stroke="#000" stroke-width="1.3" />
<text transform="translate(40.1,649.77) scale(1,1.1)" font-size="12.1" text-anchor="end" fill="#111" stroke="#111" stroke-width="0.25" >3.25</text>
<line x1="44.2" y1="573" x2="50" y2="573" stroke="#000" stroke-width="1.3" />
<text transform="translate(40.1,576.3) scale(1,1.1)" font-size="12.1" text-anchor="end" fill="#111" stroke="#111" stroke-width="0.25" >3.30</text>
<line x1="46.8" y1="756.67" x2="50" y2="756.67" stroke="#000" stroke-width="1.3" />
<line x1="46.8" y1="683.2" x2="50" y2="683.2" stroke="#000" stroke-width="1.3" />
<line x1="46.8" y1="609.73" x2="50" y2="609.73" stroke="#000" stroke-width="1.3" />
<rect x="50" y="573" width="456.8" height="220.4" fill="none" stroke="#000" stroke-width="1.6"/>
<text transform="translate(281.3,830) scale(1,1.12)" font-size="14.9" text-anchor="middle" fill="#111" stroke="#111" stroke-width="0.4" >Time/h</text>
<text transform="translate(14.4,683.7) rotate(-90) scale(1.0,1)" font-size="15.3" text-anchor="middle" fill="#111" stroke="#111" stroke-width="0.4">Voltage/V</text>
<text transform="translate(72.3,605.4) scale(1,1.03)" font-size="19" text-anchor="start" fill="#111" stroke="#111" stroke-width="0.25" >(c)</text>
<rect x="326.7" y="576.6" width="177.1" height="33" fill="#fff" stroke="#707070" stroke-width="0.9"/>
<line x1="327.7" y1="584.2" x2="356.5" y2="584.2" stroke="#333" stroke-width="1.3" />
<line x1="327.7" y1="600.6" x2="356.5" y2="600.6" stroke="#dc3a3f" stroke-width="1.3" />
<text transform="translate(355.4,588.49) scale(1,1.0)" font-size="13" text-anchor="start" fill="#111" stroke="#111" stroke-width="0.25" >True</text>
<text transform="translate(360.4,604.89) scale(1,1.0)" font-size="13" text-anchor="start" fill="#111" stroke="#111" stroke-width="0.25" >EWOA-CNN-BiLSTM-AT</text>
<polyline points="314.3,946.2 315,946.48 315.7,947.3 316.1,947.87 316.5,948.75 316.9,948.47 317.3,949.6 317.38,950.55 317.45,950.92 317.53,952.64 317.6,951.94 317.68,953.6 317.75,953.12 317.82,954.27 317.9,954.71 317.98,955.49 318.05,956.9 318.12,956.99 318.2,958.83 318.27,958.3 318.35,959.97 318.43,961.12 318.5,961.2 318.64,959.8 318.77,959.24 318.91,959.5 319.05,958.25 319.19,958.35 319.33,956.56 319.46,955.94 319.6,955.4 320.37,955.82 321.13,954.32 321.9,954.2 322.67,955.44 323.43,955.7 324.2,955.4 324.97,955.23 325.73,956.22 326.5,956.5 326.96,956.61 327.42,954.45 327.88,955.09 328.34,954.27 328.8,953.1 329.6,953.15 330.4,952.48 331.2,951.9 331.97,950.81 332.73,951.99 333.5,950.8 333.96,950.76 334.42,952.67 334.88,953.24 335.34,953.19 335.8,954.2 336.2,953.96 336.6,952.89 337,952.93 337.4,951.9 337.68,950.4 337.96,951.32 338.24,949.65 338.52,949.73 338.8,948.5 339.6,948.45 340.4,948.5 340.45,948.35 340.51,946.71 340.56,946.44 340.62,944.78 340.67,944.9 340.72,943.45 340.78,944.14 340.83,943.1 340.88,941.93 340.94,942.2 340.99,941.43 341.05,940.74 341.1,939.2 341.21,939.17 341.33,941.02 341.44,941.78 341.55,942.29 341.66,941.95 341.77,944.31 341.89,944.16 342,945 342.11,945.88 342.22,946.98 342.32,946.72 342.43,946.98 342.54,949.3 342.65,948.83 342.75,949.13 342.86,950.01 342.97,952.26 343.08,952.51 343.18,952.26 343.29,952.86 343.4,954.2 343.67,954.15 343.93,952.96 344.2,952.05 344.47,950.47 344.73,950.21 345,949.6 345.46,949.72 345.92,947.35 346.38,947.41 346.84,946.08 347.3,946.2 347.51,947.82 347.72,946.94 347.93,949.2 348.14,949.72 348.35,950.25 348.55,949.74 348.76,951.64 348.97,952.01 349.18,952.73 349.39,952.83 349.6,954.2 350.18,954.8 350.75,955.89 351.32,955.26 351.9,956.5 352.47,957.75 353.05,957.51 353.62,957.8 354.2,958.8 354.97,957.96 355.73,957.99 356.5,957.7 356.96,958.67 357.42,959.23 357.88,960.5 358.34,960.52 358.8,961.2 359.6,960.82 360.4,961.28 361.2,960 361.77,960.06 362.35,960.28 362.93,961.42 363.5,962.3 364.27,961.6 365.03,960.89 365.8,961.2 366.13,961.71 366.46,961.68 366.79,963.93 367.11,963.8 367.44,965.17 367.77,965.5 368.1,965.8 368.43,966.87 368.76,967.58 369.09,967.41 369.41,968.84 369.74,968.56 370.07,969.84 370.4,970.4 371.17,970.17 371.93,970.1 372.7,969.2 373.07,967.84 373.43,967.39 373.8,966.9 373.92,968.17 374.04,968.83 374.16,969.83 374.28,968.97 374.4,969.83 374.52,970.33 374.64,972.13 374.76,972.86 374.88,973.38 375,973.8 375.07,975.01 375.13,975.24 375.2,976.03 375.27,977.38 375.33,977.59 375.4,978.31 375.47,978.9 375.53,979.43 375.6,980.61 375.67,980.99 375.73,980.89 375.8,982.13 375.87,982.83 375.93,983.56 376,984.49 376.07,984.84 376.13,985.6 376.2,986.5 376.32,985.6 376.44,984.74 376.57,985.05 376.69,982.7 376.81,981.8 376.93,982.3 377.06,980.94 377.18,980.27 377.3,979.6 377.7,980.34 378.1,980.51 378.5,980.86 378.9,981.9 379.01,981.73 379.11,983.98 379.22,984.81 379.32,984.34 379.43,985.37 379.53,985.82 379.64,986.04 379.74,988.25 379.85,988.86 379.96,988.49 380.06,989.22 380.17,990.72 380.27,991.61 380.38,991.72 380.48,992.28 380.59,992.71 380.69,994.43 380.8,994.6 380.94,994.53 381.07,993.79 381.21,991.73 381.35,991.87 381.49,991.85 381.62,990.64 381.76,989.45 381.9,988.8 382.05,987.45 382.2,986.58 382.35,987.08 382.5,985.17 382.65,985.79 382.8,984.82 382.95,983.76 383.1,983.1 383.68,983.23 384.25,982.73 384.82,981.58 385.4,980.8 386.17,979.68 386.93,980.16 387.7,979.6 388.47,979.09 389.23,978.42 390,978.5 390.77,978.87 391.53,978.11 392.3,977.3 393.07,977.02 393.83,977.61 394.6,978.5 395.37,978.58 396.13,979.36 396.9,979.6 397.67,979.55 398.43,980.02 399.2,980.4" fill="none" stroke="#2b2b2b" stroke-width="1.9" stroke-linejoin="round" stroke-linecap="round" />
<polyline points="404.5,982.5 404.5,982.36 404.5,980.52 404.5,980.79 404.5,979.39 404.51,979.79 404.51,979.11 404.51,977.28 404.51,977.08 404.51,975.49 404.51,975.33 404.51,975.01 404.51,974.33 404.52,973.1 404.52,971.84 404.52,971.31 404.52,971.39 404.52,969.99 404.52,969.53 404.52,969.39 404.52,969.2 404.52,967.8 404.53,966.63 404.53,966.53 404.53,965.27 404.53,965.48 404.53,963.65 404.53,963.14 404.53,962.76 404.53,962.9 404.53,960.86 404.54,960.21 404.54,959.4 404.54,958.85 404.54,958.36 404.54,957.77 404.54,957.73 404.54,956.38 404.54,955.81 404.55,954.97 404.55,954.95 404.55,954.48 404.55,952.92 404.55,953.11 404.55,951.2 404.55,951.81 404.55,950.29 404.55,949.87 404.56,948.63 404.56,947.73 404.56,946.79 404.56,947.43 404.56,945.79 404.56,945.7 404.56,944.57 404.56,943.98 404.57,942.71 404.57,941.95 404.57,941.54 404.57,941.46 404.57,940.51 404.57,938.83 404.57,939.41 404.57,938.21 404.57,936.85 404.58,936.49 404.58,935.7 404.58,936.1 404.58,934.91 404.58,933.81 404.58,932.97 404.58,932.34 404.58,931.62 404.58,931.04 404.59,931.14 404.59,930.43 404.59,929.57 404.59,929.2 404.59,928.09 404.59,926.41 404.59,925.59 404.59,925.1 404.6,924.57 404.6,924.35 404.6,924.18 404.6,923.06 404.6,922.2 404.71,922.78 404.82,923.15 404.93,925.18 405.04,925.48 405.16,925.44 405.27,925.62 405.38,928.01 405.49,927.41 405.6,929.18 405.71,928.57 405.82,930.24 405.93,930.41 406.04,932.07 406.16,931.71 406.27,932.06 406.38,932.95 406.49,934.74 406.6,934.9 407.06,936.36 407.51,936.36 407.97,937.03 408.43,936.91 408.89,937.49 409.34,937.76 409.8,939.1 410.26,940.59 410.71,939.51 411.17,941.15 411.63,941.29 412.09,941.61 412.54,942.67 413,943.4 413.4,944.84 413.8,944.27 414.2,944.78 414.6,946.28 415,947 415.4,947.39 415.8,947.46 416.2,948.7 416.72,949.89 417.23,949.03 417.75,949.66 418.27,950.3 418.78,951.31 419.3,951.8 419.94,952.18 420.58,952.74 421.22,953.47 421.86,954.19 422.5,953.9 422.96,954.46 423.41,954.3 423.87,956.34 424.33,955.49 424.79,956.64 425.24,956.94 425.7,958.2 425.93,959.08 426.17,960.11 426.4,959.63 426.63,960.63 426.87,962.33 427.1,962.74 427.33,962.4 427.57,964.14 427.8,964.5 428.06,965.69 428.32,965.66 428.59,965.87 428.85,967.44 429.11,967.49 429.38,967.82 429.64,968.53 429.9,969.8 430.32,970.26 430.74,970.41 431.16,971.51 431.58,972.45 432,973 432.42,973.73 432.84,974.11 433.26,975.46 433.68,974.82 434.1,976.2 434.38,976.54 434.65,978.28 434.93,978.81 435.2,979.56 435.48,979.93 435.75,980.16 436.03,981.27 436.3,981.4 436.49,982.21 436.68,982.08 436.87,983.01 437.06,983.4 437.25,985.48 437.45,985.17 437.64,986.01 437.83,986.92 438.02,986.82 438.21,988.59 438.4,988.9 438.92,989.96 439.45,990.48 439.98,991.16 440.5,991 440.76,991.33 441.02,991.69 441.29,993.46 441.55,994 441.81,994.08 442.08,994.69 442.34,995.01 442.6,996.3 442.73,997.6 442.85,997.63 442.98,998.96 443.1,998.81 443.23,999.48 443.35,1000.52 443.48,1001.64 443.6,1002.59 443.73,1002.34 443.85,1003.65 443.98,1003.83 444.1,1004.7 444.44,1004.71 444.78,1003.89 445.12,1002.88 445.46,1001.89 445.8,1001.5 445.91,1001.82 446.02,1003.65 446.13,1004.22 446.24,1004.05 446.35,1004.38 446.46,1005.31 446.57,1007.42 446.68,1006.48 446.79,1008.59 446.91,1008.82 447.02,1009.59 447.13,1010.29 447.24,1010.78 447.35,1011.77 447.46,1011.66 447.57,1013.88 447.68,1013.13 447.79,1013.92 447.9,1015.3 448,1016.35 448.1,1017.03 448.2,1018.07 448.3,1018.61 448.4,1019.78 448.5,1018.93 448.6,1019.6 448.7,1020.75 448.8,1022.46 448.9,1022.7 449.34,1022.71 449.78,1024.04 450.22,1025.11 450.66,1024.64 451.1,1025.9 451.6,1026.45 452.1,1026.9 452.27,1028.36 452.44,1028.83 452.61,1028.94 452.78,1029.82 452.95,1030.2 453.12,1032.17 453.29,1032.59 453.46,1033.14 453.63,1033.21 453.8,1034.3 453.92,1033.99 454.03,1032.81 454.15,1032.64 454.26,1031.13 454.38,1031.33 454.49,1030.25 454.61,1029.1 454.72,1028.57 454.84,1028.27 454.95,1027.04 455.07,1027.09 455.18,1024.64 455.3,1024.8 455.38,1024.8 455.45,1023.75 455.53,1022.63 455.6,1022.56 455.68,1020.58 455.75,1020.2 455.82,1020.16 455.9,1019.64 455.98,1018.11 456.05,1018.51 456.12,1017.17 456.2,1015.37 456.27,1014.79 456.35,1013.99 456.43,1014.16 456.5,1012.99 456.57,1012.17 456.65,1011.78 456.72,1010.4 456.8,1011.18 456.88,1010.33 456.95,1009.11 457.02,1008.19 457.1,1007.23 457.17,1007.04 457.25,1005.86 457.32,1006.27 457.4,1004.7 457.54,1006.23 457.68,1006.52 457.82,1007.41 457.96,1006.76 458.1,1007.56 458.24,1008.66 458.38,1008.97 458.52,1010.21 458.66,1011.93 458.8,1012.37 458.94,1013.3 459.08,1012.68 459.22,1013.39 459.36,1013.74 459.5,1015.3 459.67,1015.59 459.83,1015.9 460,1017.45 460.17,1017.74 460.33,1019.11 460.5,1019.61 460.67,1020.38 460.83,1020.54 461,1021.6 461.34,1021.4 461.68,1020.7 462.02,1020.13 462.36,1019.07 462.7,1018.5 463.05,1017.72 463.4,1016.68 463.75,1015.52 464.1,1015.57 464.45,1015.13 464.8,1014.2 464.98,1012.94 465.15,1013.45 465.32,1012.78 465.5,1012.04 465.68,1011.27 465.85,1009.98 466.02,1008.72 466.2,1008.19 466.38,1008.33 466.55,1008.07 466.72,1005.8 466.9,1005.8 467.6,1005.24 468.3,1006.2 469,1006.8 469.55,1006 470.1,1005.93 470.65,1004.53 471.2,1004.7 471.73,1005.84 472.25,1005.46 472.77,1007.01 473.3,1006.8 473.72,1005.87 474.14,1005.21 474.56,1004.36 474.98,1005.16 475.4,1003.7 475.92,1004.39 476.45,1005.34 476.98,1004.49 477.5,1005.8 477.56,1006.58 477.62,1007.63 477.68,1008.79 477.74,1009.41 477.81,1008.61 477.87,1009.81 477.93,1011.64 477.99,1011.51 478.05,1012.97 478.11,1012.41 478.17,1012.71 478.23,1015.07 478.29,1014.55 478.36,1015.79 478.42,1016.13 478.48,1017.23 478.54,1018.58 478.6,1018.5 478.71,1020.04 478.82,1020.64 478.92,1020.25 479.03,1022 479.14,1021.29 479.25,1022.73 479.35,1024.41 479.46,1023.9 479.57,1024.84 479.68,1025.95 479.78,1026.06 479.89,1027.64 480,1028 480.19,1027.56 480.38,1025.85 480.57,1026.62 480.76,1024.38 480.94,1024.8 481.13,1023.46 481.32,1022.38 481.51,1021.55 481.7,1021.6 481.98,1021.8 482.27,1020.74 482.55,1019.43 482.83,1019.33 483.12,1018.95 483.4,1017.4" fill="none" stroke="#2b2b2b" stroke-width="1.9" stroke-linejoin="round" stroke-linecap="round" />
<polyline points="399.2,980.4 399.9,981.5 400.6,981.13 401.3,981.4 402.1,981.27 402.9,981.98 403.7,983.09 404.5,982.5 404.5,982.21 404.5,981.4 404.5,981 404.51,979.52 404.51,979.08 404.51,978.9 404.51,977.02 404.51,977.51 404.51,975.3 404.51,975.52 404.51,974.88 404.52,973.4 404.52,974.09 404.52,972.52 404.52,971.36 404.52,971.06 404.52,970.68 404.52,969.68 404.52,968.21 404.53,967.66 404.53,968.08 404.53,966.32 404.53,965.84 404.53,966.13 404.53,965.52 404.53,964.85 404.53,962.88 404.54,961.87 404.54,962.51 404.54,961.52 404.54,960.4 404.54,959.07 404.54,959.11 404.54,958.05 404.54,957.98 404.55,957.98 404.55,955.89 404.55,954.94 404.55,955.35 404.55,953.59 404.55,953.09 404.55,952.78 404.56,953.05 404.56,951.16 404.56,950.44 404.56,950.02 404.56,948.75 404.56,948.48 404.56,948.31 404.56,946.93 404.57,947.07 404.57,945.27 404.57,944.41 404.57,944.65 404.57,943.63 404.57,943.77 404.57,941.6 404.57,942.05 404.58,941.2 404.58,939.96 404.58,938.82 404.58,938.98 404.58,938.54 404.58,937.32 404.58,936.62 404.58,936.3 404.59,935.45 404.59,934.41 404.59,933.28 404.59,933.08 404.59,932.53 404.59,932.44 404.59,931.92 404.59,930.42 404.6,929.31 404.6,928.41 404.6,928.44 404.6,927.5 404.7,928.67 404.8,928.53 404.9,930.06 405,931.36 405.1,931 405.2,932.73 405.3,932.57 405.4,933.69 405.5,934.82 405.6,934.9 405.7,935.11 405.8,936.1 405.9,937.99 406,937.08 406.1,938.25 406.2,939.3 406.3,940.52 406.4,941.06 406.5,942.33 406.6,942.3 407.04,943.25 407.48,942.68 407.92,943.45 408.36,944.03 408.8,945.5 409.32,945.91 409.83,945.72 410.35,947.15 410.87,947.87 411.38,947.63 411.9,948.7 412.43,949.86 412.97,949.58 413.5,951.08 414.03,950.51 414.57,951.5 415.1,951.8 415.5,952.54 415.9,952.7 416.3,954.29 416.7,953.56 417.1,954.66 417.5,955.45 417.9,957.13 418.3,957.1 418.92,957.52 419.54,957.11 420.16,958 420.78,958.98 421.4,959.2 422.04,960.18 422.68,959.34 423.32,960.96 423.96,960.68 424.6,961.3 424.95,962.06 425.3,962.59 425.65,963.34 426,965.05 426.35,965.64 426.7,965.6 426.93,967.05 427.17,967.42 427.4,968.06 427.63,967.75 427.87,968.26 428.1,970.4 428.33,970.81 428.57,971.44 428.8,971.9 429.65,972.11 430.5,973 431,971.88 431.5,972.36 432,970.9 432.23,971.66 432.47,971.44 432.7,972.71 432.93,973.43 433.17,973.62 433.4,975.96 433.63,976.53 433.87,977.07 434.1,977.2 434.38,976.97 434.65,978.38 434.93,978.49 435.2,980.26 435.48,981.07 435.75,981.7 436.03,982.36 436.3,982.5 436.82,982.34 437.35,982.67 437.88,983.34 438.4,984.6 438.73,984.52 439.07,983.79 439.4,982.5 439.63,983.24 439.87,983.44 440.1,985.28 440.33,984.66 440.57,985.74 440.8,985.87 441.03,988.35 441.27,988.04 441.5,988.9 441.68,990.09 441.87,990.84 442.05,991.15 442.23,992.58 442.42,992.89 442.6,993.87 442.78,994.63 442.97,993.75 443.15,995.65 443.33,995.41 443.52,996.28 443.7,997.3 444.12,996.37 444.54,996.9 444.96,994.59 445.38,994.62 445.8,994.1 445.94,994.14 446.08,996.41 446.22,996.21 446.36,997.29 446.5,997.67 446.64,998.82 446.78,998.75 446.92,999.6 447.06,1000.9 447.2,1001.53 447.34,1002.57 447.48,1002.24 447.62,1003.91 447.76,1004.42 447.9,1004.7 448.42,1005.36 448.95,1005.58 449.48,1006.4 450,1006.8 450.53,1006.57 451.07,1007.14 451.6,1008.06 452.13,1008.26 452.67,1008.65 453.2,1010 453.43,1009.69 453.67,1009.02 453.9,1008.11 454.13,1006.67 454.37,1006.9 454.6,1006.39 454.83,1005.31 455.07,1003.91 455.3,1003.7 455.51,1003.08 455.72,1002.03 455.93,1001.06 456.14,1000.11 456.35,1000.66 456.56,999.5 456.77,999.3 456.98,997.19 457.19,996.62 457.4,996.3 457.61,997.06 457.82,996.99 458.03,998.16 458.24,999.33 458.45,999.97 458.66,1001.48 458.87,1001.62 459.08,1002.47 459.29,1003.11 459.5,1003.7 460.3,1004.46 461.1,1003.96 461.9,1003.55 462.7,1004.7 463.1,1004.9 463.5,1003.9 463.9,1002.04 464.3,1001.35 464.7,1000.89 465.1,1001.01 465.5,999.4 465.9,999.4 466.67,998.54 467.45,999.39 468.23,998.51 469,999.4 469.8,998.72 470.6,998.69 471.4,998.12 472.2,998.4 473,997.23 473.8,997.42 474.6,997.11 475.4,997.3 475.97,997.68 476.53,998.55 477.1,999.4 477.25,999.89 477.4,1000.56 477.55,1000.75 477.7,1002.97 477.85,1003.53 478,1003.83 478.15,1003.69 478.3,1004.84 478.45,1006.78 478.6,1006.8 479.07,1007.46 479.53,1007.74 480,1009 480.28,1008.86 480.57,1008.27 480.85,1006.17 481.13,1006.14 481.42,1005.53 481.7,1004.7 482.55,1003.51 483.4,1003.7" fill="none" stroke="#dc3a3f" stroke-width="1.7" stroke-linejoin="round" stroke-linecap="round" />
<rect x="440.5" y="979.3" width="45.8" height="59.4" fill="none" stroke="#333" stroke-width="1.0"/>
<line x1="454.2" y1="978.7" x2="301" y2="909.2" stroke="#333" stroke-width="0.75" />
<polygon points="297.8,907.8 305.91,909.28 304.26,912.92" fill="#111"/>
<rect x="149" y="874.6" width="148.3" height="86.7" fill="#fff" stroke="#555" stroke-width="0.8"/>
<line x1="153.2" y1="961.3" x2="153.2" y2="963" stroke="#555" stroke-width="0.6" />
<text transform="translate(153.2,969.3) scale(1,1.0)" font-size="4.8" text-anchor="middle" fill="#333" stroke="#333" stroke-width="0.08" >920</text>
<line x1="180.34" y1="961.3" x2="180.34" y2="963" stroke="#555" stroke-width="0.6" />
<text transform="translate(180.34,969.3) scale(1,1.0)" font-size="4.8" text-anchor="middle" fill="#333" stroke="#333" stroke-width="0.08" >940</text>
<line x1="207.48" y1="961.3" x2="207.48" y2="963" stroke="#555" stroke-width="0.6" />
<text transform="translate(207.48,969.3) scale(1,1.0)" font-size="4.8" text-anchor="middle" fill="#333" stroke="#333" stroke-width="0.08" >960</text>
<line x1="234.62" y1="961.3" x2="234.62" y2="963" stroke="#555" stroke-width="0.6" />
<text transform="translate(234.62,969.3) scale(1,1.0)" font-size="4.8" text-anchor="middle" fill="#333" stroke="#333" stroke-width="0.08" >980</text>
<line x1="261.76" y1="961.3" x2="261.76" y2="963" stroke="#555" stroke-width="0.6" />
<text transform="translate(261.76,969.3) scale(1,1.0)" font-size="4.8" text-anchor="middle" fill="#333" stroke="#333" stroke-width="0.08" >1000</text>
<line x1="288.9" y1="961.3" x2="288.9" y2="963" stroke="#555" stroke-width="0.6" />
<text transform="translate(288.9,969.3) scale(1,1.0)" font-size="4.8" text-anchor="middle" fill="#333" stroke="#333" stroke-width="0.08" >1020</text>
<line x1="147.3" y1="920.6" x2="149" y2="920.6" stroke="#555" stroke-width="0.6" />
<text transform="translate(146,922.3) scale(1,1.0)" font-size="4.8" text-anchor="end" fill="#333" stroke="#333" stroke-width="0.08" >3.15</text>
<polyline points="149,891.2 149.5,891.07 150,891.61 150.5,891.8 151,891.86 151.5,891.8 151.84,892.32 152.18,892.33 152.51,892.25 152.85,892.52 153.19,894.02 153.52,894.41 153.86,894.82 154.2,894.6 154.34,894.44 154.48,895.85 154.62,895.45 154.76,896.12 154.9,896.36 155.04,897.71 155.18,898.09 155.32,898.55 155.46,898.35 155.6,899.56 155.74,899.05 155.88,899.92 156.02,900.5 156.16,900.32 156.3,900.96 156.44,901 156.58,902.41 156.72,901.99 156.86,902.36 157,903.3 157.13,903.44 157.25,904.4 157.38,904.85 157.51,905.15 157.63,906.06 157.76,906.37 157.88,906.06 158.01,906.97 158.14,906.91 158.26,907.46 158.39,907.78 158.52,908.14 158.64,908.97 158.77,910.18 158.89,910.31 159.02,909.96 159.15,910.6 159.27,911.58 159.4,911.9 159.75,911.6 160.1,910.56 160.45,910.31 160.8,910.63 161.15,910.34 161.5,909.27 161.85,909.9 162.2,908.82 162.55,908.96 162.9,908.5 163.24,908.19 163.58,907.58 163.92,908.07 164.26,906.95 164.6,906.64 164.94,906.46 165.28,906.53 165.62,906.38 165.96,905.73 166.3,905 166.58,904.67 166.86,904.53 167.13,904.03 167.41,904.09 167.69,903.71 167.97,903.03 168.24,901.88 168.52,901.98 168.8,901.5 169.1,901.8 169.4,901.9 169.7,903.06 170,902.67 170.3,903.74 170.6,903.82 170.9,904.12 171.2,904.9 171.5,905 171.55,905.77 171.59,906.6 171.64,907.06 171.69,907.24 171.74,906.95 171.78,907.97 171.83,908.18 171.88,909.26 171.93,909.02 171.97,909.35 172.02,909.34 172.07,910.42 172.12,910.96 172.16,911.11 172.21,911.28 172.26,912.26 172.31,912.14 172.35,912.74 172.4,913.57 172.45,913.89 172.49,914.56 172.54,915.06 172.59,915.31 172.64,915.41 172.68,915.71 172.73,916.92 172.78,917.95 172.83,917.44 172.87,918 172.92,918.41 172.97,919.45 173.02,919.56 173.06,920.44 173.11,919.79 173.16,920.42 173.21,920.98 173.25,921.66 173.3,922.3 173.35,922.62 173.4,923.06 173.45,924.33 173.5,924.05 173.55,924.7 173.6,925.7 173.65,925.71 173.7,926.1 173.75,926.89 173.8,926.66 173.85,926.7 173.9,928.45 173.95,928.31 174,928.84 174.05,928.58 174.1,929.98 174.15,929.92 174.2,930.76 174.25,930.71 174.3,932.06 174.35,931.75 174.4,932.08 174.45,933.4 174.5,932.92 174.55,933.45 174.6,934.21 174.65,935.36 174.7,934.61 174.75,935.2 174.8,936.48 174.85,935.93 174.9,936.86 174.95,937.84 175,937.9 175.44,938.41 175.88,938.74 176.31,938 176.75,939.3 177.19,938.76 177.62,939.61 178.06,939.35 178.5,939.6 178.88,940.46 179.26,940.19 179.63,940.19 180.01,940.36 180.39,941.15 180.77,940.84 181.14,941.31 181.52,942.61 181.9,942.4 182.29,942.77 182.68,943.44 183.07,942.71 183.46,943.44 183.84,943.69 184.23,943.45 184.62,943.94 185.01,945.12 185.4,944.8 185.66,945.51 185.92,945.61 186.18,946.15 186.45,946.91 186.71,947.44 186.97,947.33 187.23,946.97 187.49,948.52 187.75,947.93 188.02,948.44 188.28,948.69 188.54,949.62 188.8,950 189.03,950.53 189.27,950.77 189.5,951.2 189.73,951.15 189.97,952.37 190.2,952.53 190.43,952.63 190.67,953.77 190.9,954.33 191.13,954.72 191.37,955.23 191.6,954.36 191.83,955.22 192.07,955.72 192.3,956.2 192.42,955.42 192.53,955.67 192.65,955.46 192.77,953.95 192.88,954.03 193,954.23 193.12,953.69 193.23,952.64 193.35,951.72 193.47,951.77 193.58,951.42 193.7,951.36 193.82,950.08 193.93,949.78 194.05,950.33 194.17,948.53 194.28,948.93 194.4,947.77 194.52,948.25 194.63,947.36 194.75,947.63 194.87,946.21 194.98,946.69 195.1,945.34 195.22,944.65 195.33,944.27 195.45,943.82 195.57,943.82 195.68,944.2 195.8,943.1 195.9,942.45 195.99,942.51 196.09,941.11 196.19,941.34 196.29,940.93 196.38,939.86 196.48,940.09 196.58,939.46 196.67,938.85 196.77,939.11 196.87,938.47 196.97,937.22 197.06,936.75 197.16,936.23 197.26,936.08 197.35,936.16 197.45,936.18 197.55,935.73 197.65,935.14 197.74,933.66 197.84,934.15 197.94,933.66 198.03,932.81 198.13,933.1 198.23,932.1 198.33,930.98 198.42,930.67 198.52,930.1 198.62,930.33 198.71,929.9 198.81,929.78 198.91,928.15 199.01,927.71 199.1,928.61 199.2,927.5 199.33,926.72 199.46,926.27 199.59,926.67 199.72,925.16 199.85,925.67 199.98,925.37 200.11,924.45 200.24,924.07 200.37,922.77 200.5,923.17 200.63,922.73 200.76,922.5 200.89,921.7 201.01,920.69 201.14,920.39 201.27,920.54 201.4,919.29 201.53,918.88 201.66,918.64 201.79,918.95 201.92,918.15 202.05,917.44 202.18,917.84 202.31,916.86 202.44,915.93 202.57,915.94 202.7,915.4 203.05,915.55 203.4,914.52 203.75,914.26 204.1,914.11 204.45,914.33 204.8,913.49 205.15,912.5 205.5,912.6 205.72,913.12 205.94,913.17 206.15,913.79 206.37,914.53 206.59,913.97 206.81,915.07 207.03,915.2 207.25,916.01 207.46,916.73 207.68,916.65 207.9,917.1 208.04,917.71 208.18,917.67 208.33,918.06 208.47,918.85 208.61,919.31 208.75,919.31 208.89,920.5 209.03,920.57 209.18,920.8 209.32,921.09 209.46,922.34 209.6,922.86 209.74,923.35 209.88,922.81 210.03,923 210.17,924.22 210.31,923.8 210.45,925.4 210.59,925.58 210.73,925.54 210.88,926.12 211.02,926.89 211.16,926.59 211.3,927.5 211.48,927.74 211.65,928.76 211.83,929.04 212,929.34 212.18,929.09 212.35,929.68 212.53,930.17 212.7,930.28 212.88,931.57 213.05,931.9 213.23,932.82 213.4,932.74 213.58,933.68 213.75,933.48 213.93,933.97 214.1,934.07 214.28,934.76 214.45,935.85 214.62,935.65 214.8,936.1 215.24,935.19 215.68,935.47 216.11,935.04 216.55,935.42 216.99,935.05 217.43,934.79 217.86,935.21 218.3,934.4 218.64,934.43 218.98,933.14 219.32,932.72 219.66,933.32 220,932.84 220.34,932.57 220.68,932.02 221.02,931.03 221.36,931.27 221.7,931 222.1,931.2 222.5,930.6 222.9,929.55 223.3,929.4 223.7,930.22 224.1,929.45 224.5,928.65 224.9,929.14 225.3,929.17 225.7,928.82 226.1,928.24 226.5,928.2 226.9,927.5 227.11,926.51 227.32,926.62 227.52,926.69 227.73,925.61 227.94,924.92 228.15,925.52 228.36,924.87 228.56,923.48 228.77,923.15 228.98,923.42 229.19,923.56 229.4,922.67 229.6,922.62 229.81,921.12 230.02,921.37 230.23,920.4 230.44,920.19 230.64,919.52 230.85,919.55 231.06,918.54 231.27,918.98 231.48,918.55 231.68,918.5 231.89,917.89 232.1,917.1 232.42,916.18 232.75,916.97 233.07,916.19 233.4,916.41 233.72,915.46 234.05,914.56 234.38,915.11 234.7,914.04 235.03,914.85 235.35,913.9 235.68,914.09 236,913.19 236.33,912.63 236.65,912.78 236.98,912.52 237.3,911.9 237.73,912.02 238.16,911.94 238.59,912.31 239.03,912.9 239.46,912.39 239.89,912.47 240.32,913.1 240.75,913.52 241.18,912.87 241.61,913.33 242.04,914.49 242.47,913.67 242.91,914.56 243.34,914.08 243.77,913.95 244.2,914.7 244.64,914.51 245.07,914.87 245.51,914.56 245.95,913.37 246.39,914.11 246.82,913.82 247.26,913.45 247.7,913.53 248.14,913.16 248.57,912.51 249.01,913.05 249.45,912.08 249.89,912.16 250.32,912.74 250.76,912.17 251.2,911.9 251.61,912.12 252.01,912.61 252.42,912.51 252.82,912.56 253.23,913 253.64,912.47 254.04,913.13 254.45,912.9 254.85,914.45 255.26,914.53 255.66,914.38 256.07,913.89 256.48,915.07 256.88,914.48 257.29,915.41 257.69,915.41 258.1,915.4 258.53,915.41 258.97,915.45 259.4,914.65 259.83,915.3 260.27,914.75 260.7,914.91 261.13,914.88 261.57,913.92 262,914 262.43,913.79 262.87,913.25 263.3,913.7 263.73,914 264.15,913.51 264.57,913.01 265,912.86 265.43,913.11 265.85,911.75 266.27,911.93 266.7,911.9 267.14,912.39 267.57,912.4 268.01,912.57 268.45,912.46 268.89,912.64 269.32,913.49 269.76,913.25 270.2,913.7 270.34,914.74 270.48,915.12 270.62,915.65 270.77,915.1 270.91,915.87 271.05,915.72 271.19,916.51 271.33,916.54 271.48,917.56 271.62,918.63 271.76,918.79 271.9,918.66 272.04,918.97 272.18,920.31 272.32,919.51 272.47,921.05 272.61,921.49 272.75,920.82 272.89,922.49 273.03,922.49 273.18,922.56 273.32,923.04 273.46,923.72 273.6,924 273.68,924.49 273.75,925.42 273.83,925.91 273.9,925.57 273.98,925.57 274.06,927.1 274.13,927.37 274.21,927.83 274.28,927.47 274.36,927.93 274.44,929.53 274.51,929.24 274.59,929.84 274.67,930.99 274.74,930.36 274.82,931.42 274.89,931.07 274.97,932.22 275.05,932.93 275.12,932.56 275.2,933.86 275.27,934.6 275.35,934.86 275.43,935.26 275.5,935.93 275.58,936.06 275.65,936.28 275.73,937.12 275.81,937.54 275.88,937.75 275.96,938.25 276.03,938.02 276.11,938.7 276.19,939.13 276.26,940.33 276.34,940.67 276.42,940.44 276.49,941.87 276.57,941.02 276.64,941.47 276.72,942.3 276.8,942.4 276.87,944.07 276.95,943.7 277.02,944.19 277.1,944.8 277.37,944.9 277.64,944.05 277.91,943.78 278.18,943.12 278.45,942.74 278.72,943.04 278.98,941.69 279.25,941.64 279.52,941.17 279.79,940.3 280.06,939.9 280.33,940.01 280.6,939.6 280.86,939.62 281.12,938.7 281.38,937.78 281.65,938.61 281.91,937.09 282.17,937.74 282.43,936.16 282.69,936.61 282.95,935.5 283.22,935.26 283.48,935.09 283.74,935.16 284,934.4 284.38,934.03 284.75,933.72 285.12,933.41 285.5,933.3 285.88,932.68 286.25,933.33 286.62,931.98 287,931.62 287.38,931.92 287.75,931.36 288.12,931.59 288.5,931" fill="none" stroke="#333" stroke-width="1.0" stroke-linejoin="round" stroke-linecap="round" />
<polyline points="149,884.2 149.36,883.63 149.71,885.03 150.07,884.73 150.43,886 150.79,885.13 151.14,885.62 151.5,886 151.89,885.91 152.27,886.55 152.66,886.33 153.04,887.28 153.43,887.06 153.81,887.83 154.2,887.7 154.33,887.72 154.45,888.4 154.58,888.98 154.71,889.66 154.84,889.93 154.96,889.92 155.09,889.69 155.22,890.13 155.35,890.58 155.47,891.04 155.6,891.43 155.73,892.68 155.85,892.5 155.98,893.91 156.11,893.08 156.24,893.5 156.36,893.77 156.49,894.1 156.62,895.46 156.75,895.66 156.87,895.46 157,896.3 157.24,897.21 157.48,897.32 157.72,897.22 157.96,897.89 158.2,898.33 158.44,898.29 158.68,898.01 158.92,898.86 159.16,900.25 159.4,899.8 159.75,899.33 160.1,899.57 160.45,898.34 160.8,899.33 161.15,899.26 161.5,898.13 161.85,897.89 162.2,897.9 162.55,897.19 162.9,897.4 163.21,896.62 163.52,896.22 163.83,896.97 164.14,896.4 164.45,896.95 164.75,896.71 165.06,896.29 165.37,896.16 165.68,895.72 165.99,894 166.3,894.6 166.58,893.62 166.86,894.83 167.13,894.34 167.41,893.56 167.69,893.26 167.97,892.62 168.24,892.29 168.52,891.47 168.8,891.8 169.14,892.15 169.48,891.92 169.81,891.91 170.15,893.52 170.49,893.25 170.82,894.05 171.16,893.27 171.5,893.9 171.59,894.44 171.69,894.3 171.78,895.7 171.88,894.98 171.97,896.17 172.07,896.4 172.16,896.39 172.26,896.34 172.35,897.48 172.45,897.94 172.54,898.87 172.64,898.17 172.73,898.53 172.83,899.15 172.92,900.44 173.02,899.82 173.11,900.94 173.21,900.26 173.3,901.5 173.37,901.15 173.43,902.67 173.5,902.69 173.56,902.4 173.63,903.45 173.69,904.69 173.76,904.1 173.82,904.8 173.89,904.96 173.95,905.51 174.02,905.08 174.08,906.99 174.15,906.84 174.22,906.82 174.28,907.11 174.35,907.34 174.41,909.08 174.48,909.31 174.54,908.88 174.61,909.69 174.67,909.99 174.74,909.76 174.8,909.86 174.87,911.52 174.93,910.89 175,911.9 175.44,912.1 175.88,911.21 176.31,911.3 176.75,911.65 177.19,912.61 177.62,912.63 178.06,913.4 178.5,912.6 178.93,913.03 179.35,912.91 179.78,912.14 180.2,913.97 180.62,913.27 181.05,914.07 181.47,912.74 181.9,913.7 182.29,914.41 182.68,913.88 183.07,913.52 183.46,913.98 183.84,913.49 184.23,914.51 184.62,913.97 185.01,914.95 185.4,914.7 185.74,914.35 186.08,915.52 186.42,915.63 186.76,916.04 187.1,916.71 187.44,915.77 187.78,916.71 188.12,916.44 188.46,917.57 188.8,917.1 189.09,917.98 189.38,918.16 189.68,918.15 189.97,917.84 190.26,919.29 190.55,919.69 190.84,919.95 191.13,919.14 191.43,920.3 191.72,920.34 192.01,920.92 192.3,920.6 192.53,920.8 192.77,919.82 193,919.37 193.23,919.75 193.47,919.14 193.7,918.59 193.93,918.85 194.17,916.98 194.4,916.6 194.63,917.07 194.87,916.06 195.1,917.06 195.33,915.35 195.57,916.43 195.8,915.4 195.95,914.53 196.1,913.98 196.24,914.72 196.39,914.21 196.54,913.35 196.69,913.3 196.83,912.85 196.98,913.18 197.13,912.01 197.28,911.69 197.43,911.17 197.57,910.7 197.72,910.82 197.87,909.41 198.02,910.07 198.17,910.12 198.31,909.44 198.46,908.67 198.61,907.95 198.76,907.11 198.9,906.72 199.05,907.15 199.2,906.7 199.43,907.04 199.67,906.67 199.9,905.09 200.13,905.76 200.37,905.52 200.6,904.58 200.83,904.92 201.07,903.36 201.3,903.28 201.53,903.26 201.77,903.29 202,902.45 202.23,901.84 202.47,902.51 202.7,901.5 203.1,901.21 203.5,901.16 203.9,900.7 204.3,901.07 204.7,901.37 205.1,900.65 205.5,900.8 205.7,901.44 205.9,901.49 206.1,900.97 206.3,903.03 206.5,902.17 206.7,902.98 206.9,904.08 207.1,903.07 207.3,903.17 207.5,903.77 207.7,904.03 207.9,905 208.1,906 208.3,905.76 208.5,905.27 208.7,906.05 208.9,906.84 209.1,906.6 209.3,907.2 209.5,908.65 209.7,908.18 209.9,908.17 210.1,909.19 210.3,908.68 210.5,909.78 210.7,910.37 210.9,909.73 211.1,910.92 211.3,911.2 211.57,911.18 211.84,912.29 212.11,912.38 212.38,913.23 212.65,913.01 212.92,912.57 213.18,912.9 213.45,914.15 213.72,914.67 213.99,913.64 214.26,914.6 214.53,914.69 214.8,915.4 215.19,915.15 215.58,915.69 215.97,914.94 216.36,915.08 216.74,914.93 217.13,913.87 217.52,914.29 217.91,913.66 218.3,913.7 218.68,913.45 219.06,913.35 219.43,913.4 219.81,912.3 220.19,913.31 220.57,911.89 220.94,911.96 221.32,912.73 221.7,911.9 222.1,912.64 222.5,911.4 222.9,912.32 223.3,910.54 223.7,912.07 224.1,910.58 224.5,910.15 224.9,911.33 225.3,910.11 225.7,911.05 226.1,909.57 226.5,909.65 226.9,910.2 227.19,909.65 227.48,908.87 227.77,909.28 228.06,908.77 228.34,909.18 228.63,908.45 228.92,909.02 229.21,908.51 229.5,907.01 229.79,908.06 230.08,907.73 230.37,906.85 230.66,906.49 230.94,905.56 231.23,905.54 231.52,905.07 231.81,904.74 232.1,905 232.5,905.07 232.9,904.42 233.3,905.09 233.7,904.61 234.1,904.94 234.5,903.47 234.9,904.71 235.3,903.97 235.7,904.06 236.1,903.22 236.5,903.91 236.9,903.26 237.3,903.3 237.71,903.76 238.11,903.57 238.52,902.83 238.92,903.18 239.33,904.05 239.74,902.78 240.14,903.95 240.55,903.85 240.95,904.22 241.36,903.58 241.76,903.91 242.17,903.96 242.58,904.51 242.98,903.35 243.39,904.2 243.79,903.81 244.2,904.3 244.61,904.44 245.02,903.83 245.44,903.72 245.85,903.75 246.26,904.92 246.67,903.95 247.08,904.86 247.49,904.58 247.91,903.73 248.32,904.22 248.73,903.22 249.14,904.87 249.55,904.31 249.96,903.36 250.38,904.07 250.79,904.01 251.2,904 251.61,904.27 252.01,903.54 252.42,904.61 252.82,904.06 253.23,903.02 253.64,904.33 254.04,904.4 254.45,903.32 254.85,904.01 255.26,904.24 255.66,904.23 256.07,902.73 256.48,904.07 256.88,902.97 257.29,903.93 257.69,903.68 258.1,903.3 258.53,903.24 258.97,904.02 259.4,903.85 259.83,904.19 260.27,904.13 260.7,903.43 261.13,903.72 261.57,903.61 262,903.12 262.43,903.3 262.87,903.31 263.3,903.3 263.68,902.59 264.06,902.47 264.43,903.32 264.81,903.12 265.19,902.66 265.57,902.44 265.94,901.92 266.32,901.83 266.7,901.5 267.09,902 267.48,901.01 267.87,902 268.26,903.15 268.64,901.97 269.03,902.64 269.42,902.14 269.81,902.66 270.2,903.3 270.43,904.23 270.65,903.15 270.88,904.88 271.11,905.22 271.33,905.7 271.56,904.94 271.79,906.5 272.01,905.84 272.24,906.33 272.47,907.58 272.69,907.19 272.92,907.79 273.15,907.11 273.37,907.26 273.6,908.5 273.74,908.46 273.88,908.57 274.02,910.25 274.16,909.6 274.3,911.26 274.44,911.15 274.58,910.66 274.72,911.98 274.86,911.66 275,912.43 275.14,912 275.28,913.76 275.42,914.06 275.56,914.08 275.7,914.66 275.84,914.42 275.98,914.43 276.12,915.17 276.26,916.3 276.4,916.37 276.54,915.99 276.68,916.57 276.82,917.38 276.96,916.94 277.1,918.2 277.42,917.13 277.74,917.6 278.05,916.78 278.37,917.88 278.69,916.26 279.01,917.12 279.33,916.95 279.65,915.83 279.96,915.98 280.28,916.54 280.6,915.4 280.91,915.36 281.22,914.69 281.53,915.49 281.84,913.95 282.15,914.95 282.45,913.53 282.76,913.48 283.07,913.03 283.38,913.38 283.69,913.54 284,912.6 284.41,912.81 284.82,911.77 285.23,913.1 285.64,912.49 286.05,911.97 286.45,912.47 286.86,911 287.27,911.76 287.68,911.97 288.09,911.83 288.5,911.2" fill="none" stroke="#dc3a3f" stroke-width="1.0" stroke-linejoin="round" stroke-linecap="round" opacity="0.9"/>
<line x1="68.6" y1="1041.1" x2="308" y2="1041.1" stroke="#2424d8" stroke-width="1.5" />
<polygon points="63.8,1041.1 71.8,1039 70.6,1041.1 71.8,1043.2" fill="#2424d8"/>
<polygon points="312.8,1041.1 304.8,1039 306,1041.1 304.8,1043.2" fill="#2424d8"/>
<line x1="320.6" y1="1041.1" x2="392.5" y2="1041.1" stroke="#2424d8" stroke-width="1.5" />
<polygon points="315.8,1041.1 323.8,1039 322.6,1041.1 323.8,1043.2" fill="#2424d8"/>
<polygon points="397.3,1041.1 389.3,1039 390.5,1041.1 389.3,1043.2" fill="#2424d8"/>
<line x1="405" y1="1041.1" x2="490.1" y2="1041.1" stroke="#2424d8" stroke-width="1.5" />
<polygon points="400.2,1041.1 408.2,1039 407,1041.1 408.2,1043.2" fill="#2424d8"/>
<polygon points="494.9,1041.1 486.9,1039 488.1,1041.1 486.9,1043.2" fill="#2424d8"/>
<line x1="314.3" y1="941.1" x2="314.3" y2="1045.4" stroke="#2424d8" stroke-width="1.5" />
<line x1="398.7" y1="948.6" x2="398.7" y2="1052.3" stroke="#2424d8" stroke-width="1.5" />
<text transform="translate(64.7,1055.2) scale(1,1.0)" font-size="10.5" text-anchor="start" fill="#2e2eb8" stroke="#2e2eb8" stroke-width="0.25" >60% Missing data</text>
<text transform="translate(316.2,1055.8) scale(1,1.0)" font-size="10.5" text-anchor="start" fill="#2e2eb8" stroke="#2e2eb8" stroke-width="0.25" >20% Training data</text>
<text transform="translate(408.8,1055.2) scale(1,1.0)" font-size="10.5" text-anchor="start" fill="#2e2eb8" stroke="#2e2eb8" stroke-width="0.25" >20% Testing data</text>
<line x1="62.7" y1="1063.3" x2="62.7" y2="1069.1" stroke="#000" stroke-width="1.3" />
<text transform="translate(62.7,1081.7) scale(1,1.1)" font-size="11.8" text-anchor="middle" fill="#111" stroke="#111" stroke-width="0.25" >0</text>
<line x1="124.53" y1="1063.3" x2="124.53" y2="1069.1" stroke="#000" stroke-width="1.3" />
<text transform="translate(124.53,1081.7) scale(1,1.1)" font-size="11.8" text-anchor="middle" fill="#111" stroke="#111" stroke-width="0.25" >150</text>
<line x1="186.36" y1="1063.3" x2="186.36" y2="1069.1" stroke="#000" stroke-width="1.3" />
<text transform="translate(186.36,1081.7) scale(1,1.1)" font-size="11.8" text-anchor="middle" fill="#111" stroke="#111" stroke-width="0.25" >300</text>
<line x1="248.19" y1="1063.3" x2="248.19" y2="1069.1" stroke="#000" stroke-width="1.3" />
<text transform="translate(248.19,1081.7) scale(1,1.1)" font-size="11.8" text-anchor="middle" fill="#111" stroke="#111" stroke-width="0.25" >450</text>
<line x1="310.01" y1="1063.3" x2="310.01" y2="1069.1" stroke="#000" stroke-width="1.3" />
<text transform="translate(310.01,1081.7) scale(1,1.1)" font-size="11.8" text-anchor="middle" fill="#111" stroke="#111" stroke-width="0.25" >600</text>
<line x1="371.84" y1="1063.3" x2="371.84" y2="1069.1" stroke="#000" stroke-width="1.3" />
<text transform="translate(371.84,1081.7) scale(1,1.1)" font-size="11.8" text-anchor="middle" fill="#111" stroke="#111" stroke-width="0.25" >750</text>
<line x1="433.67" y1="1063.3" x2="433.67" y2="1069.1" stroke="#000" stroke-width="1.3" />
<text transform="translate(433.67,1081.7) scale(1,1.1)" font-size="11.8" text-anchor="middle" fill="#111" stroke="#111" stroke-width="0.25" >900</text>
<line x1="495.5" y1="1063.3" x2="495.5" y2="1069.1" stroke="#000" stroke-width="1.3" />
<text transform="translate(495.5,1081.7) scale(1,1.1)" font-size="11.8" text-anchor="middle" fill="#111" stroke="#111" stroke-width="0.25" >1050</text>
<line x1="93.61" y1="1063.3" x2="93.61" y2="1066.5" stroke="#000" stroke-width="1.3" />
<line x1="155.44" y1="1063.3" x2="155.44" y2="1066.5" stroke="#000" stroke-width="1.3" />
<line x1="217.27" y1="1063.3" x2="217.27" y2="1066.5" stroke="#000" stroke-width="1.3" />
<line x1="279.1" y1="1063.3" x2="279.1" y2="1066.5" stroke="#000" stroke-width="1.3" />
<line x1="340.93" y1="1063.3" x2="340.93" y2="1066.5" stroke="#000" stroke-width="1.3" />
<line x1="402.76" y1="1063.3" x2="402.76" y2="1066.5" stroke="#000" stroke-width="1.3" />
<line x1="464.59" y1="1063.3" x2="464.59" y2="1066.5" stroke="#000" stroke-width="1.3" />
<line x1="56.9" y1="1063.3" x2="62.7" y2="1063.3" stroke="#000" stroke-width="1.3" />
<text transform="translate(53.3,1066.9) scale(1,1.1)" font-size="11.6" text-anchor="end" fill="#111" stroke="#111" stroke-width="0.25" >3.10</text>
<line x1="56.9" y1="1010.88" x2="62.7" y2="1010.88" stroke="#000" stroke-width="1.3" />
<text transform="translate(53.3,1014.48) scale(1,1.1)" font-size="11.6" text-anchor="end" fill="#111" stroke="#111" stroke-width="0.25" >3.15</text>
<line x1="56.9" y1="958.45" x2="62.7" y2="958.45" stroke="#000" stroke-width="1.3" />
<text transform="translate(53.3,962.05) scale(1,1.1)" font-size="11.6" text-anchor="end" fill="#111" stroke="#111" stroke-width="0.25" >3.20</text>
<line x1="56.9" y1="906.02" x2="62.7" y2="906.02" stroke="#000" stroke-width="1.3" />
<text transform="translate(53.3,909.62) scale(1,1.1)" font-size="11.6" text-anchor="end" fill="#111" stroke="#111" stroke-width="0.25" >3.25</text>
<line x1="56.9" y1="853.6" x2="62.7" y2="853.6" stroke="#000" stroke-width="1.3" />
<text transform="translate(53.3,857.2) scale(1,1.1)" font-size="11.6" text-anchor="end" fill="#111" stroke="#111" stroke-width="0.25" >3.30</text>
<line x1="59.5" y1="1037.09" x2="62.7" y2="1037.09" stroke="#000" stroke-width="1.3" />
<line x1="59.5" y1="984.66" x2="62.7" y2="984.66" stroke="#000" stroke-width="1.3" />
<line x1="59.5" y1="932.24" x2="62.7" y2="932.24" stroke="#000" stroke-width="1.3" />
<line x1="59.5" y1="879.81" x2="62.7" y2="879.81" stroke="#000" stroke-width="1.3" />
<rect x="62.7" y="853.6" width="432.8" height="209.7" fill="none" stroke="#000" stroke-width="1.6"/>
<text transform="translate(278.8,1096) scale(1,1.12)" font-size="14.2" text-anchor="middle" fill="#111" stroke="#111" stroke-width="0.4" >Time/h</text>
<text transform="translate(28.3,958) rotate(-90) scale(1.0,1)" font-size="15" text-anchor="middle" fill="#111" stroke="#111" stroke-width="0.4">Voltage/V</text>
<text transform="translate(91.4,887.5) scale(1,1.02)" font-size="18.5" text-anchor="start" fill="#111" stroke="#111" stroke-width="0.25" >(d)</text>
<rect x="339" y="860.4" width="149.3" height="25.9" fill="#fff" stroke="#707070" stroke-width="0.9"/>
<line x1="340" y1="866.6" x2="364.3" y2="866.6" stroke="#333" stroke-width="1.3" />
<line x1="340" y1="881.2" x2="364.3" y2="881.2" stroke="#dc3a3f" stroke-width="1.3" />
<text transform="translate(366.7,870.2) scale(1,1.0)" font-size="10.9" text-anchor="start" fill="#111" stroke="#111" stroke-width="0.25" >True</text>
<text transform="translate(366.7,884.8) scale(1,1.0)" font-size="10.9" text-anchor="start" fill="#111" stroke="#111" stroke-width="0.25" >EWOA-CNN-BiLSTM-AT</text>
</svg>
</body></html>
